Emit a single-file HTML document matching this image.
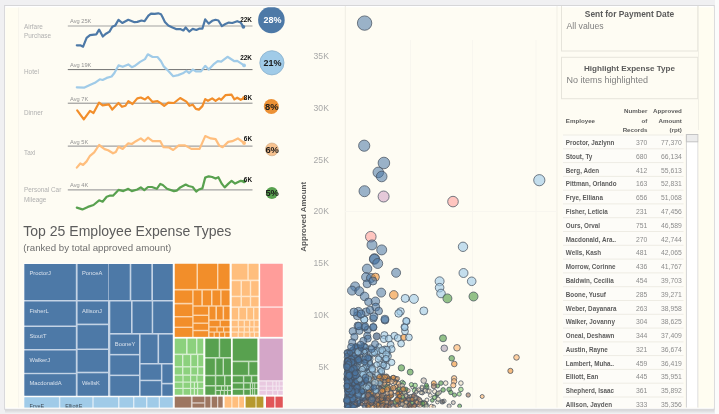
<!DOCTYPE html>
<html><head><meta charset="utf-8"><title>Expense Dashboard</title>
<style>
html,body{margin:0;padding:0;width:719px;height:414px;overflow:hidden;background:#f0f0f2;}
svg{display:block;position:absolute;left:0;top:0;font-family:"Liberation Sans", sans-serif;}
</style></head><body>
<svg width="719" height="414" viewBox="0 0 719 414">
<defs>
<filter id="bl" x="-10" y="-10" width="739" height="434" filterUnits="userSpaceOnUse"><feGaussianBlur stdDeviation="0.45"/></filter>
<linearGradient id="sh" x1="0" y1="0" x2="0" y2="1"><stop offset="0" stop-color="#cfcfd2"/><stop offset="1" stop-color="#f0f0f2"/></linearGradient>
<clipPath id="card"><rect x="5.2" y="6" width="708.6" height="401.6"/></clipPath>
</defs>
<g filter="url(#bl)">
<rect x="-10" y="-10" width="739" height="434" fill="#f0f0f2"/>
<rect x="5" y="409" width="709.5" height="4.5" fill="url(#sh)"/>
<rect x="715" y="-10" width="14" height="434" fill="#fcfcfc"/>
<rect x="4.6" y="5.5" width="709.7" height="403.8" fill="#ffffff" stroke="#d6d6d8" stroke-width="1"/>
<rect x="5.4" y="7.5" width="708.2" height="400.1" fill="#fffdf1"/>
<g clip-path="url(#card)">
<rect x="18.5" y="7.5" width="679" height="403" fill="#fefcf3"/>
<line x1="18.5" x2="18.5" y1="7.5" y2="409" stroke="#f7f5ec" stroke-width="1"/>
<!-- sparklines labels -->
<g font-size="6.4" fill="#b0b0b0">
<text x="24" y="29.0">Airfare</text><text x="24" y="37.7">Purchase</text>
<text x="24" y="74.3">Hotel</text>
<text x="24" y="114.8">Dinner</text>
<text x="24" y="155.3">Taxi</text>
<text x="24" y="192.3">Personal Car</text><text x="24" y="201.6">Mileage</text>
</g>
<line x1="67.8" x2="252.5" y1="26.0" y2="26.0" stroke="#a2a2a2" stroke-width="1.2"/>
<text x="70" y="23.4" font-size="5.7" fill="#929292">Avg 25K</text>
<polyline points="76.8,45.3 80.3,45.3 83.1,46.7 86.6,37.9 90,35.1 96.3,34.4 99.1,29.6 102.8,36.5 106,33.7 109.5,31.6 112.3,26.8 115.3,25.4 118.5,19.8 122.3,23 128.3,19.8 134.5,22.2 137.3,21.9 141.5,20.5 144.6,21.2 148.4,15.6 151,13.6 154.7,13.8 158.2,13.3 161,14.3 162.5,17 164.9,21.9 168.3,25.4 172.5,27.5 176,29.1 180.2,29.1 183.4,30.5 185.7,27.5 189.2,31.6 192.7,28.9 196.4,30 199.6,28.6 202.4,28.6 205.2,19.4 208.7,23.6 212.2,20.8 215.6,19.8 218.4,20.5 221.9,26.1 225.4,24 228.8,22.6 232.3,23 237.2,21.2 240.7,22.6 243.4,26.8" fill="none" stroke="#4e79a7" stroke-width="2.2" stroke-linejoin="round" stroke-linecap="round"/>
<circle cx="243.4" cy="26.8" r="1.9" fill="#4e79a7"/>
<text x="252" y="22.2" font-size="6.4" font-weight="700" fill="#111" text-anchor="end">22K</text>
<line x1="67.8" x2="252.5" y1="69.6" y2="69.6" stroke="#707070" stroke-width="1"/>
<text x="70" y="67.0" font-size="5.7" fill="#929292">Avg 19K</text>
<polyline points="76.8,87.4 84.5,87.6 89.3,85.3 94.9,82.8 99.8,79.3 102.6,80 106.7,77.9 111.6,76.5 114.4,73 118.5,65.4 122.7,66.8 128.3,64.4 131.8,67.2 134.5,66.1 140.1,61.9 145,59.1 147.8,54.3 152.6,57 157.5,57 161,61.2 163.5,66.1 167,69.6 173.2,76.2 178.1,75.1 182.9,73.3 186.4,70.9 189.2,73 192.7,69.6 196.2,71.4 201,71.4 205.2,65.8 208.7,69.6 213.5,64.4 217.7,61.2 221.2,61.6 227.5,56.8 234.4,61.2 237.2,60.8 244.1,65.4" fill="none" stroke="#a0cbe8" stroke-width="2.2" stroke-linejoin="round" stroke-linecap="round"/>
<circle cx="244.1" cy="65.4" r="1.9" fill="#a0cbe8"/>
<text x="252" y="60.4" font-size="6.4" font-weight="700" fill="#111" text-anchor="end">22K</text>
<line x1="67.8" x2="252.5" y1="103.2" y2="103.2" stroke="#8a8a8a" stroke-width="1"/>
<text x="70" y="100.6" font-size="5.7" fill="#929292">Avg 7K</text>
<polyline points="77.2,110.3 83.8,119.3 90,110.9 93.5,113 99.1,102.6 102.6,105.4 108.8,104.4 112.3,109.6 118.5,103 122,106.8 125.5,105.8 128.3,101.2 132.5,104 137.3,98.4 140.8,97.5 145,99.4 148,97 152.6,101.9 157.5,101.2 160,102.6 164.2,105.8 168.3,102.6 173.9,103 180.2,98 186.4,101.6 189.5,105.8 192.7,104.7 195.9,108.9 198.9,109.6 202.4,106.1 205.2,99.1 208,100.8 212.2,98.4 215.6,100.8 219.1,98.4 221.2,99.8 225.4,95.2 231.6,94.7 234.4,99.4 237.2,97.7 240.7,99.8 244.1,98" fill="none" stroke="#f28e2b" stroke-width="2.2" stroke-linejoin="round" stroke-linecap="round"/>
<circle cx="244.1" cy="98" r="1.9" fill="#f28e2b"/>
<text x="252" y="100.4" font-size="6.4" font-weight="700" fill="#111" text-anchor="end">8K</text>
<line x1="67.8" x2="252.5" y1="146.1" y2="146.1" stroke="#a2a2a2" stroke-width="1.2"/>
<text x="70" y="143.5" font-size="5.7" fill="#929292">Avg 5K</text>
<polyline points="76.8,167.6 80.3,163.5 83.1,164.9 86.6,161.4 90,155.8 94.2,152.3 99.1,145 104.6,149.1 108.1,150.3 113,153.3 115.8,151.9 118.5,146.8 122.7,148.9 128.3,143.3 131.8,144 135.9,141.2 140.8,138.4 144.3,141.2 148,137.7 152.6,141.2 160.3,141.2 163.5,147.2 169,147.5 173.2,150 178.8,145.4 185,145.4 191.3,148.9 199.6,148.9 205.2,136.1 210.8,138.4 215.6,139.1 219.1,145.4 222.6,147.2 228.2,141.9 232.3,141.2 237.9,138.4 244.1,143" fill="none" stroke="#ffbe7d" stroke-width="2.2" stroke-linejoin="round" stroke-linecap="round"/>
<circle cx="244.1" cy="143" r="1.9" fill="#ffbe7d"/>
<text x="252" y="141.2" font-size="6.4" font-weight="700" fill="#111" text-anchor="end">6K</text>
<line x1="67.8" x2="252.5" y1="189.9" y2="189.9" stroke="#a2a2a2" stroke-width="1.2"/>
<text x="70" y="187.3" font-size="5.7" fill="#929292">Avg 4K</text>
<polyline points="76.8,207.6 82.4,209.4 87.9,206.9 93.5,205 99.1,200.3 102.6,201.7 106.7,196.7 109.5,195.7 113,195.7 118.5,189.9 123.4,191.1 128.3,188.8 131.8,191.1 137.3,189.5 140.8,187.4 144.3,190.2 148,187 151.9,187 156.8,188.8 160.3,183.9 162.8,185 167,188.8 173.9,191.1 176.7,190.6 180.2,187.4 185.7,184.6 188.5,186 192.7,187 196.2,191.6 198.9,189.5 202.4,188.4 205.2,177.6 208.7,176.3 212.2,177 215.6,178.6 218.4,177.2 221.9,183.9 224.7,187.4 228.2,183.9 231.6,180.8 235.1,183.6 240.7,180.8 244.1,181.4" fill="none" stroke="#59a14f" stroke-width="2.2" stroke-linejoin="round" stroke-linecap="round"/>
<circle cx="244.1" cy="181.4" r="1.9" fill="#59a14f"/>
<text x="252" y="182.4" font-size="6.4" font-weight="700" fill="#111" text-anchor="end">6K</text>
<!-- pct circles -->
<clipPath id="c28"><rect x="250" y="7.3" width="50" height="40"/></clipPath><circle cx="271.4" cy="19.9" r="13.3" fill="#4e79a7" clip-path="url(#c28)"/>
<text x="272.6" y="23.0" font-size="9" font-weight="700" fill="#fff" text-anchor="middle">28%</text>
<circle cx="271.9" cy="62.8" r="12.1" fill="#a0cbe8" stroke="#86aecb" stroke-width="0.8"/>
<text x="272.6" y="66.0" font-size="9" font-weight="700" fill="#1a1a1a" text-anchor="middle">21%</text>
<circle cx="271.3" cy="106.5" r="7.5" fill="#ec9136"/>
<text x="271.8" y="110" font-size="9.4" font-weight="700" fill="#1a1a1a" text-anchor="middle">8%</text>
<circle cx="271.9" cy="149.4" r="6.4" fill="#f7c28f" stroke="#c9a47e" stroke-width="0.6"/>
<text x="272.2" y="152.9" font-size="9.4" font-weight="700" fill="#1a1a1a" text-anchor="middle">6%</text>
<circle cx="271.9" cy="192.9" r="6" fill="#59a14f"/>
<text x="272.2" y="196.3" font-size="9.4" font-weight="700" fill="#1a1a1a" text-anchor="middle">5%</text>
<!-- title -->
<text x="23.3" y="236" font-size="14.6" fill="#5c5c5c" textLength="208" lengthAdjust="spacingAndGlyphs">Top 25 Employee Expense Types</text>
<text x="23.3" y="250.6" font-size="9.6" fill="#6e6e6e" textLength="148" lengthAdjust="spacingAndGlyphs">(ranked by total approved amount)</text>
<!-- treemap -->
<rect x="23.6" y="263" width="260" height="147" fill="#fdfdfb"/>
<rect x="24.4" y="264" width="148.3" height="131.7" fill="#c3d3e5"/>
<rect x="24.4" y="397.3" width="148.3" height="13" fill="#dcebf6"/>
<rect x="174.8" y="263.8" width="54.7" height="73" fill="#fbd5ab"/>
<rect x="231.8" y="263.8" width="26.7" height="73" fill="#ffe6c9"/>
<rect x="260.2" y="263.8" width="22.5" height="73" fill="#ffdcdb"/>
<rect x="174.8" y="338.7" width="28.4" height="56" fill="#d6efd0"/>
<rect x="205.4" y="338.7" width="25.5" height="56" fill="#c2dfbe"/>
<rect x="232.8" y="338.7" width="24.5" height="56" fill="#c2dfbe"/>
<rect x="259.5" y="338.7" width="23.2" height="56" fill="#f3e6ef"/>
<rect x="174.8" y="396.7" width="47.8" height="13.3" fill="#dccfc7"/>
<rect x="224.7" y="396.7" width="19.3" height="13.3" fill="#ffe6c9"/>
<rect x="245.7" y="396.7" width="17.6" height="13.3" fill="#e4d9a8"/>
<rect x="266" y="396.7" width="16.7" height="13.3" fill="#f4c0c1"/>
<rect x="24.4" y="264.0" width="51.4" height="36.0" fill="#4e79a7"/>
<rect x="77.6" y="264.0" width="30.4" height="36.0" fill="#4e79a7"/>
<rect x="108.6" y="264.0" width="21.1" height="36.0" fill="#4e79a7"/>
<rect x="131.3" y="264.0" width="20.0" height="36.0" fill="#4e79a7"/>
<rect x="153.0" y="264.0" width="19.7" height="36.0" fill="#4e79a7"/>
<rect x="24.4" y="301.5" width="51.4" height="24.0" fill="#4e79a7"/>
<rect x="77.6" y="301.5" width="30.4" height="22.1" fill="#4e79a7"/>
<rect x="110.3" y="301.5" width="20.7" height="31.5" fill="#4e79a7"/>
<rect x="132.6" y="301.5" width="19.1" height="31.5" fill="#4e79a7"/>
<rect x="153.2" y="301.5" width="19.5" height="31.5" fill="#4e79a7"/>
<rect x="24.4" y="327.0" width="51.4" height="22.0" fill="#4e79a7"/>
<rect x="24.4" y="350.5" width="51.4" height="22.3" fill="#4e79a7"/>
<rect x="24.4" y="374.2" width="51.4" height="21.5" fill="#4e79a7"/>
<rect x="77.6" y="325.2" width="30.4" height="23.3" fill="#4e79a7"/>
<rect x="77.6" y="350.0" width="30.4" height="21.7" fill="#4e79a7"/>
<rect x="77.6" y="373.3" width="30.4" height="22.4" fill="#4e79a7"/>
<rect x="110.3" y="334.6" width="28.7" height="19.3" fill="#4e79a7"/>
<rect x="110.3" y="355.4" width="28.7" height="19.2" fill="#4e79a7"/>
<rect x="110.3" y="376.1" width="28.7" height="19.6" fill="#4e79a7"/>
<rect x="140.6" y="334.6" width="16.9" height="28.4" fill="#4e79a7"/>
<rect x="159.1" y="334.6" width="13.6" height="28.4" fill="#4e79a7"/>
<rect x="140.6" y="364.5" width="20.3" height="15.2" fill="#4e79a7"/>
<rect x="140.6" y="381.2" width="20.3" height="14.5" fill="#4e79a7"/>
<rect x="162.4" y="364.5" width="10.3" height="18.3" fill="#4e79a7"/>
<rect x="162.4" y="384.4" width="10.3" height="11.3" fill="#4e79a7"/>
<rect x="24.4" y="397.3" width="34.5" height="12.7" fill="#a0cbe8"/>
<rect x="60.3" y="397.3" width="32.0" height="12.7" fill="#a0cbe8"/>
<rect x="93.7" y="397.3" width="24.3" height="12.7" fill="#a0cbe8"/>
<rect x="119.5" y="397.3" width="13.5" height="12.7" fill="#a0cbe8"/>
<rect x="134.4" y="397.3" width="11.6" height="12.7" fill="#a0cbe8"/>
<rect x="147.4" y="397.3" width="11.3" height="12.7" fill="#a0cbe8"/>
<rect x="160.0" y="397.3" width="12.7" height="12.7" fill="#a0cbe8"/>
<rect x="174.8" y="263.8" width="21.7" height="25.1" fill="#f28e2b"/>
<rect x="198.0" y="263.8" width="19.0" height="25.1" fill="#f28e2b"/>
<rect x="218.4" y="263.8" width="11.1" height="25.1" fill="#f28e2b"/>
<rect x="174.8" y="290.5" width="17.4" height="12.3" fill="#f28e2b"/>
<rect x="174.8" y="304.4" width="17.4" height="11.6" fill="#f28e2b"/>
<rect x="174.8" y="317.4" width="17.4" height="9.2" fill="#f28e2b"/>
<rect x="174.8" y="328.0" width="17.4" height="8.8" fill="#f28e2b"/>
<rect x="193.6" y="290.5" width="7.7" height="14.8" fill="#f28e2b"/>
<rect x="202.9" y="290.5" width="8.1" height="14.8" fill="#f28e2b"/>
<rect x="212.5" y="290.5" width="7.7" height="14.8" fill="#f28e2b"/>
<rect x="221.6" y="290.5" width="7.9" height="14.8" fill="#f28e2b"/>
<rect x="193.6" y="306.7" width="14.4" height="7.9" fill="#f28e2b"/>
<rect x="193.6" y="316.0" width="14.4" height="6.5" fill="#f28e2b"/>
<rect x="193.6" y="323.9" width="14.4" height="5.9" fill="#f28e2b"/>
<rect x="193.6" y="331.2" width="14.4" height="5.6" fill="#f28e2b"/>
<rect x="209.6" y="306.7" width="5.8" height="12.7" fill="#f28e2b"/>
<rect x="217.0" y="306.7" width="5.6" height="12.7" fill="#f28e2b"/>
<rect x="224.1" y="306.7" width="5.4" height="12.7" fill="#f28e2b"/>
<rect x="209.6" y="320.8" width="10.0" height="5.5" fill="#f28e2b"/>
<rect x="220.8" y="320.8" width="8.7" height="5.5" fill="#f28e2b"/>
<rect x="209.6" y="327.5" width="6.8" height="4.0" fill="#f28e2b"/>
<rect x="217.6" y="327.5" width="5.4" height="4.0" fill="#f28e2b"/>
<rect x="224.2" y="327.5" width="5.3" height="4.0" fill="#f28e2b"/>
<rect x="209.6" y="332.7" width="4.0" height="4.1" fill="#f28e2b"/>
<rect x="214.8" y="332.7" width="4.0" height="4.1" fill="#f28e2b"/>
<rect x="220.1" y="332.7" width="4.0" height="4.1" fill="#f28e2b"/>
<rect x="225.3" y="332.7" width="4.2" height="4.1" fill="#f28e2b"/>
<rect x="231.8" y="263.8" width="15.5" height="15.8" fill="#ffbe7d"/>
<rect x="248.8" y="263.8" width="9.7" height="15.8" fill="#ffbe7d"/>
<rect x="231.8" y="281.2" width="8.7" height="14.5" fill="#ffbe7d"/>
<rect x="242.0" y="281.2" width="7.8" height="14.5" fill="#ffbe7d"/>
<rect x="251.2" y="281.2" width="7.3" height="14.5" fill="#ffbe7d"/>
<rect x="231.8" y="297.2" width="8.7" height="9.1" fill="#ffbe7d"/>
<rect x="242.0" y="297.2" width="7.8" height="9.1" fill="#ffbe7d"/>
<rect x="251.2" y="297.2" width="7.3" height="9.1" fill="#ffbe7d"/>
<rect x="231.8" y="307.9" width="6.2" height="11.5" fill="#ffbe7d"/>
<rect x="239.5" y="307.9" width="6.5" height="11.5" fill="#ffbe7d"/>
<rect x="247.4" y="307.9" width="5.6" height="11.5" fill="#ffbe7d"/>
<rect x="254.3" y="307.9" width="4.2" height="11.5" fill="#ffbe7d"/>
<rect x="231.8" y="320.8" width="5.9" height="5.5" fill="#ffbe7d"/>
<rect x="238.9" y="320.8" width="4.8" height="5.5" fill="#ffbe7d"/>
<rect x="244.9" y="320.8" width="4.2" height="5.5" fill="#ffbe7d"/>
<rect x="250.3" y="320.8" width="3.2" height="5.5" fill="#ffbe7d"/>
<rect x="254.7" y="320.8" width="3.8" height="5.5" fill="#ffbe7d"/>
<rect x="231.8" y="327.5" width="6.2" height="4.0" fill="#ffbe7d"/>
<rect x="239.2" y="327.5" width="4.5" height="4.0" fill="#ffbe7d"/>
<rect x="244.9" y="327.5" width="3.9" height="4.0" fill="#ffbe7d"/>
<rect x="250.0" y="327.5" width="3.3" height="4.0" fill="#ffbe7d"/>
<rect x="254.5" y="327.5" width="4.0" height="4.0" fill="#ffbe7d"/>
<rect x="231.8" y="332.7" width="5.8" height="4.1" fill="#ffbe7d"/>
<rect x="238.8" y="332.7" width="4.6" height="4.1" fill="#ffbe7d"/>
<rect x="244.6" y="332.7" width="4.6" height="4.1" fill="#ffbe7d"/>
<rect x="250.4" y="332.7" width="3.4" height="4.1" fill="#ffbe7d"/>
<rect x="255.0" y="332.7" width="3.5" height="4.1" fill="#ffbe7d"/>
<rect x="260.2" y="263.8" width="22.5" height="42.5" fill="#ff9d9a"/>
<rect x="260.2" y="307.9" width="22.5" height="28.9" fill="#ff9d9a"/>
<rect x="174.8" y="338.7" width="11.2" height="14.9" fill="#8cd17d"/>
<rect x="187.6" y="338.7" width="8.4" height="14.9" fill="#8cd17d"/>
<rect x="197.4" y="338.7" width="5.8" height="14.9" fill="#8cd17d"/>
<rect x="174.8" y="355.1" width="7.2" height="11.0" fill="#8cd17d"/>
<rect x="183.4" y="355.1" width="6.6" height="11.0" fill="#8cd17d"/>
<rect x="191.4" y="355.1" width="5.6" height="11.0" fill="#8cd17d"/>
<rect x="198.4" y="355.1" width="4.8" height="11.0" fill="#8cd17d"/>
<rect x="174.8" y="367.5" width="7.2" height="6.9" fill="#8cd17d"/>
<rect x="183.4" y="367.5" width="6.6" height="6.9" fill="#8cd17d"/>
<rect x="191.4" y="367.5" width="5.6" height="6.9" fill="#8cd17d"/>
<rect x="198.4" y="367.5" width="4.8" height="6.9" fill="#8cd17d"/>
<rect x="174.8" y="375.8" width="7.6" height="5.7" fill="#8cd17d"/>
<rect x="183.6" y="375.8" width="6.4" height="5.7" fill="#8cd17d"/>
<rect x="191.2" y="375.8" width="5.1" height="5.7" fill="#8cd17d"/>
<rect x="197.5" y="375.8" width="5.7" height="5.7" fill="#8cd17d"/>
<rect x="174.8" y="382.7" width="7.6" height="5.1" fill="#8cd17d"/>
<rect x="183.6" y="382.7" width="6.4" height="5.1" fill="#8cd17d"/>
<rect x="191.2" y="382.7" width="2.6" height="5.1" fill="#8cd17d"/>
<rect x="195.0" y="382.7" width="2.0" height="5.1" fill="#8cd17d"/>
<rect x="198.2" y="382.7" width="5.0" height="5.1" fill="#8cd17d"/>
<rect x="174.8" y="389.0" width="7.6" height="5.7" fill="#8cd17d"/>
<rect x="183.6" y="389.0" width="6.4" height="5.7" fill="#8cd17d"/>
<rect x="191.2" y="389.0" width="2.6" height="5.7" fill="#8cd17d"/>
<rect x="195.0" y="389.0" width="2.0" height="5.7" fill="#8cd17d"/>
<rect x="198.2" y="389.0" width="5.0" height="5.7" fill="#8cd17d"/>
<rect x="205.4" y="338.7" width="13.3" height="18.3" fill="#59a14f"/>
<rect x="220.2" y="338.7" width="10.7" height="18.3" fill="#59a14f"/>
<rect x="205.4" y="358.6" width="9.4" height="16.2" fill="#59a14f"/>
<rect x="216.3" y="358.6" width="6.3" height="16.2" fill="#59a14f"/>
<rect x="224.0" y="358.6" width="6.9" height="16.2" fill="#59a14f"/>
<rect x="205.4" y="376.3" width="9.4" height="8.7" fill="#59a14f"/>
<rect x="216.3" y="376.3" width="7.7" height="8.7" fill="#59a14f"/>
<rect x="225.4" y="376.3" width="5.5" height="8.7" fill="#59a14f"/>
<rect x="205.4" y="386.5" width="9.4" height="8.2" fill="#59a14f"/>
<rect x="216.3" y="386.5" width="4.6" height="3.4" fill="#59a14f"/>
<rect x="222.0" y="386.5" width="2.2" height="3.4" fill="#59a14f"/>
<rect x="225.2" y="386.5" width="1.7" height="3.4" fill="#59a14f"/>
<rect x="228.1" y="386.5" width="2.8" height="3.4" fill="#59a14f"/>
<rect x="216.3" y="391.0" width="3.6" height="3.7" fill="#59a14f"/>
<rect x="221.0" y="391.0" width="2.7" height="3.7" fill="#59a14f"/>
<rect x="224.8" y="391.0" width="2.2" height="3.7" fill="#59a14f"/>
<rect x="228.1" y="391.0" width="2.8" height="3.7" fill="#59a14f"/>
<rect x="232.8" y="338.7" width="24.5" height="21.9" fill="#59a14f"/>
<rect x="232.8" y="362.2" width="15.1" height="12.6" fill="#59a14f"/>
<rect x="249.4" y="362.2" width="7.9" height="12.6" fill="#59a14f"/>
<rect x="232.8" y="376.3" width="10.1" height="5.9" fill="#59a14f"/>
<rect x="244.3" y="376.3" width="6.5" height="5.9" fill="#59a14f"/>
<rect x="252.2" y="376.3" width="5.1" height="5.9" fill="#59a14f"/>
<rect x="232.8" y="383.6" width="10.1" height="4.9" fill="#59a14f"/>
<rect x="244.3" y="383.6" width="5.5" height="4.9" fill="#59a14f"/>
<rect x="251.0" y="383.6" width="1.1" height="4.5" fill="#59a14f"/>
<rect x="253.1" y="383.6" width="1.1" height="4.5" fill="#59a14f"/>
<rect x="255.2" y="383.6" width="2.1" height="4.5" fill="#59a14f"/>
<rect x="251.0" y="389.1" width="1.1" height="5.5" fill="#59a14f"/>
<rect x="253.1" y="389.1" width="1.1" height="5.5" fill="#59a14f"/>
<rect x="255.2" y="389.1" width="2.1" height="5.5" fill="#59a14f"/>
<rect x="232.8" y="389.9" width="10.1" height="4.8" fill="#59a14f"/>
<rect x="244.3" y="389.9" width="5.5" height="4.8" fill="#59a14f"/>
<rect x="259.5" y="338.7" width="23.2" height="41.5" fill="#d4a6c8"/>
<rect x="259.5" y="381.6" width="6.3" height="4.0" fill="#e9c9e0"/>
<rect x="266.9" y="381.6" width="5.3" height="4.0" fill="#e9c9e0"/>
<rect x="273.3" y="381.6" width="2.4" height="4.0" fill="#e9c9e0"/>
<rect x="276.8" y="381.6" width="1.9" height="4.0" fill="#e9c9e0"/>
<rect x="279.7" y="381.6" width="3.0" height="4.0" fill="#e9c9e0"/>
<rect x="259.5" y="386.7" width="6.3" height="3.1" fill="#e9c9e0"/>
<rect x="266.9" y="386.7" width="5.3" height="3.1" fill="#e9c9e0"/>
<rect x="273.3" y="386.7" width="2.4" height="3.1" fill="#e9c9e0"/>
<rect x="276.8" y="386.7" width="1.9" height="3.1" fill="#e9c9e0"/>
<rect x="279.7" y="386.7" width="3.0" height="3.1" fill="#e9c9e0"/>
<rect x="259.5" y="390.9" width="6.3" height="3.8" fill="#e9c9e0"/>
<rect x="266.9" y="390.9" width="5.3" height="3.8" fill="#e9c9e0"/>
<rect x="273.3" y="390.9" width="3.8" height="3.8" fill="#e9c9e0"/>
<rect x="278.3" y="390.9" width="4.4" height="3.8" fill="#e9c9e0"/>
<rect x="174.8" y="396.7" width="16.1" height="13.3" fill="#9d7660"/>
<rect x="192.6" y="396.7" width="11.6" height="5.6" fill="#9d7660"/>
<rect x="192.6" y="403.6" width="11.6" height="6.4" fill="#9d7660"/>
<rect x="205.4" y="396.7" width="4.8" height="13.3" fill="#9d7660"/>
<rect x="211.9" y="396.7" width="5.1" height="13.3" fill="#9d7660"/>
<rect x="218.3" y="396.7" width="4.3" height="13.3" fill="#9d7660"/>
<rect x="224.7" y="396.7" width="6.5" height="13.3" fill="#ffbe7d"/>
<rect x="232.5" y="396.7" width="5.5" height="13.3" fill="#ffbe7d"/>
<rect x="239.3" y="396.7" width="4.7" height="13.3" fill="#ffbe7d"/>
<rect x="245.7" y="396.7" width="9.6" height="13.3" fill="#b6992d"/>
<rect x="256.7" y="396.7" width="6.6" height="13.3" fill="#b6992d"/>
<rect x="266.0" y="396.7" width="8.0" height="13.3" fill="#e15759"/>
<rect x="275.7" y="396.7" width="7.0" height="13.3" fill="#e15759"/>
<text x="29.4" y="275.2" font-size="5.8" fill="#d6e0ec">ProctorJ</text>
<text x="82" y="275.2" font-size="5.8" fill="#d6e0ec">PonceA</text>
<text x="29.4" y="312.7" font-size="5.8" fill="#d6e0ec">FisherL</text>
<text x="82" y="312.7" font-size="5.8" fill="#d6e0ec">AllisonJ</text>
<text x="29.4" y="338.2" font-size="5.8" fill="#d6e0ec">StoutT</text>
<text x="114.8" y="345.7" font-size="5.8" fill="#d6e0ec">BooneY</text>
<text x="29.4" y="362.2" font-size="5.8" fill="#d6e0ec">WalkerJ</text>
<text x="29.4" y="385.2" font-size="5.8" fill="#d6e0ec">MacdonaldA</text>
<text x="82" y="384.7" font-size="5.8" fill="#d6e0ec">WellsK</text>
<text x="29.6" y="408.4" font-size="5.5" fill="#3b4650">FryeE</text>
<text x="65.2" y="408.4" font-size="5.5" fill="#3b4650">ElliottE</text>
<!-- scatter -->
<line x1="345.3" x2="345.3" y1="6" y2="409" stroke="#efede4" stroke-width="1"/>
<line x1="557" x2="557" y1="6" y2="409" stroke="#f1efe6" stroke-width="1"/>
<g stroke="#f8f6ef" stroke-width="1">
<line x1="410.6" x2="410.6" y1="40" y2="409"/><line x1="472.5" x2="472.5" y1="40" y2="409"/><line x1="536" x2="536" y1="40" y2="409"/>
<line x1="345" x2="557" y1="211.6" y2="211.6"/>
</g>
<text x="328.9" y="58.6" font-size="8.6" fill="#a8a8a8" text-anchor="end">35K</text>
<text x="328.9" y="110.6" font-size="8.6" fill="#a8a8a8" text-anchor="end">30K</text>
<text x="328.9" y="162.6" font-size="8.6" fill="#a8a8a8" text-anchor="end">25K</text>
<text x="328.9" y="214.2" font-size="8.6" fill="#a8a8a8" text-anchor="end">20K</text>
<text x="328.9" y="266.0" font-size="8.6" fill="#a8a8a8" text-anchor="end">15K</text>
<text x="328.9" y="317.8" font-size="8.6" fill="#a8a8a8" text-anchor="end">10K</text>
<text x="328.9" y="369.6" font-size="8.6" fill="#a8a8a8" text-anchor="end">5K</text>
<text transform="translate(306.3,216.8) rotate(-90)" font-size="8.05" font-weight="700" fill="#5a5a5a" text-anchor="middle">Approved Amount</text>
<circle cx="379.7" cy="393.8" r="2.5" fill="#e8923c" fill-opacity="0.5" stroke="#46505e" stroke-opacity="0.82" stroke-width="0.9"/>
<circle cx="382.0" cy="403.3" r="1.9" fill="#f7c28f" fill-opacity="0.55" stroke="#46505e" stroke-opacity="0.82" stroke-width="0.9"/>
<circle cx="352.8" cy="376.8" r="2.8" fill="#4e79a7" fill-opacity="0.57" stroke="#46505e" stroke-opacity="0.82" stroke-width="0.9"/>
<circle cx="368.6" cy="384.9" r="2.5" fill="#a0cbe8" fill-opacity="0.62" stroke="#46505e" stroke-opacity="0.82" stroke-width="0.9"/>
<circle cx="365.7" cy="376.2" r="2.5" fill="#a0cbe8" fill-opacity="0.62" stroke="#46505e" stroke-opacity="0.82" stroke-width="0.9"/>
<circle cx="358.5" cy="361.9" r="3.3" fill="#a0cbe8" fill-opacity="0.62" stroke="#46505e" stroke-opacity="0.82" stroke-width="0.9"/>
<circle cx="347.0" cy="388.2" r="2.9" fill="#4e79a7" fill-opacity="0.57" stroke="#46505e" stroke-opacity="0.82" stroke-width="0.9"/>
<circle cx="370.9" cy="347.6" r="2.8" fill="#a0cbe8" fill-opacity="0.62" stroke="#46505e" stroke-opacity="0.82" stroke-width="0.9"/>
<circle cx="349.0" cy="407.6" r="3.2" fill="#4e79a7" fill-opacity="0.57" stroke="#46505e" stroke-opacity="0.82" stroke-width="0.9"/>
<circle cx="388.7" cy="395.0" r="2.4" fill="#e8923c" fill-opacity="0.5" stroke="#46505e" stroke-opacity="0.82" stroke-width="0.9"/>
<circle cx="374.1" cy="385.9" r="2.7" fill="#a0cbe8" fill-opacity="0.62" stroke="#46505e" stroke-opacity="0.82" stroke-width="0.9"/>
<circle cx="351.2" cy="365.7" r="2.9" fill="#4e79a7" fill-opacity="0.57" stroke="#46505e" stroke-opacity="0.82" stroke-width="0.9"/>
<circle cx="365.3" cy="377.5" r="2.7" fill="#4e79a7" fill-opacity="0.57" stroke="#46505e" stroke-opacity="0.82" stroke-width="0.9"/>
<circle cx="349.3" cy="403.3" r="3.0" fill="#4e79a7" fill-opacity="0.57" stroke="#46505e" stroke-opacity="0.82" stroke-width="0.9"/>
<circle cx="353.2" cy="388.8" r="2.4" fill="#4e79a7" fill-opacity="0.57" stroke="#46505e" stroke-opacity="0.82" stroke-width="0.9"/>
<circle cx="359.3" cy="352.6" r="3.2" fill="#4e79a7" fill-opacity="0.57" stroke="#46505e" stroke-opacity="0.82" stroke-width="0.9"/>
<circle cx="350.9" cy="398.0" r="2.8" fill="#4e79a7" fill-opacity="0.57" stroke="#46505e" stroke-opacity="0.82" stroke-width="0.9"/>
<circle cx="374.1" cy="376.4" r="2.2" fill="#e8923c" fill-opacity="0.5" stroke="#46505e" stroke-opacity="0.82" stroke-width="0.9"/>
<circle cx="431.5" cy="406.7" r="2.5" fill="#f7c28f" fill-opacity="0.55" stroke="#46505e" stroke-opacity="0.82" stroke-width="0.9"/>
<circle cx="406.5" cy="406.0" r="2.5" fill="#9d7660" fill-opacity="0.62" stroke="#46505e" stroke-opacity="0.82" stroke-width="0.9"/>
<circle cx="369.0" cy="359.4" r="2.6" fill="#4e79a7" fill-opacity="0.57" stroke="#46505e" stroke-opacity="0.82" stroke-width="0.9"/>
<circle cx="351.7" cy="367.8" r="2.9" fill="#4e79a7" fill-opacity="0.57" stroke="#46505e" stroke-opacity="0.82" stroke-width="0.9"/>
<circle cx="388.2" cy="398.9" r="2.5" fill="#9d7660" fill-opacity="0.62" stroke="#46505e" stroke-opacity="0.82" stroke-width="0.9"/>
<circle cx="384.3" cy="382.6" r="2.3" fill="#e8923c" fill-opacity="0.5" stroke="#46505e" stroke-opacity="0.82" stroke-width="0.9"/>
<circle cx="348.4" cy="361.2" r="2.4" fill="#4e79a7" fill-opacity="0.57" stroke="#46505e" stroke-opacity="0.82" stroke-width="0.9"/>
<circle cx="347.3" cy="360.9" r="3.1" fill="#4e79a7" fill-opacity="0.57" stroke="#46505e" stroke-opacity="0.82" stroke-width="0.9"/>
<circle cx="350.6" cy="407.3" r="2.9" fill="#4e79a7" fill-opacity="0.57" stroke="#46505e" stroke-opacity="0.82" stroke-width="0.9"/>
<circle cx="366.5" cy="394.3" r="2.8" fill="#4e79a7" fill-opacity="0.57" stroke="#46505e" stroke-opacity="0.82" stroke-width="0.9"/>
<circle cx="349.4" cy="400.0" r="3.3" fill="#4e79a7" fill-opacity="0.57" stroke="#46505e" stroke-opacity="0.82" stroke-width="0.9"/>
<circle cx="393.1" cy="402.6" r="1.9" fill="#9d7660" fill-opacity="0.62" stroke="#46505e" stroke-opacity="0.82" stroke-width="0.9"/>
<circle cx="361.3" cy="400.8" r="1.9" fill="#9d7660" fill-opacity="0.62" stroke="#46505e" stroke-opacity="0.82" stroke-width="0.9"/>
<circle cx="405.0" cy="404.0" r="2.5" fill="#9d7660" fill-opacity="0.62" stroke="#46505e" stroke-opacity="0.82" stroke-width="0.9"/>
<circle cx="404.7" cy="394.0" r="2.7" fill="#e8923c" fill-opacity="0.5" stroke="#46505e" stroke-opacity="0.82" stroke-width="0.9"/>
<circle cx="354.3" cy="397.4" r="3.1" fill="#4e79a7" fill-opacity="0.57" stroke="#46505e" stroke-opacity="0.82" stroke-width="0.9"/>
<circle cx="422.6" cy="392.1" r="2.0" fill="#e9dcc0" fill-opacity="0.5" stroke="#46505e" stroke-opacity="0.82" stroke-width="0.9"/>
<circle cx="353.1" cy="403.8" r="3.2" fill="#4e79a7" fill-opacity="0.57" stroke="#46505e" stroke-opacity="0.82" stroke-width="0.9"/>
<circle cx="377.5" cy="404.9" r="2.8" fill="#e8923c" fill-opacity="0.5" stroke="#46505e" stroke-opacity="0.82" stroke-width="0.9"/>
<circle cx="349.4" cy="401.4" r="2.9" fill="#4e79a7" fill-opacity="0.57" stroke="#46505e" stroke-opacity="0.82" stroke-width="0.9"/>
<circle cx="391.9" cy="394.8" r="2.3" fill="#e8923c" fill-opacity="0.5" stroke="#46505e" stroke-opacity="0.82" stroke-width="0.9"/>
<circle cx="352.7" cy="396.2" r="3.2" fill="#4e79a7" fill-opacity="0.57" stroke="#46505e" stroke-opacity="0.82" stroke-width="0.9"/>
<circle cx="398.3" cy="400.7" r="1.8" fill="#9d7660" fill-opacity="0.62" stroke="#46505e" stroke-opacity="0.82" stroke-width="0.9"/>
<circle cx="382.1" cy="385.4" r="3.1" fill="#a0cbe8" fill-opacity="0.62" stroke="#46505e" stroke-opacity="0.82" stroke-width="0.9"/>
<circle cx="354.9" cy="347.9" r="2.9" fill="#4e79a7" fill-opacity="0.57" stroke="#46505e" stroke-opacity="0.82" stroke-width="0.9"/>
<circle cx="418.4" cy="400.7" r="2.3" fill="#9d7660" fill-opacity="0.62" stroke="#46505e" stroke-opacity="0.82" stroke-width="0.9"/>
<circle cx="351.0" cy="403.5" r="3.0" fill="#4e79a7" fill-opacity="0.57" stroke="#46505e" stroke-opacity="0.82" stroke-width="0.9"/>
<circle cx="346.9" cy="371.5" r="2.4" fill="#4e79a7" fill-opacity="0.57" stroke="#46505e" stroke-opacity="0.82" stroke-width="0.9"/>
<circle cx="426.9" cy="400.0" r="2.0" fill="#e9dcc0" fill-opacity="0.5" stroke="#46505e" stroke-opacity="0.82" stroke-width="0.9"/>
<circle cx="351.8" cy="403.5" r="3.2" fill="#4e79a7" fill-opacity="0.57" stroke="#46505e" stroke-opacity="0.82" stroke-width="0.9"/>
<circle cx="386.4" cy="376.2" r="2.3" fill="#e8923c" fill-opacity="0.5" stroke="#46505e" stroke-opacity="0.82" stroke-width="0.9"/>
<circle cx="370.1" cy="397.0" r="2.0" fill="#9d7660" fill-opacity="0.62" stroke="#46505e" stroke-opacity="0.82" stroke-width="0.9"/>
<circle cx="369.3" cy="399.6" r="2.0" fill="#e8923c" fill-opacity="0.5" stroke="#46505e" stroke-opacity="0.82" stroke-width="0.9"/>
<circle cx="358.1" cy="362.9" r="2.5" fill="#a0cbe8" fill-opacity="0.62" stroke="#46505e" stroke-opacity="0.82" stroke-width="0.9"/>
<circle cx="379.2" cy="384.4" r="2.8" fill="#e8923c" fill-opacity="0.5" stroke="#46505e" stroke-opacity="0.82" stroke-width="0.9"/>
<circle cx="371.3" cy="377.8" r="2.2" fill="#e8923c" fill-opacity="0.5" stroke="#46505e" stroke-opacity="0.82" stroke-width="0.9"/>
<circle cx="388.0" cy="379.7" r="2.4" fill="#e8923c" fill-opacity="0.5" stroke="#46505e" stroke-opacity="0.82" stroke-width="0.9"/>
<circle cx="373.0" cy="396.3" r="1.9" fill="#e8923c" fill-opacity="0.5" stroke="#46505e" stroke-opacity="0.82" stroke-width="0.9"/>
<circle cx="380.0" cy="363.8" r="3.1" fill="#a0cbe8" fill-opacity="0.62" stroke="#46505e" stroke-opacity="0.82" stroke-width="0.9"/>
<circle cx="374.2" cy="383.9" r="2.7" fill="#e8923c" fill-opacity="0.5" stroke="#46505e" stroke-opacity="0.82" stroke-width="0.9"/>
<circle cx="406.6" cy="402.1" r="2.2" fill="#9d7660" fill-opacity="0.62" stroke="#46505e" stroke-opacity="0.82" stroke-width="0.9"/>
<circle cx="357.9" cy="368.3" r="2.6" fill="#4e79a7" fill-opacity="0.57" stroke="#46505e" stroke-opacity="0.82" stroke-width="0.9"/>
<circle cx="372.4" cy="396.3" r="2.0" fill="#9d7660" fill-opacity="0.62" stroke="#46505e" stroke-opacity="0.82" stroke-width="0.9"/>
<circle cx="384.7" cy="403.1" r="2.4" fill="#f7c28f" fill-opacity="0.55" stroke="#46505e" stroke-opacity="0.82" stroke-width="0.9"/>
<circle cx="359.2" cy="379.0" r="3.3" fill="#a0cbe8" fill-opacity="0.62" stroke="#46505e" stroke-opacity="0.82" stroke-width="0.9"/>
<circle cx="385.5" cy="406.4" r="2.2" fill="#e8923c" fill-opacity="0.5" stroke="#46505e" stroke-opacity="0.82" stroke-width="0.9"/>
<circle cx="357.6" cy="359.1" r="3.3" fill="#4e79a7" fill-opacity="0.57" stroke="#46505e" stroke-opacity="0.82" stroke-width="0.9"/>
<circle cx="393.7" cy="407.3" r="2.1" fill="#9d7660" fill-opacity="0.62" stroke="#46505e" stroke-opacity="0.82" stroke-width="0.9"/>
<circle cx="399.7" cy="396.4" r="2.7" fill="#e8923c" fill-opacity="0.5" stroke="#46505e" stroke-opacity="0.82" stroke-width="0.9"/>
<circle cx="361.5" cy="389.1" r="2.6" fill="#a0cbe8" fill-opacity="0.62" stroke="#46505e" stroke-opacity="0.82" stroke-width="0.9"/>
<circle cx="355.1" cy="387.1" r="3.3" fill="#4e79a7" fill-opacity="0.57" stroke="#46505e" stroke-opacity="0.82" stroke-width="0.9"/>
<circle cx="400.2" cy="397.0" r="1.8" fill="#9d7660" fill-opacity="0.62" stroke="#46505e" stroke-opacity="0.82" stroke-width="0.9"/>
<circle cx="368.3" cy="397.2" r="2.2" fill="#8cd17d" fill-opacity="0.65" stroke="#46505e" stroke-opacity="0.82" stroke-width="0.9"/>
<circle cx="355.3" cy="397.5" r="2.8" fill="#4e79a7" fill-opacity="0.57" stroke="#46505e" stroke-opacity="0.82" stroke-width="0.9"/>
<circle cx="366.3" cy="367.0" r="2.6" fill="#4e79a7" fill-opacity="0.57" stroke="#46505e" stroke-opacity="0.82" stroke-width="0.9"/>
<circle cx="365.0" cy="354.3" r="2.7" fill="#a0cbe8" fill-opacity="0.62" stroke="#46505e" stroke-opacity="0.82" stroke-width="0.9"/>
<circle cx="397.0" cy="400.8" r="2.2" fill="#59a14f" fill-opacity="0.65" stroke="#46505e" stroke-opacity="0.82" stroke-width="0.9"/>
<circle cx="364.6" cy="358.5" r="2.7" fill="#4e79a7" fill-opacity="0.57" stroke="#46505e" stroke-opacity="0.82" stroke-width="0.9"/>
<circle cx="351.8" cy="390.5" r="3.3" fill="#4e79a7" fill-opacity="0.57" stroke="#46505e" stroke-opacity="0.82" stroke-width="0.9"/>
<circle cx="388.2" cy="400.4" r="2.1" fill="#e8923c" fill-opacity="0.5" stroke="#46505e" stroke-opacity="0.82" stroke-width="0.9"/>
<circle cx="416.5" cy="397.9" r="2.3" fill="#9d7660" fill-opacity="0.62" stroke="#46505e" stroke-opacity="0.82" stroke-width="0.9"/>
<circle cx="368.8" cy="374.4" r="3.5" fill="#4e79a7" fill-opacity="0.57" stroke="#46505e" stroke-opacity="0.82" stroke-width="0.9"/>
<circle cx="380.2" cy="401.7" r="2.3" fill="#e8923c" fill-opacity="0.5" stroke="#46505e" stroke-opacity="0.82" stroke-width="0.9"/>
<circle cx="398.8" cy="383.9" r="2.5" fill="#e8923c" fill-opacity="0.5" stroke="#46505e" stroke-opacity="0.82" stroke-width="0.9"/>
<circle cx="368.3" cy="378.0" r="3.1" fill="#a0cbe8" fill-opacity="0.62" stroke="#46505e" stroke-opacity="0.82" stroke-width="0.9"/>
<circle cx="355.2" cy="365.4" r="2.5" fill="#4e79a7" fill-opacity="0.57" stroke="#46505e" stroke-opacity="0.82" stroke-width="0.9"/>
<circle cx="372.0" cy="376.0" r="2.5" fill="#4e79a7" fill-opacity="0.57" stroke="#46505e" stroke-opacity="0.82" stroke-width="0.9"/>
<circle cx="430.3" cy="395.4" r="1.9" fill="#e9dcc0" fill-opacity="0.5" stroke="#46505e" stroke-opacity="0.82" stroke-width="0.9"/>
<circle cx="347.0" cy="377.0" r="2.8" fill="#4e79a7" fill-opacity="0.57" stroke="#46505e" stroke-opacity="0.82" stroke-width="0.9"/>
<circle cx="357.4" cy="404.1" r="2.4" fill="#9d7660" fill-opacity="0.62" stroke="#46505e" stroke-opacity="0.82" stroke-width="0.9"/>
<circle cx="376.9" cy="397.9" r="2.6" fill="#4e79a7" fill-opacity="0.57" stroke="#46505e" stroke-opacity="0.82" stroke-width="0.9"/>
<circle cx="346.9" cy="362.2" r="3.0" fill="#4e79a7" fill-opacity="0.57" stroke="#46505e" stroke-opacity="0.82" stroke-width="0.9"/>
<circle cx="389.2" cy="378.4" r="2.0" fill="#f7c28f" fill-opacity="0.55" stroke="#46505e" stroke-opacity="0.82" stroke-width="0.9"/>
<circle cx="347.0" cy="380.3" r="2.6" fill="#4e79a7" fill-opacity="0.57" stroke="#46505e" stroke-opacity="0.82" stroke-width="0.9"/>
<circle cx="378.7" cy="403.0" r="1.9" fill="#9d7660" fill-opacity="0.62" stroke="#46505e" stroke-opacity="0.82" stroke-width="0.9"/>
<circle cx="358.0" cy="366.6" r="2.7" fill="#a0cbe8" fill-opacity="0.62" stroke="#46505e" stroke-opacity="0.82" stroke-width="0.9"/>
<circle cx="348.0" cy="382.9" r="3.3" fill="#4e79a7" fill-opacity="0.57" stroke="#46505e" stroke-opacity="0.82" stroke-width="0.9"/>
<circle cx="352.3" cy="357.8" r="3.1" fill="#4e79a7" fill-opacity="0.57" stroke="#46505e" stroke-opacity="0.82" stroke-width="0.9"/>
<circle cx="418.0" cy="404.7" r="2.0" fill="#e9dcc0" fill-opacity="0.5" stroke="#46505e" stroke-opacity="0.82" stroke-width="0.9"/>
<circle cx="371.5" cy="382.4" r="2.6" fill="#e8923c" fill-opacity="0.5" stroke="#46505e" stroke-opacity="0.82" stroke-width="0.9"/>
<circle cx="363.9" cy="346.1" r="3.1" fill="#a0cbe8" fill-opacity="0.62" stroke="#46505e" stroke-opacity="0.82" stroke-width="0.9"/>
<circle cx="395.6" cy="402.1" r="1.9" fill="#f7c28f" fill-opacity="0.55" stroke="#46505e" stroke-opacity="0.82" stroke-width="0.9"/>
<circle cx="354.2" cy="395.8" r="2.3" fill="#9d7660" fill-opacity="0.62" stroke="#46505e" stroke-opacity="0.82" stroke-width="0.9"/>
<circle cx="385.9" cy="349.5" r="3.3" fill="#a0cbe8" fill-opacity="0.62" stroke="#46505e" stroke-opacity="0.82" stroke-width="0.9"/>
<circle cx="396.2" cy="379.6" r="2.3" fill="#f7c28f" fill-opacity="0.55" stroke="#46505e" stroke-opacity="0.82" stroke-width="0.9"/>
<circle cx="352.7" cy="407.0" r="3.3" fill="#4e79a7" fill-opacity="0.57" stroke="#46505e" stroke-opacity="0.82" stroke-width="0.9"/>
<circle cx="405.5" cy="401.4" r="2.3" fill="#e8923c" fill-opacity="0.5" stroke="#46505e" stroke-opacity="0.82" stroke-width="0.9"/>
<circle cx="347.8" cy="362.0" r="3.1" fill="#4e79a7" fill-opacity="0.57" stroke="#46505e" stroke-opacity="0.82" stroke-width="0.9"/>
<circle cx="381.1" cy="388.5" r="1.9" fill="#e8923c" fill-opacity="0.5" stroke="#46505e" stroke-opacity="0.82" stroke-width="0.9"/>
<circle cx="349.6" cy="382.7" r="2.5" fill="#4e79a7" fill-opacity="0.57" stroke="#46505e" stroke-opacity="0.82" stroke-width="0.9"/>
<circle cx="367.7" cy="394.1" r="2.9" fill="#a0cbe8" fill-opacity="0.62" stroke="#46505e" stroke-opacity="0.82" stroke-width="0.9"/>
<circle cx="347.4" cy="390.6" r="2.9" fill="#4e79a7" fill-opacity="0.57" stroke="#46505e" stroke-opacity="0.82" stroke-width="0.9"/>
<circle cx="356.8" cy="389.5" r="2.8" fill="#4e79a7" fill-opacity="0.57" stroke="#46505e" stroke-opacity="0.82" stroke-width="0.9"/>
<circle cx="397.3" cy="400.4" r="2.4" fill="#e8923c" fill-opacity="0.5" stroke="#46505e" stroke-opacity="0.82" stroke-width="0.9"/>
<circle cx="356.1" cy="404.2" r="2.3" fill="#4e79a7" fill-opacity="0.57" stroke="#46505e" stroke-opacity="0.82" stroke-width="0.9"/>
<circle cx="351.0" cy="383.3" r="2.8" fill="#4e79a7" fill-opacity="0.57" stroke="#46505e" stroke-opacity="0.82" stroke-width="0.9"/>
<circle cx="354.8" cy="397.8" r="3.5" fill="#4e79a7" fill-opacity="0.57" stroke="#46505e" stroke-opacity="0.82" stroke-width="0.9"/>
<circle cx="347.0" cy="368.4" r="2.6" fill="#4e79a7" fill-opacity="0.57" stroke="#46505e" stroke-opacity="0.82" stroke-width="0.9"/>
<circle cx="371.9" cy="387.1" r="3.3" fill="#4e79a7" fill-opacity="0.57" stroke="#46505e" stroke-opacity="0.82" stroke-width="0.9"/>
<circle cx="402.3" cy="382.2" r="2.1" fill="#8cd17d" fill-opacity="0.65" stroke="#46505e" stroke-opacity="0.82" stroke-width="0.9"/>
<circle cx="356.1" cy="402.2" r="2.8" fill="#4e79a7" fill-opacity="0.57" stroke="#46505e" stroke-opacity="0.82" stroke-width="0.9"/>
<circle cx="406.7" cy="403.8" r="2.1" fill="#e8923c" fill-opacity="0.5" stroke="#46505e" stroke-opacity="0.82" stroke-width="0.9"/>
<circle cx="364.5" cy="398.7" r="1.8" fill="#9d7660" fill-opacity="0.62" stroke="#46505e" stroke-opacity="0.82" stroke-width="0.9"/>
<circle cx="362.0" cy="347.8" r="3.0" fill="#a0cbe8" fill-opacity="0.62" stroke="#46505e" stroke-opacity="0.82" stroke-width="0.9"/>
<circle cx="346.8" cy="363.8" r="2.7" fill="#4e79a7" fill-opacity="0.57" stroke="#46505e" stroke-opacity="0.82" stroke-width="0.9"/>
<circle cx="356.2" cy="396.5" r="3.3" fill="#4e79a7" fill-opacity="0.57" stroke="#46505e" stroke-opacity="0.82" stroke-width="0.9"/>
<circle cx="353.8" cy="358.5" r="3.4" fill="#4e79a7" fill-opacity="0.57" stroke="#46505e" stroke-opacity="0.82" stroke-width="0.9"/>
<circle cx="380.2" cy="402.2" r="1.9" fill="#9d7660" fill-opacity="0.62" stroke="#46505e" stroke-opacity="0.82" stroke-width="0.9"/>
<circle cx="367.1" cy="372.2" r="3.2" fill="#a0cbe8" fill-opacity="0.62" stroke="#46505e" stroke-opacity="0.82" stroke-width="0.9"/>
<circle cx="375.1" cy="395.7" r="2.6" fill="#a0cbe8" fill-opacity="0.62" stroke="#46505e" stroke-opacity="0.82" stroke-width="0.9"/>
<circle cx="348.0" cy="368.7" r="3.0" fill="#4e79a7" fill-opacity="0.57" stroke="#46505e" stroke-opacity="0.82" stroke-width="0.9"/>
<circle cx="412.6" cy="387.3" r="1.8" fill="#e9dcc0" fill-opacity="0.5" stroke="#46505e" stroke-opacity="0.82" stroke-width="0.9"/>
<circle cx="370.9" cy="400.5" r="2.7" fill="#e8923c" fill-opacity="0.5" stroke="#46505e" stroke-opacity="0.82" stroke-width="0.9"/>
<circle cx="384.5" cy="348.6" r="2.6" fill="#a0cbe8" fill-opacity="0.62" stroke="#46505e" stroke-opacity="0.82" stroke-width="0.9"/>
<circle cx="346.9" cy="399.3" r="2.9" fill="#4e79a7" fill-opacity="0.57" stroke="#46505e" stroke-opacity="0.82" stroke-width="0.9"/>
<circle cx="412.5" cy="401.7" r="2.6" fill="#e8923c" fill-opacity="0.5" stroke="#46505e" stroke-opacity="0.82" stroke-width="0.9"/>
<circle cx="364.8" cy="407.1" r="2.0" fill="#9d7660" fill-opacity="0.62" stroke="#46505e" stroke-opacity="0.82" stroke-width="0.9"/>
<circle cx="426.8" cy="387.0" r="2.2" fill="#59a14f" fill-opacity="0.65" stroke="#46505e" stroke-opacity="0.82" stroke-width="0.9"/>
<circle cx="378.1" cy="397.9" r="2.8" fill="#4e79a7" fill-opacity="0.57" stroke="#46505e" stroke-opacity="0.82" stroke-width="0.9"/>
<circle cx="357.3" cy="387.3" r="2.9" fill="#a0cbe8" fill-opacity="0.62" stroke="#46505e" stroke-opacity="0.82" stroke-width="0.9"/>
<circle cx="367.2" cy="364.9" r="2.7" fill="#4e79a7" fill-opacity="0.57" stroke="#46505e" stroke-opacity="0.82" stroke-width="0.9"/>
<circle cx="347.9" cy="393.1" r="2.5" fill="#4e79a7" fill-opacity="0.57" stroke="#46505e" stroke-opacity="0.82" stroke-width="0.9"/>
<circle cx="351.1" cy="379.3" r="2.4" fill="#4e79a7" fill-opacity="0.57" stroke="#46505e" stroke-opacity="0.82" stroke-width="0.9"/>
<circle cx="386.9" cy="400.0" r="1.7" fill="#9d7660" fill-opacity="0.62" stroke="#46505e" stroke-opacity="0.82" stroke-width="0.9"/>
<circle cx="400.1" cy="390.0" r="2.3" fill="#8cd17d" fill-opacity="0.65" stroke="#46505e" stroke-opacity="0.82" stroke-width="0.9"/>
<circle cx="383.7" cy="366.1" r="2.6" fill="#a0cbe8" fill-opacity="0.62" stroke="#46505e" stroke-opacity="0.82" stroke-width="0.9"/>
<circle cx="375.2" cy="387.8" r="3.2" fill="#a0cbe8" fill-opacity="0.62" stroke="#46505e" stroke-opacity="0.82" stroke-width="0.9"/>
<circle cx="374.8" cy="402.5" r="1.8" fill="#9d7660" fill-opacity="0.62" stroke="#46505e" stroke-opacity="0.82" stroke-width="0.9"/>
<circle cx="381.7" cy="372.7" r="3.0" fill="#a0cbe8" fill-opacity="0.62" stroke="#46505e" stroke-opacity="0.82" stroke-width="0.9"/>
<circle cx="423.7" cy="405.3" r="2.1" fill="#59a14f" fill-opacity="0.65" stroke="#46505e" stroke-opacity="0.82" stroke-width="0.9"/>
<circle cx="350.2" cy="388.0" r="2.5" fill="#4e79a7" fill-opacity="0.57" stroke="#46505e" stroke-opacity="0.82" stroke-width="0.9"/>
<circle cx="351.8" cy="395.9" r="2.9" fill="#4e79a7" fill-opacity="0.57" stroke="#46505e" stroke-opacity="0.82" stroke-width="0.9"/>
<circle cx="359.1" cy="373.6" r="3.4" fill="#4e79a7" fill-opacity="0.57" stroke="#46505e" stroke-opacity="0.82" stroke-width="0.9"/>
<circle cx="348.7" cy="356.4" r="2.4" fill="#4e79a7" fill-opacity="0.57" stroke="#46505e" stroke-opacity="0.82" stroke-width="0.9"/>
<circle cx="346.9" cy="365.1" r="3.2" fill="#4e79a7" fill-opacity="0.57" stroke="#46505e" stroke-opacity="0.82" stroke-width="0.9"/>
<circle cx="376.9" cy="401.6" r="2.4" fill="#e8923c" fill-opacity="0.5" stroke="#46505e" stroke-opacity="0.82" stroke-width="0.9"/>
<circle cx="377.0" cy="397.6" r="2.1" fill="#e8923c" fill-opacity="0.5" stroke="#46505e" stroke-opacity="0.82" stroke-width="0.9"/>
<circle cx="347.5" cy="407.2" r="2.6" fill="#4e79a7" fill-opacity="0.57" stroke="#46505e" stroke-opacity="0.82" stroke-width="0.9"/>
<circle cx="383.8" cy="366.9" r="2.4" fill="#a0cbe8" fill-opacity="0.62" stroke="#46505e" stroke-opacity="0.82" stroke-width="0.9"/>
<circle cx="367.0" cy="367.6" r="2.5" fill="#4e79a7" fill-opacity="0.57" stroke="#46505e" stroke-opacity="0.82" stroke-width="0.9"/>
<circle cx="363.3" cy="370.7" r="2.9" fill="#4e79a7" fill-opacity="0.57" stroke="#46505e" stroke-opacity="0.82" stroke-width="0.9"/>
<circle cx="360.0" cy="379.8" r="2.5" fill="#a0cbe8" fill-opacity="0.62" stroke="#46505e" stroke-opacity="0.82" stroke-width="0.9"/>
<circle cx="364.7" cy="397.7" r="2.6" fill="#4e79a7" fill-opacity="0.57" stroke="#46505e" stroke-opacity="0.82" stroke-width="0.9"/>
<circle cx="359.5" cy="401.9" r="1.8" fill="#9d7660" fill-opacity="0.62" stroke="#46505e" stroke-opacity="0.82" stroke-width="0.9"/>
<circle cx="347.3" cy="357.2" r="3.1" fill="#4e79a7" fill-opacity="0.57" stroke="#46505e" stroke-opacity="0.82" stroke-width="0.9"/>
<circle cx="408.0" cy="398.4" r="2.3" fill="#e8923c" fill-opacity="0.5" stroke="#46505e" stroke-opacity="0.82" stroke-width="0.9"/>
<circle cx="349.5" cy="368.2" r="3.2" fill="#4e79a7" fill-opacity="0.57" stroke="#46505e" stroke-opacity="0.82" stroke-width="0.9"/>
<circle cx="347.2" cy="352.8" r="3.2" fill="#4e79a7" fill-opacity="0.57" stroke="#46505e" stroke-opacity="0.82" stroke-width="0.9"/>
<circle cx="373.4" cy="353.6" r="3.3" fill="#a0cbe8" fill-opacity="0.62" stroke="#46505e" stroke-opacity="0.82" stroke-width="0.9"/>
<circle cx="347.9" cy="394.5" r="2.6" fill="#4e79a7" fill-opacity="0.57" stroke="#46505e" stroke-opacity="0.82" stroke-width="0.9"/>
<circle cx="389.2" cy="403.8" r="2.4" fill="#9d7660" fill-opacity="0.62" stroke="#46505e" stroke-opacity="0.82" stroke-width="0.9"/>
<circle cx="355.1" cy="397.6" r="2.8" fill="#4e79a7" fill-opacity="0.57" stroke="#46505e" stroke-opacity="0.82" stroke-width="0.9"/>
<circle cx="361.2" cy="393.5" r="3.2" fill="#a0cbe8" fill-opacity="0.62" stroke="#46505e" stroke-opacity="0.82" stroke-width="0.9"/>
<circle cx="356.9" cy="403.8" r="3.4" fill="#4e79a7" fill-opacity="0.57" stroke="#46505e" stroke-opacity="0.82" stroke-width="0.9"/>
<circle cx="349.4" cy="361.6" r="2.7" fill="#4e79a7" fill-opacity="0.57" stroke="#46505e" stroke-opacity="0.82" stroke-width="0.9"/>
<circle cx="349.0" cy="351.3" r="2.5" fill="#4e79a7" fill-opacity="0.57" stroke="#46505e" stroke-opacity="0.82" stroke-width="0.9"/>
<circle cx="357.6" cy="393.1" r="2.5" fill="#a0cbe8" fill-opacity="0.62" stroke="#46505e" stroke-opacity="0.82" stroke-width="0.9"/>
<circle cx="378.1" cy="404.2" r="2.1" fill="#9d7660" fill-opacity="0.62" stroke="#46505e" stroke-opacity="0.82" stroke-width="0.9"/>
<circle cx="354.1" cy="401.4" r="3.2" fill="#4e79a7" fill-opacity="0.57" stroke="#46505e" stroke-opacity="0.82" stroke-width="0.9"/>
<circle cx="386.3" cy="402.8" r="2.1" fill="#9d7660" fill-opacity="0.62" stroke="#46505e" stroke-opacity="0.82" stroke-width="0.9"/>
<circle cx="377.3" cy="380.3" r="1.9" fill="#e8923c" fill-opacity="0.5" stroke="#46505e" stroke-opacity="0.82" stroke-width="0.9"/>
<circle cx="348.0" cy="403.0" r="2.6" fill="#4e79a7" fill-opacity="0.57" stroke="#46505e" stroke-opacity="0.82" stroke-width="0.9"/>
<circle cx="401.9" cy="395.8" r="2.3" fill="#e8923c" fill-opacity="0.5" stroke="#46505e" stroke-opacity="0.82" stroke-width="0.9"/>
<circle cx="359.8" cy="395.7" r="3.2" fill="#4e79a7" fill-opacity="0.57" stroke="#46505e" stroke-opacity="0.82" stroke-width="0.9"/>
<circle cx="358.4" cy="352.3" r="3.0" fill="#4e79a7" fill-opacity="0.57" stroke="#46505e" stroke-opacity="0.82" stroke-width="0.9"/>
<circle cx="397.2" cy="402.2" r="1.8" fill="#8cd17d" fill-opacity="0.65" stroke="#46505e" stroke-opacity="0.82" stroke-width="0.9"/>
<circle cx="373.1" cy="400.8" r="1.7" fill="#9d7660" fill-opacity="0.62" stroke="#46505e" stroke-opacity="0.82" stroke-width="0.9"/>
<circle cx="361.8" cy="388.2" r="3.0" fill="#4e79a7" fill-opacity="0.57" stroke="#46505e" stroke-opacity="0.82" stroke-width="0.9"/>
<circle cx="347.2" cy="352.9" r="2.8" fill="#4e79a7" fill-opacity="0.57" stroke="#46505e" stroke-opacity="0.82" stroke-width="0.9"/>
<circle cx="352.6" cy="378.4" r="3.0" fill="#4e79a7" fill-opacity="0.57" stroke="#46505e" stroke-opacity="0.82" stroke-width="0.9"/>
<circle cx="354.3" cy="399.6" r="2.9" fill="#4e79a7" fill-opacity="0.57" stroke="#46505e" stroke-opacity="0.82" stroke-width="0.9"/>
<circle cx="355.4" cy="384.4" r="2.6" fill="#4e79a7" fill-opacity="0.57" stroke="#46505e" stroke-opacity="0.82" stroke-width="0.9"/>
<circle cx="374.9" cy="384.3" r="2.1" fill="#e8923c" fill-opacity="0.5" stroke="#46505e" stroke-opacity="0.82" stroke-width="0.9"/>
<circle cx="354.2" cy="393.1" r="3.1" fill="#4e79a7" fill-opacity="0.57" stroke="#46505e" stroke-opacity="0.82" stroke-width="0.9"/>
<circle cx="380.0" cy="383.1" r="3.0" fill="#a0cbe8" fill-opacity="0.62" stroke="#46505e" stroke-opacity="0.82" stroke-width="0.9"/>
<circle cx="348.3" cy="403.0" r="3.1" fill="#4e79a7" fill-opacity="0.57" stroke="#46505e" stroke-opacity="0.82" stroke-width="0.9"/>
<circle cx="369.5" cy="362.7" r="3.1" fill="#4e79a7" fill-opacity="0.57" stroke="#46505e" stroke-opacity="0.82" stroke-width="0.9"/>
<circle cx="397.7" cy="389.5" r="2.0" fill="#59a14f" fill-opacity="0.65" stroke="#46505e" stroke-opacity="0.82" stroke-width="0.9"/>
<circle cx="348.7" cy="375.8" r="3.1" fill="#4e79a7" fill-opacity="0.57" stroke="#46505e" stroke-opacity="0.82" stroke-width="0.9"/>
<circle cx="386.1" cy="402.3" r="2.4" fill="#9d7660" fill-opacity="0.62" stroke="#46505e" stroke-opacity="0.82" stroke-width="0.9"/>
<circle cx="352.1" cy="388.3" r="3.2" fill="#4e79a7" fill-opacity="0.57" stroke="#46505e" stroke-opacity="0.82" stroke-width="0.9"/>
<circle cx="349.4" cy="365.1" r="3.0" fill="#4e79a7" fill-opacity="0.57" stroke="#46505e" stroke-opacity="0.82" stroke-width="0.9"/>
<circle cx="368.1" cy="398.7" r="2.2" fill="#9d7660" fill-opacity="0.62" stroke="#46505e" stroke-opacity="0.82" stroke-width="0.9"/>
<circle cx="348.1" cy="380.9" r="2.8" fill="#4e79a7" fill-opacity="0.57" stroke="#46505e" stroke-opacity="0.82" stroke-width="0.9"/>
<circle cx="347.8" cy="361.2" r="2.4" fill="#4e79a7" fill-opacity="0.57" stroke="#46505e" stroke-opacity="0.82" stroke-width="0.9"/>
<circle cx="347.7" cy="373.3" r="2.5" fill="#4e79a7" fill-opacity="0.57" stroke="#46505e" stroke-opacity="0.82" stroke-width="0.9"/>
<circle cx="368.7" cy="384.7" r="2.5" fill="#8cd17d" fill-opacity="0.65" stroke="#46505e" stroke-opacity="0.82" stroke-width="0.9"/>
<circle cx="353.8" cy="389.7" r="2.7" fill="#4e79a7" fill-opacity="0.57" stroke="#46505e" stroke-opacity="0.82" stroke-width="0.9"/>
<circle cx="373.1" cy="393.2" r="2.0" fill="#e8923c" fill-opacity="0.5" stroke="#46505e" stroke-opacity="0.82" stroke-width="0.9"/>
<circle cx="354.2" cy="402.2" r="3.0" fill="#4e79a7" fill-opacity="0.57" stroke="#46505e" stroke-opacity="0.82" stroke-width="0.9"/>
<circle cx="378.0" cy="401.8" r="2.7" fill="#e8923c" fill-opacity="0.5" stroke="#46505e" stroke-opacity="0.82" stroke-width="0.9"/>
<circle cx="369.9" cy="377.2" r="2.0" fill="#e8923c" fill-opacity="0.5" stroke="#46505e" stroke-opacity="0.82" stroke-width="0.9"/>
<circle cx="365.0" cy="379.5" r="2.4" fill="#a0cbe8" fill-opacity="0.62" stroke="#46505e" stroke-opacity="0.82" stroke-width="0.9"/>
<circle cx="436.8" cy="395.3" r="1.8" fill="#59a14f" fill-opacity="0.65" stroke="#46505e" stroke-opacity="0.82" stroke-width="0.9"/>
<circle cx="394.4" cy="401.7" r="2.0" fill="#9d7660" fill-opacity="0.62" stroke="#46505e" stroke-opacity="0.82" stroke-width="0.9"/>
<circle cx="405.5" cy="400.3" r="2.0" fill="#f7c28f" fill-opacity="0.55" stroke="#46505e" stroke-opacity="0.82" stroke-width="0.9"/>
<circle cx="347.7" cy="359.9" r="2.6" fill="#4e79a7" fill-opacity="0.57" stroke="#46505e" stroke-opacity="0.82" stroke-width="0.9"/>
<circle cx="360.5" cy="395.9" r="2.5" fill="#a0cbe8" fill-opacity="0.62" stroke="#46505e" stroke-opacity="0.82" stroke-width="0.9"/>
<circle cx="365.8" cy="397.2" r="1.8" fill="#9d7660" fill-opacity="0.62" stroke="#46505e" stroke-opacity="0.82" stroke-width="0.9"/>
<circle cx="402.3" cy="403.2" r="2.0" fill="#e9dcc0" fill-opacity="0.5" stroke="#46505e" stroke-opacity="0.82" stroke-width="0.9"/>
<circle cx="368.2" cy="405.2" r="2.3" fill="#9d7660" fill-opacity="0.62" stroke="#46505e" stroke-opacity="0.82" stroke-width="0.9"/>
<circle cx="348.3" cy="405.7" r="2.4" fill="#4e79a7" fill-opacity="0.57" stroke="#46505e" stroke-opacity="0.82" stroke-width="0.9"/>
<circle cx="358.5" cy="399.4" r="2.5" fill="#4e79a7" fill-opacity="0.57" stroke="#46505e" stroke-opacity="0.82" stroke-width="0.9"/>
<circle cx="380.8" cy="392.2" r="2.4" fill="#e8923c" fill-opacity="0.5" stroke="#46505e" stroke-opacity="0.82" stroke-width="0.9"/>
<circle cx="379.9" cy="407.5" r="2.1" fill="#9d7660" fill-opacity="0.62" stroke="#46505e" stroke-opacity="0.82" stroke-width="0.9"/>
<circle cx="387.6" cy="383.0" r="2.7" fill="#e8923c" fill-opacity="0.5" stroke="#46505e" stroke-opacity="0.82" stroke-width="0.9"/>
<circle cx="357.3" cy="398.0" r="3.0" fill="#4e79a7" fill-opacity="0.57" stroke="#46505e" stroke-opacity="0.82" stroke-width="0.9"/>
<circle cx="367.4" cy="404.4" r="2.0" fill="#9d7660" fill-opacity="0.62" stroke="#46505e" stroke-opacity="0.82" stroke-width="0.9"/>
<circle cx="354.0" cy="390.0" r="3.4" fill="#4e79a7" fill-opacity="0.57" stroke="#46505e" stroke-opacity="0.82" stroke-width="0.9"/>
<circle cx="365.1" cy="389.9" r="2.5" fill="#4e79a7" fill-opacity="0.57" stroke="#46505e" stroke-opacity="0.82" stroke-width="0.9"/>
<circle cx="363.7" cy="387.2" r="2.3" fill="#8cd17d" fill-opacity="0.65" stroke="#46505e" stroke-opacity="0.82" stroke-width="0.9"/>
<circle cx="423.3" cy="402.3" r="2.0" fill="#59a14f" fill-opacity="0.65" stroke="#46505e" stroke-opacity="0.82" stroke-width="0.9"/>
<circle cx="407.2" cy="396.5" r="2.2" fill="#e9dcc0" fill-opacity="0.5" stroke="#46505e" stroke-opacity="0.82" stroke-width="0.9"/>
<circle cx="347.0" cy="367.9" r="2.7" fill="#4e79a7" fill-opacity="0.57" stroke="#46505e" stroke-opacity="0.82" stroke-width="0.9"/>
<circle cx="381.0" cy="391.8" r="2.7" fill="#e8923c" fill-opacity="0.5" stroke="#46505e" stroke-opacity="0.82" stroke-width="0.9"/>
<circle cx="349.6" cy="393.7" r="3.3" fill="#4e79a7" fill-opacity="0.57" stroke="#46505e" stroke-opacity="0.82" stroke-width="0.9"/>
<circle cx="383.0" cy="403.4" r="2.5" fill="#9d7660" fill-opacity="0.62" stroke="#46505e" stroke-opacity="0.82" stroke-width="0.9"/>
<circle cx="358.8" cy="392.2" r="3.0" fill="#4e79a7" fill-opacity="0.57" stroke="#46505e" stroke-opacity="0.82" stroke-width="0.9"/>
<circle cx="359.3" cy="402.6" r="3.2" fill="#4e79a7" fill-opacity="0.57" stroke="#46505e" stroke-opacity="0.82" stroke-width="0.9"/>
<circle cx="348.3" cy="386.1" r="3.2" fill="#4e79a7" fill-opacity="0.57" stroke="#46505e" stroke-opacity="0.82" stroke-width="0.9"/>
<circle cx="361.0" cy="349.0" r="2.5" fill="#4e79a7" fill-opacity="0.57" stroke="#46505e" stroke-opacity="0.82" stroke-width="0.9"/>
<circle cx="365.2" cy="360.7" r="3.3" fill="#4e79a7" fill-opacity="0.57" stroke="#46505e" stroke-opacity="0.82" stroke-width="0.9"/>
<circle cx="396.2" cy="405.2" r="2.4" fill="#9d7660" fill-opacity="0.62" stroke="#46505e" stroke-opacity="0.82" stroke-width="0.9"/>
<circle cx="415.0" cy="385.5" r="2.4" fill="#8cd17d" fill-opacity="0.65" stroke="#46505e" stroke-opacity="0.82" stroke-width="0.9"/>
<circle cx="379.9" cy="369.3" r="2.9" fill="#a0cbe8" fill-opacity="0.62" stroke="#46505e" stroke-opacity="0.82" stroke-width="0.9"/>
<circle cx="368.6" cy="392.5" r="2.5" fill="#4e79a7" fill-opacity="0.57" stroke="#46505e" stroke-opacity="0.82" stroke-width="0.9"/>
<circle cx="370.1" cy="389.9" r="2.8" fill="#e8923c" fill-opacity="0.5" stroke="#46505e" stroke-opacity="0.82" stroke-width="0.9"/>
<circle cx="372.3" cy="406.4" r="2.4" fill="#f7c28f" fill-opacity="0.55" stroke="#46505e" stroke-opacity="0.82" stroke-width="0.9"/>
<circle cx="390.5" cy="379.7" r="2.0" fill="#f7c28f" fill-opacity="0.55" stroke="#46505e" stroke-opacity="0.82" stroke-width="0.9"/>
<circle cx="375.4" cy="404.2" r="2.6" fill="#f7c28f" fill-opacity="0.55" stroke="#46505e" stroke-opacity="0.82" stroke-width="0.9"/>
<circle cx="378.8" cy="381.1" r="2.0" fill="#f7c28f" fill-opacity="0.55" stroke="#46505e" stroke-opacity="0.82" stroke-width="0.9"/>
<circle cx="382.5" cy="376.6" r="2.0" fill="#e8923c" fill-opacity="0.5" stroke="#46505e" stroke-opacity="0.82" stroke-width="0.9"/>
<circle cx="381.0" cy="385.1" r="1.9" fill="#e8923c" fill-opacity="0.5" stroke="#46505e" stroke-opacity="0.82" stroke-width="0.9"/>
<circle cx="365.8" cy="346.8" r="2.6" fill="#a0cbe8" fill-opacity="0.62" stroke="#46505e" stroke-opacity="0.82" stroke-width="0.9"/>
<circle cx="348.5" cy="380.1" r="2.8" fill="#4e79a7" fill-opacity="0.57" stroke="#46505e" stroke-opacity="0.82" stroke-width="0.9"/>
<circle cx="415.0" cy="400.1" r="2.3" fill="#9d7660" fill-opacity="0.62" stroke="#46505e" stroke-opacity="0.82" stroke-width="0.9"/>
<circle cx="382.8" cy="382.1" r="1.9" fill="#f7c28f" fill-opacity="0.55" stroke="#46505e" stroke-opacity="0.82" stroke-width="0.9"/>
<circle cx="377.3" cy="381.1" r="2.5" fill="#a0cbe8" fill-opacity="0.62" stroke="#46505e" stroke-opacity="0.82" stroke-width="0.9"/>
<circle cx="372.6" cy="401.7" r="1.9" fill="#f7c28f" fill-opacity="0.55" stroke="#46505e" stroke-opacity="0.82" stroke-width="0.9"/>
<circle cx="349.5" cy="389.6" r="3.2" fill="#4e79a7" fill-opacity="0.57" stroke="#46505e" stroke-opacity="0.82" stroke-width="0.9"/>
<circle cx="355.1" cy="397.6" r="3.3" fill="#4e79a7" fill-opacity="0.57" stroke="#46505e" stroke-opacity="0.82" stroke-width="0.9"/>
<circle cx="368.8" cy="351.6" r="2.5" fill="#a0cbe8" fill-opacity="0.62" stroke="#46505e" stroke-opacity="0.82" stroke-width="0.9"/>
<circle cx="410.6" cy="406.3" r="2.4" fill="#e8923c" fill-opacity="0.5" stroke="#46505e" stroke-opacity="0.82" stroke-width="0.9"/>
<circle cx="384.1" cy="387.9" r="1.8" fill="#8cd17d" fill-opacity="0.65" stroke="#46505e" stroke-opacity="0.82" stroke-width="0.9"/>
<circle cx="355.5" cy="390.7" r="2.7" fill="#4e79a7" fill-opacity="0.57" stroke="#46505e" stroke-opacity="0.82" stroke-width="0.9"/>
<circle cx="403.2" cy="389.5" r="1.7" fill="#e9dcc0" fill-opacity="0.5" stroke="#46505e" stroke-opacity="0.82" stroke-width="0.9"/>
<circle cx="414.7" cy="390.5" r="2.4" fill="#8cd17d" fill-opacity="0.65" stroke="#46505e" stroke-opacity="0.82" stroke-width="0.9"/>
<circle cx="352.7" cy="388.5" r="2.4" fill="#4e79a7" fill-opacity="0.57" stroke="#46505e" stroke-opacity="0.82" stroke-width="0.9"/>
<circle cx="364.3" cy="399.4" r="2.0" fill="#9d7660" fill-opacity="0.62" stroke="#46505e" stroke-opacity="0.82" stroke-width="0.9"/>
<circle cx="380.6" cy="384.3" r="3.2" fill="#a0cbe8" fill-opacity="0.62" stroke="#46505e" stroke-opacity="0.82" stroke-width="0.9"/>
<circle cx="395.5" cy="379.8" r="2.2" fill="#e8923c" fill-opacity="0.5" stroke="#46505e" stroke-opacity="0.82" stroke-width="0.9"/>
<circle cx="366.9" cy="379.3" r="2.7" fill="#a0cbe8" fill-opacity="0.62" stroke="#46505e" stroke-opacity="0.82" stroke-width="0.9"/>
<circle cx="398.9" cy="389.1" r="1.8" fill="#f7c28f" fill-opacity="0.55" stroke="#46505e" stroke-opacity="0.82" stroke-width="0.9"/>
<circle cx="355.4" cy="399.6" r="3.1" fill="#4e79a7" fill-opacity="0.57" stroke="#46505e" stroke-opacity="0.82" stroke-width="0.9"/>
<circle cx="389.9" cy="396.0" r="2.2" fill="#e8923c" fill-opacity="0.5" stroke="#46505e" stroke-opacity="0.82" stroke-width="0.9"/>
<circle cx="349.2" cy="376.6" r="2.4" fill="#4e79a7" fill-opacity="0.57" stroke="#46505e" stroke-opacity="0.82" stroke-width="0.9"/>
<circle cx="354.8" cy="372.9" r="2.4" fill="#4e79a7" fill-opacity="0.57" stroke="#46505e" stroke-opacity="0.82" stroke-width="0.9"/>
<circle cx="424.4" cy="390.0" r="1.7" fill="#e9dcc0" fill-opacity="0.5" stroke="#46505e" stroke-opacity="0.82" stroke-width="0.9"/>
<circle cx="387.9" cy="399.2" r="2.4" fill="#f7c28f" fill-opacity="0.55" stroke="#46505e" stroke-opacity="0.82" stroke-width="0.9"/>
<circle cx="409.1" cy="396.7" r="1.7" fill="#9d7660" fill-opacity="0.62" stroke="#46505e" stroke-opacity="0.82" stroke-width="0.9"/>
<circle cx="366.1" cy="368.2" r="2.6" fill="#4e79a7" fill-opacity="0.57" stroke="#46505e" stroke-opacity="0.82" stroke-width="0.9"/>
<circle cx="381.3" cy="379.3" r="2.6" fill="#e8923c" fill-opacity="0.5" stroke="#46505e" stroke-opacity="0.82" stroke-width="0.9"/>
<circle cx="364.7" cy="405.7" r="2.7" fill="#4e79a7" fill-opacity="0.57" stroke="#46505e" stroke-opacity="0.82" stroke-width="0.9"/>
<circle cx="350.9" cy="398.7" r="3.2" fill="#4e79a7" fill-opacity="0.57" stroke="#46505e" stroke-opacity="0.82" stroke-width="0.9"/>
<circle cx="357.1" cy="347.2" r="2.7" fill="#a0cbe8" fill-opacity="0.62" stroke="#46505e" stroke-opacity="0.82" stroke-width="0.9"/>
<circle cx="389.6" cy="378.7" r="1.9" fill="#e8923c" fill-opacity="0.5" stroke="#46505e" stroke-opacity="0.82" stroke-width="0.9"/>
<circle cx="349.2" cy="391.2" r="3.3" fill="#4e79a7" fill-opacity="0.57" stroke="#46505e" stroke-opacity="0.82" stroke-width="0.9"/>
<circle cx="377.4" cy="397.7" r="2.4" fill="#e8923c" fill-opacity="0.5" stroke="#46505e" stroke-opacity="0.82" stroke-width="0.9"/>
<circle cx="369.8" cy="379.5" r="2.5" fill="#a0cbe8" fill-opacity="0.62" stroke="#46505e" stroke-opacity="0.82" stroke-width="0.9"/>
<circle cx="417.1" cy="390.7" r="1.9" fill="#e9dcc0" fill-opacity="0.5" stroke="#46505e" stroke-opacity="0.82" stroke-width="0.9"/>
<circle cx="411.4" cy="384.6" r="2.1" fill="#8cd17d" fill-opacity="0.65" stroke="#46505e" stroke-opacity="0.82" stroke-width="0.9"/>
<circle cx="375.3" cy="395.0" r="3.2" fill="#4e79a7" fill-opacity="0.57" stroke="#46505e" stroke-opacity="0.82" stroke-width="0.9"/>
<circle cx="355.8" cy="349.0" r="2.5" fill="#4e79a7" fill-opacity="0.57" stroke="#46505e" stroke-opacity="0.82" stroke-width="0.9"/>
<circle cx="357.8" cy="401.7" r="2.4" fill="#9d7660" fill-opacity="0.62" stroke="#46505e" stroke-opacity="0.82" stroke-width="0.9"/>
<circle cx="385.3" cy="359.9" r="2.9" fill="#a0cbe8" fill-opacity="0.62" stroke="#46505e" stroke-opacity="0.82" stroke-width="0.9"/>
<circle cx="349.7" cy="404.8" r="3.2" fill="#4e79a7" fill-opacity="0.57" stroke="#46505e" stroke-opacity="0.82" stroke-width="0.9"/>
<circle cx="374.9" cy="387.9" r="1.8" fill="#f7c28f" fill-opacity="0.55" stroke="#46505e" stroke-opacity="0.82" stroke-width="0.9"/>
<circle cx="373.7" cy="386.4" r="2.4" fill="#4e79a7" fill-opacity="0.57" stroke="#46505e" stroke-opacity="0.82" stroke-width="0.9"/>
<circle cx="359.1" cy="395.3" r="2.5" fill="#9d7660" fill-opacity="0.62" stroke="#46505e" stroke-opacity="0.82" stroke-width="0.9"/>
<circle cx="373.2" cy="392.5" r="2.6" fill="#4e79a7" fill-opacity="0.57" stroke="#46505e" stroke-opacity="0.82" stroke-width="0.9"/>
<circle cx="347.2" cy="372.1" r="2.6" fill="#4e79a7" fill-opacity="0.57" stroke="#46505e" stroke-opacity="0.82" stroke-width="0.9"/>
<circle cx="368.6" cy="358.1" r="3.0" fill="#4e79a7" fill-opacity="0.57" stroke="#46505e" stroke-opacity="0.82" stroke-width="0.9"/>
<circle cx="375.8" cy="397.7" r="2.4" fill="#9d7660" fill-opacity="0.62" stroke="#46505e" stroke-opacity="0.82" stroke-width="0.9"/>
<circle cx="402.8" cy="388.7" r="2.0" fill="#e8923c" fill-opacity="0.5" stroke="#46505e" stroke-opacity="0.82" stroke-width="0.9"/>
<circle cx="386.2" cy="396.9" r="2.2" fill="#9d7660" fill-opacity="0.62" stroke="#46505e" stroke-opacity="0.82" stroke-width="0.9"/>
<circle cx="351.2" cy="397.9" r="2.4" fill="#4e79a7" fill-opacity="0.57" stroke="#46505e" stroke-opacity="0.82" stroke-width="0.9"/>
<circle cx="377.9" cy="399.9" r="2.8" fill="#4e79a7" fill-opacity="0.57" stroke="#46505e" stroke-opacity="0.82" stroke-width="0.9"/>
<circle cx="347.8" cy="383.5" r="2.4" fill="#4e79a7" fill-opacity="0.57" stroke="#46505e" stroke-opacity="0.82" stroke-width="0.9"/>
<circle cx="396.7" cy="379.0" r="2.0" fill="#f7c28f" fill-opacity="0.55" stroke="#46505e" stroke-opacity="0.82" stroke-width="0.9"/>
<circle cx="356.3" cy="395.7" r="2.6" fill="#4e79a7" fill-opacity="0.57" stroke="#46505e" stroke-opacity="0.82" stroke-width="0.9"/>
<circle cx="404.1" cy="393.1" r="1.9" fill="#59a14f" fill-opacity="0.65" stroke="#46505e" stroke-opacity="0.82" stroke-width="0.9"/>
<circle cx="362.3" cy="397.2" r="3.3" fill="#a0cbe8" fill-opacity="0.62" stroke="#46505e" stroke-opacity="0.82" stroke-width="0.9"/>
<circle cx="348.1" cy="401.6" r="2.6" fill="#4e79a7" fill-opacity="0.57" stroke="#46505e" stroke-opacity="0.82" stroke-width="0.9"/>
<circle cx="373.2" cy="391.1" r="3.4" fill="#4e79a7" fill-opacity="0.57" stroke="#46505e" stroke-opacity="0.82" stroke-width="0.9"/>
<circle cx="378.2" cy="393.4" r="2.8" fill="#4e79a7" fill-opacity="0.57" stroke="#46505e" stroke-opacity="0.82" stroke-width="0.9"/>
<circle cx="387.0" cy="377.3" r="2.6" fill="#e8923c" fill-opacity="0.5" stroke="#46505e" stroke-opacity="0.82" stroke-width="0.9"/>
<circle cx="357.0" cy="368.0" r="2.4" fill="#4e79a7" fill-opacity="0.57" stroke="#46505e" stroke-opacity="0.82" stroke-width="0.9"/>
<circle cx="381.6" cy="379.2" r="2.0" fill="#e8923c" fill-opacity="0.5" stroke="#46505e" stroke-opacity="0.82" stroke-width="0.9"/>
<circle cx="383.3" cy="391.4" r="2.7" fill="#e8923c" fill-opacity="0.5" stroke="#46505e" stroke-opacity="0.82" stroke-width="0.9"/>
<circle cx="347.1" cy="402.1" r="2.4" fill="#4e79a7" fill-opacity="0.57" stroke="#46505e" stroke-opacity="0.82" stroke-width="0.9"/>
<circle cx="373.1" cy="402.2" r="2.0" fill="#9d7660" fill-opacity="0.62" stroke="#46505e" stroke-opacity="0.82" stroke-width="0.9"/>
<circle cx="370.7" cy="365.7" r="3.4" fill="#4e79a7" fill-opacity="0.57" stroke="#46505e" stroke-opacity="0.82" stroke-width="0.9"/>
<circle cx="361.8" cy="363.3" r="3.2" fill="#a0cbe8" fill-opacity="0.62" stroke="#46505e" stroke-opacity="0.82" stroke-width="0.9"/>
<circle cx="347.3" cy="355.7" r="2.7" fill="#4e79a7" fill-opacity="0.57" stroke="#46505e" stroke-opacity="0.82" stroke-width="0.9"/>
<circle cx="350.3" cy="374.6" r="2.9" fill="#4e79a7" fill-opacity="0.57" stroke="#46505e" stroke-opacity="0.82" stroke-width="0.9"/>
<circle cx="355.1" cy="403.3" r="2.0" fill="#9d7660" fill-opacity="0.62" stroke="#46505e" stroke-opacity="0.82" stroke-width="0.9"/>
<circle cx="352.2" cy="402.5" r="3.4" fill="#4e79a7" fill-opacity="0.57" stroke="#46505e" stroke-opacity="0.82" stroke-width="0.9"/>
<circle cx="434.2" cy="397.5" r="1.8" fill="#e9dcc0" fill-opacity="0.5" stroke="#46505e" stroke-opacity="0.82" stroke-width="0.9"/>
<circle cx="391.0" cy="389.4" r="2.0" fill="#8cd17d" fill-opacity="0.65" stroke="#46505e" stroke-opacity="0.82" stroke-width="0.9"/>
<circle cx="370.7" cy="381.1" r="2.6" fill="#4e79a7" fill-opacity="0.57" stroke="#46505e" stroke-opacity="0.82" stroke-width="0.9"/>
<circle cx="374.4" cy="352.1" r="3.0" fill="#a0cbe8" fill-opacity="0.62" stroke="#46505e" stroke-opacity="0.82" stroke-width="0.9"/>
<circle cx="363.3" cy="398.1" r="2.1" fill="#9d7660" fill-opacity="0.62" stroke="#46505e" stroke-opacity="0.82" stroke-width="0.9"/>
<circle cx="356.3" cy="395.0" r="2.6" fill="#4e79a7" fill-opacity="0.57" stroke="#46505e" stroke-opacity="0.82" stroke-width="0.9"/>
<circle cx="356.7" cy="372.3" r="3.3" fill="#4e79a7" fill-opacity="0.57" stroke="#46505e" stroke-opacity="0.82" stroke-width="0.9"/>
<circle cx="370.8" cy="398.6" r="2.7" fill="#e8923c" fill-opacity="0.5" stroke="#46505e" stroke-opacity="0.82" stroke-width="0.9"/>
<circle cx="365.6" cy="381.2" r="2.3" fill="#a0cbe8" fill-opacity="0.62" stroke="#46505e" stroke-opacity="0.82" stroke-width="0.9"/>
<circle cx="386.7" cy="406.8" r="2.0" fill="#9d7660" fill-opacity="0.62" stroke="#46505e" stroke-opacity="0.82" stroke-width="0.9"/>
<circle cx="365.0" cy="359.9" r="2.7" fill="#4e79a7" fill-opacity="0.57" stroke="#46505e" stroke-opacity="0.82" stroke-width="0.9"/>
<circle cx="378.2" cy="389.3" r="3.3" fill="#a0cbe8" fill-opacity="0.62" stroke="#46505e" stroke-opacity="0.82" stroke-width="0.9"/>
<circle cx="384.0" cy="363.3" r="2.7" fill="#a0cbe8" fill-opacity="0.62" stroke="#46505e" stroke-opacity="0.82" stroke-width="0.9"/>
<circle cx="367.5" cy="407.8" r="2.3" fill="#9d7660" fill-opacity="0.62" stroke="#46505e" stroke-opacity="0.82" stroke-width="0.9"/>
<circle cx="357.7" cy="358.3" r="3.4" fill="#4e79a7" fill-opacity="0.57" stroke="#46505e" stroke-opacity="0.82" stroke-width="0.9"/>
<circle cx="360.6" cy="396.3" r="2.1" fill="#9d7660" fill-opacity="0.62" stroke="#46505e" stroke-opacity="0.82" stroke-width="0.9"/>
<circle cx="361.6" cy="396.4" r="3.4" fill="#4e79a7" fill-opacity="0.57" stroke="#46505e" stroke-opacity="0.82" stroke-width="0.9"/>
<circle cx="439.8" cy="392.3" r="1.8" fill="#e9dcc0" fill-opacity="0.5" stroke="#46505e" stroke-opacity="0.82" stroke-width="0.9"/>
<circle cx="368.0" cy="380.7" r="1.8" fill="#e8923c" fill-opacity="0.5" stroke="#46505e" stroke-opacity="0.82" stroke-width="0.9"/>
<circle cx="348.2" cy="361.0" r="3.1" fill="#4e79a7" fill-opacity="0.57" stroke="#46505e" stroke-opacity="0.82" stroke-width="0.9"/>
<circle cx="355.4" cy="406.4" r="2.3" fill="#4e79a7" fill-opacity="0.57" stroke="#46505e" stroke-opacity="0.82" stroke-width="0.9"/>
<circle cx="406.8" cy="401.7" r="2.1" fill="#59a14f" fill-opacity="0.65" stroke="#46505e" stroke-opacity="0.82" stroke-width="0.9"/>
<circle cx="410.3" cy="405.5" r="2.4" fill="#9d7660" fill-opacity="0.62" stroke="#46505e" stroke-opacity="0.82" stroke-width="0.9"/>
<circle cx="367.2" cy="387.2" r="2.8" fill="#a0cbe8" fill-opacity="0.62" stroke="#46505e" stroke-opacity="0.82" stroke-width="0.9"/>
<circle cx="381.9" cy="376.7" r="2.4" fill="#a0cbe8" fill-opacity="0.62" stroke="#46505e" stroke-opacity="0.82" stroke-width="0.9"/>
<circle cx="364.4" cy="398.8" r="2.5" fill="#4e79a7" fill-opacity="0.57" stroke="#46505e" stroke-opacity="0.82" stroke-width="0.9"/>
<circle cx="388.7" cy="351.4" r="2.4" fill="#a0cbe8" fill-opacity="0.62" stroke="#46505e" stroke-opacity="0.82" stroke-width="0.9"/>
<circle cx="437.4" cy="402.1" r="1.8" fill="#e9dcc0" fill-opacity="0.5" stroke="#46505e" stroke-opacity="0.82" stroke-width="0.9"/>
<circle cx="359.1" cy="349.9" r="2.8" fill="#4e79a7" fill-opacity="0.57" stroke="#46505e" stroke-opacity="0.82" stroke-width="0.9"/>
<circle cx="348.9" cy="385.9" r="2.6" fill="#4e79a7" fill-opacity="0.57" stroke="#46505e" stroke-opacity="0.82" stroke-width="0.9"/>
<circle cx="406.1" cy="390.5" r="1.8" fill="#e9dcc0" fill-opacity="0.5" stroke="#46505e" stroke-opacity="0.82" stroke-width="0.9"/>
<circle cx="350.7" cy="387.1" r="3.0" fill="#4e79a7" fill-opacity="0.57" stroke="#46505e" stroke-opacity="0.82" stroke-width="0.9"/>
<circle cx="349.1" cy="393.5" r="3.4" fill="#4e79a7" fill-opacity="0.57" stroke="#46505e" stroke-opacity="0.82" stroke-width="0.9"/>
<circle cx="380.0" cy="392.4" r="2.0" fill="#f7c28f" fill-opacity="0.55" stroke="#46505e" stroke-opacity="0.82" stroke-width="0.9"/>
<circle cx="418.2" cy="399.1" r="2.4" fill="#9d7660" fill-opacity="0.62" stroke="#46505e" stroke-opacity="0.82" stroke-width="0.9"/>
<circle cx="399.0" cy="388.1" r="1.9" fill="#8cd17d" fill-opacity="0.65" stroke="#46505e" stroke-opacity="0.82" stroke-width="0.9"/>
<circle cx="358.3" cy="402.9" r="2.6" fill="#4e79a7" fill-opacity="0.57" stroke="#46505e" stroke-opacity="0.82" stroke-width="0.9"/>
<circle cx="353.7" cy="353.2" r="2.9" fill="#4e79a7" fill-opacity="0.57" stroke="#46505e" stroke-opacity="0.82" stroke-width="0.9"/>
<circle cx="356.2" cy="372.2" r="2.9" fill="#4e79a7" fill-opacity="0.57" stroke="#46505e" stroke-opacity="0.82" stroke-width="0.9"/>
<circle cx="395.1" cy="391.8" r="1.9" fill="#f7c28f" fill-opacity="0.55" stroke="#46505e" stroke-opacity="0.82" stroke-width="0.9"/>
<circle cx="357.6" cy="390.8" r="2.5" fill="#4e79a7" fill-opacity="0.57" stroke="#46505e" stroke-opacity="0.82" stroke-width="0.9"/>
<circle cx="389.5" cy="400.7" r="1.9" fill="#9d7660" fill-opacity="0.62" stroke="#46505e" stroke-opacity="0.82" stroke-width="0.9"/>
<circle cx="375.1" cy="387.9" r="2.9" fill="#a0cbe8" fill-opacity="0.62" stroke="#46505e" stroke-opacity="0.82" stroke-width="0.9"/>
<circle cx="377.9" cy="351.8" r="2.4" fill="#a0cbe8" fill-opacity="0.62" stroke="#46505e" stroke-opacity="0.82" stroke-width="0.9"/>
<circle cx="356.7" cy="357.8" r="2.6" fill="#4e79a7" fill-opacity="0.57" stroke="#46505e" stroke-opacity="0.82" stroke-width="0.9"/>
<circle cx="379.3" cy="357.4" r="2.8" fill="#a0cbe8" fill-opacity="0.62" stroke="#46505e" stroke-opacity="0.82" stroke-width="0.9"/>
<circle cx="380.2" cy="372.0" r="2.5" fill="#a0cbe8" fill-opacity="0.62" stroke="#46505e" stroke-opacity="0.82" stroke-width="0.9"/>
<circle cx="375.4" cy="406.5" r="1.8" fill="#9d7660" fill-opacity="0.62" stroke="#46505e" stroke-opacity="0.82" stroke-width="0.9"/>
<circle cx="384.6" cy="382.9" r="2.1" fill="#f7c28f" fill-opacity="0.55" stroke="#46505e" stroke-opacity="0.82" stroke-width="0.9"/>
<circle cx="347.6" cy="394.8" r="3.0" fill="#4e79a7" fill-opacity="0.57" stroke="#46505e" stroke-opacity="0.82" stroke-width="0.9"/>
<circle cx="350.5" cy="363.0" r="2.8" fill="#4e79a7" fill-opacity="0.57" stroke="#46505e" stroke-opacity="0.82" stroke-width="0.9"/>
<circle cx="383.7" cy="381.6" r="1.9" fill="#f7c28f" fill-opacity="0.55" stroke="#46505e" stroke-opacity="0.82" stroke-width="0.9"/>
<circle cx="372.8" cy="384.4" r="2.4" fill="#f7c28f" fill-opacity="0.55" stroke="#46505e" stroke-opacity="0.82" stroke-width="0.9"/>
<circle cx="348.1" cy="368.9" r="2.5" fill="#4e79a7" fill-opacity="0.57" stroke="#46505e" stroke-opacity="0.82" stroke-width="0.9"/>
<circle cx="368.0" cy="376.5" r="2.8" fill="#e8923c" fill-opacity="0.5" stroke="#46505e" stroke-opacity="0.82" stroke-width="0.9"/>
<circle cx="419.9" cy="402.0" r="2.1" fill="#9d7660" fill-opacity="0.62" stroke="#46505e" stroke-opacity="0.82" stroke-width="0.9"/>
<circle cx="399.6" cy="393.2" r="2.1" fill="#e8923c" fill-opacity="0.5" stroke="#46505e" stroke-opacity="0.82" stroke-width="0.9"/>
<circle cx="411.2" cy="404.8" r="1.9" fill="#e8923c" fill-opacity="0.5" stroke="#46505e" stroke-opacity="0.82" stroke-width="0.9"/>
<circle cx="354.6" cy="375.2" r="2.7" fill="#4e79a7" fill-opacity="0.57" stroke="#46505e" stroke-opacity="0.82" stroke-width="0.9"/>
<circle cx="422.4" cy="393.0" r="1.9" fill="#e9dcc0" fill-opacity="0.5" stroke="#46505e" stroke-opacity="0.82" stroke-width="0.9"/>
<circle cx="347.6" cy="406.6" r="3.1" fill="#4e79a7" fill-opacity="0.57" stroke="#46505e" stroke-opacity="0.82" stroke-width="0.9"/>
<circle cx="350.0" cy="380.3" r="2.6" fill="#4e79a7" fill-opacity="0.57" stroke="#46505e" stroke-opacity="0.82" stroke-width="0.9"/>
<circle cx="358.5" cy="394.5" r="2.6" fill="#4e79a7" fill-opacity="0.57" stroke="#46505e" stroke-opacity="0.82" stroke-width="0.9"/>
<circle cx="348.2" cy="376.3" r="2.4" fill="#4e79a7" fill-opacity="0.57" stroke="#46505e" stroke-opacity="0.82" stroke-width="0.9"/>
<circle cx="352.3" cy="394.2" r="2.4" fill="#4e79a7" fill-opacity="0.57" stroke="#46505e" stroke-opacity="0.82" stroke-width="0.9"/>
<circle cx="357.9" cy="397.7" r="2.9" fill="#a0cbe8" fill-opacity="0.62" stroke="#46505e" stroke-opacity="0.82" stroke-width="0.9"/>
<circle cx="381.9" cy="398.0" r="2.7" fill="#e8923c" fill-opacity="0.5" stroke="#46505e" stroke-opacity="0.82" stroke-width="0.9"/>
<circle cx="391.7" cy="388.8" r="1.8" fill="#f7c28f" fill-opacity="0.55" stroke="#46505e" stroke-opacity="0.82" stroke-width="0.9"/>
<circle cx="368.5" cy="378.2" r="2.4" fill="#4e79a7" fill-opacity="0.57" stroke="#46505e" stroke-opacity="0.82" stroke-width="0.9"/>
<circle cx="353.1" cy="389.2" r="2.5" fill="#4e79a7" fill-opacity="0.57" stroke="#46505e" stroke-opacity="0.82" stroke-width="0.9"/>
<circle cx="378.6" cy="400.2" r="1.8" fill="#8cd17d" fill-opacity="0.65" stroke="#46505e" stroke-opacity="0.82" stroke-width="0.9"/>
<circle cx="390.3" cy="386.7" r="2.4" fill="#f7c28f" fill-opacity="0.55" stroke="#46505e" stroke-opacity="0.82" stroke-width="0.9"/>
<circle cx="373.0" cy="385.8" r="2.4" fill="#e8923c" fill-opacity="0.5" stroke="#46505e" stroke-opacity="0.82" stroke-width="0.9"/>
<circle cx="347.5" cy="397.0" r="3.0" fill="#4e79a7" fill-opacity="0.57" stroke="#46505e" stroke-opacity="0.82" stroke-width="0.9"/>
<circle cx="406.3" cy="392.1" r="1.9" fill="#e9dcc0" fill-opacity="0.5" stroke="#46505e" stroke-opacity="0.82" stroke-width="0.9"/>
<circle cx="418.1" cy="404.9" r="2.3" fill="#f7c28f" fill-opacity="0.55" stroke="#46505e" stroke-opacity="0.82" stroke-width="0.9"/>
<circle cx="355.9" cy="387.8" r="2.7" fill="#4e79a7" fill-opacity="0.57" stroke="#46505e" stroke-opacity="0.82" stroke-width="0.9"/>
<circle cx="373.1" cy="393.6" r="2.6" fill="#e8923c" fill-opacity="0.5" stroke="#46505e" stroke-opacity="0.82" stroke-width="0.9"/>
<circle cx="401.1" cy="400.2" r="1.9" fill="#e9dcc0" fill-opacity="0.5" stroke="#46505e" stroke-opacity="0.82" stroke-width="0.9"/>
<circle cx="384.1" cy="388.0" r="2.7" fill="#e8923c" fill-opacity="0.5" stroke="#46505e" stroke-opacity="0.82" stroke-width="0.9"/>
<circle cx="360.5" cy="394.5" r="3.1" fill="#4e79a7" fill-opacity="0.57" stroke="#46505e" stroke-opacity="0.82" stroke-width="0.9"/>
<circle cx="384.2" cy="379.9" r="2.9" fill="#a0cbe8" fill-opacity="0.62" stroke="#46505e" stroke-opacity="0.82" stroke-width="0.9"/>
<circle cx="397.8" cy="405.6" r="2.2" fill="#e8923c" fill-opacity="0.5" stroke="#46505e" stroke-opacity="0.82" stroke-width="0.9"/>
<circle cx="396.0" cy="386.5" r="2.2" fill="#e8923c" fill-opacity="0.5" stroke="#46505e" stroke-opacity="0.82" stroke-width="0.9"/>
<circle cx="358.7" cy="360.0" r="3.1" fill="#4e79a7" fill-opacity="0.57" stroke="#46505e" stroke-opacity="0.82" stroke-width="0.9"/>
<circle cx="361.2" cy="397.4" r="2.2" fill="#9d7660" fill-opacity="0.62" stroke="#46505e" stroke-opacity="0.82" stroke-width="0.9"/>
<circle cx="353.7" cy="382.1" r="2.6" fill="#4e79a7" fill-opacity="0.57" stroke="#46505e" stroke-opacity="0.82" stroke-width="0.9"/>
<circle cx="378.7" cy="405.9" r="2.4" fill="#e8923c" fill-opacity="0.5" stroke="#46505e" stroke-opacity="0.82" stroke-width="0.9"/>
<circle cx="404.3" cy="392.2" r="2.3" fill="#e9dcc0" fill-opacity="0.5" stroke="#46505e" stroke-opacity="0.82" stroke-width="0.9"/>
<circle cx="374.4" cy="396.6" r="1.8" fill="#9d7660" fill-opacity="0.62" stroke="#46505e" stroke-opacity="0.82" stroke-width="0.9"/>
<circle cx="418.7" cy="389.7" r="1.9" fill="#e9dcc0" fill-opacity="0.5" stroke="#46505e" stroke-opacity="0.82" stroke-width="0.9"/>
<circle cx="361.0" cy="384.9" r="2.7" fill="#4e79a7" fill-opacity="0.57" stroke="#46505e" stroke-opacity="0.82" stroke-width="0.9"/>
<circle cx="406.6" cy="400.5" r="2.1" fill="#9d7660" fill-opacity="0.62" stroke="#46505e" stroke-opacity="0.82" stroke-width="0.9"/>
<circle cx="352.7" cy="388.8" r="3.0" fill="#4e79a7" fill-opacity="0.57" stroke="#46505e" stroke-opacity="0.82" stroke-width="0.9"/>
<circle cx="394.7" cy="381.9" r="2.4" fill="#e8923c" fill-opacity="0.5" stroke="#46505e" stroke-opacity="0.82" stroke-width="0.9"/>
<circle cx="373.2" cy="406.7" r="1.8" fill="#e8923c" fill-opacity="0.5" stroke="#46505e" stroke-opacity="0.82" stroke-width="0.9"/>
<circle cx="366.0" cy="360.5" r="3.1" fill="#4e79a7" fill-opacity="0.57" stroke="#46505e" stroke-opacity="0.82" stroke-width="0.9"/>
<circle cx="408.2" cy="390.6" r="2.0" fill="#f7c28f" fill-opacity="0.55" stroke="#46505e" stroke-opacity="0.82" stroke-width="0.9"/>
<circle cx="371.2" cy="378.2" r="3.0" fill="#a0cbe8" fill-opacity="0.62" stroke="#46505e" stroke-opacity="0.82" stroke-width="0.9"/>
<circle cx="349.4" cy="382.9" r="2.9" fill="#4e79a7" fill-opacity="0.57" stroke="#46505e" stroke-opacity="0.82" stroke-width="0.9"/>
<circle cx="353.6" cy="393.6" r="3.0" fill="#4e79a7" fill-opacity="0.57" stroke="#46505e" stroke-opacity="0.82" stroke-width="0.9"/>
<circle cx="376.3" cy="401.8" r="2.5" fill="#9d7660" fill-opacity="0.62" stroke="#46505e" stroke-opacity="0.82" stroke-width="0.9"/>
<circle cx="363.1" cy="358.6" r="2.6" fill="#a0cbe8" fill-opacity="0.62" stroke="#46505e" stroke-opacity="0.82" stroke-width="0.9"/>
<circle cx="388.9" cy="405.7" r="2.3" fill="#9d7660" fill-opacity="0.62" stroke="#46505e" stroke-opacity="0.82" stroke-width="0.9"/>
<circle cx="354.1" cy="370.4" r="2.6" fill="#4e79a7" fill-opacity="0.57" stroke="#46505e" stroke-opacity="0.82" stroke-width="0.9"/>
<circle cx="359.2" cy="378.4" r="2.9" fill="#4e79a7" fill-opacity="0.57" stroke="#46505e" stroke-opacity="0.82" stroke-width="0.9"/>
<circle cx="353.7" cy="370.2" r="2.9" fill="#4e79a7" fill-opacity="0.57" stroke="#46505e" stroke-opacity="0.82" stroke-width="0.9"/>
<circle cx="361.9" cy="404.1" r="1.7" fill="#9d7660" fill-opacity="0.62" stroke="#46505e" stroke-opacity="0.82" stroke-width="0.9"/>
<circle cx="358.4" cy="347.5" r="3.1" fill="#a0cbe8" fill-opacity="0.62" stroke="#46505e" stroke-opacity="0.82" stroke-width="0.9"/>
<circle cx="382.8" cy="377.1" r="2.4" fill="#e8923c" fill-opacity="0.5" stroke="#46505e" stroke-opacity="0.82" stroke-width="0.9"/>
<circle cx="354.6" cy="404.6" r="2.5" fill="#4e79a7" fill-opacity="0.57" stroke="#46505e" stroke-opacity="0.82" stroke-width="0.9"/>
<circle cx="351.9" cy="403.8" r="2.6" fill="#4e79a7" fill-opacity="0.57" stroke="#46505e" stroke-opacity="0.82" stroke-width="0.9"/>
<circle cx="411.1" cy="396.3" r="2.0" fill="#e9dcc0" fill-opacity="0.5" stroke="#46505e" stroke-opacity="0.82" stroke-width="0.9"/>
<circle cx="395.5" cy="378.4" r="2.2" fill="#f7c28f" fill-opacity="0.55" stroke="#46505e" stroke-opacity="0.82" stroke-width="0.9"/>
<circle cx="399.7" cy="394.2" r="2.7" fill="#e8923c" fill-opacity="0.5" stroke="#46505e" stroke-opacity="0.82" stroke-width="0.9"/>
<circle cx="346.8" cy="361.9" r="2.4" fill="#4e79a7" fill-opacity="0.57" stroke="#46505e" stroke-opacity="0.82" stroke-width="0.9"/>
<circle cx="349.0" cy="371.7" r="2.7" fill="#4e79a7" fill-opacity="0.57" stroke="#46505e" stroke-opacity="0.82" stroke-width="0.9"/>
<circle cx="347.2" cy="379.8" r="3.2" fill="#4e79a7" fill-opacity="0.57" stroke="#46505e" stroke-opacity="0.82" stroke-width="0.9"/>
<circle cx="368.9" cy="398.6" r="2.4" fill="#e8923c" fill-opacity="0.5" stroke="#46505e" stroke-opacity="0.82" stroke-width="0.9"/>
<circle cx="348.3" cy="403.9" r="3.3" fill="#4e79a7" fill-opacity="0.57" stroke="#46505e" stroke-opacity="0.82" stroke-width="0.9"/>
<circle cx="350.9" cy="376.2" r="2.6" fill="#4e79a7" fill-opacity="0.57" stroke="#46505e" stroke-opacity="0.82" stroke-width="0.9"/>
<circle cx="405.7" cy="395.6" r="2.0" fill="#e9dcc0" fill-opacity="0.5" stroke="#46505e" stroke-opacity="0.82" stroke-width="0.9"/>
<circle cx="349.1" cy="388.1" r="2.3" fill="#4e79a7" fill-opacity="0.57" stroke="#46505e" stroke-opacity="0.82" stroke-width="0.9"/>
<circle cx="362.1" cy="389.1" r="2.5" fill="#8cd17d" fill-opacity="0.65" stroke="#46505e" stroke-opacity="0.82" stroke-width="0.9"/>
<circle cx="408.3" cy="402.7" r="1.8" fill="#9d7660" fill-opacity="0.62" stroke="#46505e" stroke-opacity="0.82" stroke-width="0.9"/>
<circle cx="366.2" cy="403.8" r="2.1" fill="#9d7660" fill-opacity="0.62" stroke="#46505e" stroke-opacity="0.82" stroke-width="0.9"/>
<circle cx="359.6" cy="396.0" r="2.5" fill="#a0cbe8" fill-opacity="0.62" stroke="#46505e" stroke-opacity="0.82" stroke-width="0.9"/>
<circle cx="370.3" cy="359.3" r="2.8" fill="#a0cbe8" fill-opacity="0.62" stroke="#46505e" stroke-opacity="0.82" stroke-width="0.9"/>
<circle cx="356.6" cy="394.3" r="2.4" fill="#4e79a7" fill-opacity="0.57" stroke="#46505e" stroke-opacity="0.82" stroke-width="0.9"/>
<circle cx="384.8" cy="377.1" r="2.7" fill="#e8923c" fill-opacity="0.5" stroke="#46505e" stroke-opacity="0.82" stroke-width="0.9"/>
<circle cx="374.7" cy="384.9" r="2.3" fill="#f7c28f" fill-opacity="0.55" stroke="#46505e" stroke-opacity="0.82" stroke-width="0.9"/>
<circle cx="373.6" cy="376.9" r="2.5" fill="#a0cbe8" fill-opacity="0.62" stroke="#46505e" stroke-opacity="0.82" stroke-width="0.9"/>
<circle cx="355.0" cy="390.3" r="3.3" fill="#4e79a7" fill-opacity="0.57" stroke="#46505e" stroke-opacity="0.82" stroke-width="0.9"/>
<circle cx="348.5" cy="404.2" r="2.5" fill="#4e79a7" fill-opacity="0.57" stroke="#46505e" stroke-opacity="0.82" stroke-width="0.9"/>
<circle cx="422.0" cy="388.3" r="2.0" fill="#e9dcc0" fill-opacity="0.5" stroke="#46505e" stroke-opacity="0.82" stroke-width="0.9"/>
<circle cx="376.7" cy="364.6" r="2.8" fill="#a0cbe8" fill-opacity="0.62" stroke="#46505e" stroke-opacity="0.82" stroke-width="0.9"/>
<circle cx="371.9" cy="369.5" r="3.0" fill="#4e79a7" fill-opacity="0.57" stroke="#46505e" stroke-opacity="0.82" stroke-width="0.9"/>
<circle cx="370.6" cy="389.2" r="1.8" fill="#e8923c" fill-opacity="0.5" stroke="#46505e" stroke-opacity="0.82" stroke-width="0.9"/>
<circle cx="350.8" cy="387.4" r="2.3" fill="#4e79a7" fill-opacity="0.57" stroke="#46505e" stroke-opacity="0.82" stroke-width="0.9"/>
<circle cx="387.6" cy="396.6" r="2.5" fill="#9d7660" fill-opacity="0.62" stroke="#46505e" stroke-opacity="0.82" stroke-width="0.9"/>
<circle cx="360.5" cy="347.8" r="2.9" fill="#4e79a7" fill-opacity="0.57" stroke="#46505e" stroke-opacity="0.82" stroke-width="0.9"/>
<circle cx="382.2" cy="391.1" r="2.5" fill="#f7c28f" fill-opacity="0.55" stroke="#46505e" stroke-opacity="0.82" stroke-width="0.9"/>
<circle cx="391.1" cy="395.4" r="1.9" fill="#9d7660" fill-opacity="0.62" stroke="#46505e" stroke-opacity="0.82" stroke-width="0.9"/>
<circle cx="389.4" cy="380.4" r="2.4" fill="#e8923c" fill-opacity="0.5" stroke="#46505e" stroke-opacity="0.82" stroke-width="0.9"/>
<circle cx="382.4" cy="402.0" r="2.3" fill="#8cd17d" fill-opacity="0.65" stroke="#46505e" stroke-opacity="0.82" stroke-width="0.9"/>
<circle cx="347.2" cy="385.7" r="3.3" fill="#4e79a7" fill-opacity="0.57" stroke="#46505e" stroke-opacity="0.82" stroke-width="0.9"/>
<circle cx="368.1" cy="391.4" r="3.1" fill="#a0cbe8" fill-opacity="0.62" stroke="#46505e" stroke-opacity="0.82" stroke-width="0.9"/>
<circle cx="349.6" cy="367.3" r="2.7" fill="#4e79a7" fill-opacity="0.57" stroke="#46505e" stroke-opacity="0.82" stroke-width="0.9"/>
<circle cx="393.3" cy="388.0" r="2.7" fill="#e8923c" fill-opacity="0.5" stroke="#46505e" stroke-opacity="0.82" stroke-width="0.9"/>
<circle cx="372.2" cy="398.6" r="2.7" fill="#a0cbe8" fill-opacity="0.62" stroke="#46505e" stroke-opacity="0.82" stroke-width="0.9"/>
<circle cx="351.9" cy="366.9" r="3.2" fill="#4e79a7" fill-opacity="0.57" stroke="#46505e" stroke-opacity="0.82" stroke-width="0.9"/>
<circle cx="393.2" cy="379.6" r="2.1" fill="#f7c28f" fill-opacity="0.55" stroke="#46505e" stroke-opacity="0.82" stroke-width="0.9"/>
<circle cx="385.1" cy="382.1" r="2.3" fill="#e8923c" fill-opacity="0.5" stroke="#46505e" stroke-opacity="0.82" stroke-width="0.9"/>
<circle cx="350.3" cy="365.5" r="2.5" fill="#4e79a7" fill-opacity="0.57" stroke="#46505e" stroke-opacity="0.82" stroke-width="0.9"/>
<circle cx="366.7" cy="365.5" r="3.4" fill="#a0cbe8" fill-opacity="0.62" stroke="#46505e" stroke-opacity="0.82" stroke-width="0.9"/>
<circle cx="365.9" cy="359.6" r="3.1" fill="#a0cbe8" fill-opacity="0.62" stroke="#46505e" stroke-opacity="0.82" stroke-width="0.9"/>
<circle cx="349.7" cy="358.9" r="2.6" fill="#4e79a7" fill-opacity="0.57" stroke="#46505e" stroke-opacity="0.82" stroke-width="0.9"/>
<circle cx="414.6" cy="405.1" r="2.2" fill="#9d7660" fill-opacity="0.62" stroke="#46505e" stroke-opacity="0.82" stroke-width="0.9"/>
<circle cx="357.9" cy="381.9" r="2.7" fill="#4e79a7" fill-opacity="0.57" stroke="#46505e" stroke-opacity="0.82" stroke-width="0.9"/>
<circle cx="347.6" cy="401.7" r="3.3" fill="#4e79a7" fill-opacity="0.57" stroke="#46505e" stroke-opacity="0.82" stroke-width="0.9"/>
<circle cx="368.4" cy="391.1" r="2.2" fill="#e8923c" fill-opacity="0.5" stroke="#46505e" stroke-opacity="0.82" stroke-width="0.9"/>
<circle cx="444.1" cy="401.1" r="2.0" fill="#e9dcc0" fill-opacity="0.5" stroke="#46505e" stroke-opacity="0.82" stroke-width="0.9"/>
<circle cx="361.7" cy="383.1" r="2.9" fill="#4e79a7" fill-opacity="0.57" stroke="#46505e" stroke-opacity="0.82" stroke-width="0.9"/>
<circle cx="400.1" cy="385.9" r="2.1" fill="#f7c28f" fill-opacity="0.55" stroke="#46505e" stroke-opacity="0.82" stroke-width="0.9"/>
<circle cx="376.3" cy="379.6" r="3.1" fill="#a0cbe8" fill-opacity="0.62" stroke="#46505e" stroke-opacity="0.82" stroke-width="0.9"/>
<circle cx="368.7" cy="404.2" r="2.4" fill="#e8923c" fill-opacity="0.5" stroke="#46505e" stroke-opacity="0.82" stroke-width="0.9"/>
<circle cx="368.2" cy="385.7" r="2.6" fill="#a0cbe8" fill-opacity="0.62" stroke="#46505e" stroke-opacity="0.82" stroke-width="0.9"/>
<circle cx="376.3" cy="385.5" r="2.1" fill="#f7c28f" fill-opacity="0.55" stroke="#46505e" stroke-opacity="0.82" stroke-width="0.9"/>
<circle cx="365.5" cy="395.2" r="2.5" fill="#a0cbe8" fill-opacity="0.62" stroke="#46505e" stroke-opacity="0.82" stroke-width="0.9"/>
<circle cx="378.6" cy="397.2" r="2.6" fill="#e8923c" fill-opacity="0.5" stroke="#46505e" stroke-opacity="0.82" stroke-width="0.9"/>
<circle cx="361.1" cy="396.6" r="3.4" fill="#4e79a7" fill-opacity="0.57" stroke="#46505e" stroke-opacity="0.82" stroke-width="0.9"/>
<circle cx="371.7" cy="392.3" r="2.6" fill="#e8923c" fill-opacity="0.5" stroke="#46505e" stroke-opacity="0.82" stroke-width="0.9"/>
<circle cx="361.7" cy="384.2" r="3.1" fill="#4e79a7" fill-opacity="0.57" stroke="#46505e" stroke-opacity="0.82" stroke-width="0.9"/>
<circle cx="364.4" cy="353.0" r="3.0" fill="#a0cbe8" fill-opacity="0.62" stroke="#46505e" stroke-opacity="0.82" stroke-width="0.9"/>
<circle cx="350.9" cy="397.7" r="2.5" fill="#4e79a7" fill-opacity="0.57" stroke="#46505e" stroke-opacity="0.82" stroke-width="0.9"/>
<circle cx="398.1" cy="394.9" r="2.5" fill="#e8923c" fill-opacity="0.5" stroke="#46505e" stroke-opacity="0.82" stroke-width="0.9"/>
<circle cx="369.9" cy="364.7" r="2.7" fill="#4e79a7" fill-opacity="0.57" stroke="#46505e" stroke-opacity="0.82" stroke-width="0.9"/>
<circle cx="352.4" cy="350.6" r="3.0" fill="#4e79a7" fill-opacity="0.57" stroke="#46505e" stroke-opacity="0.82" stroke-width="0.9"/>
<circle cx="356.2" cy="347.0" r="3.1" fill="#4e79a7" fill-opacity="0.57" stroke="#46505e" stroke-opacity="0.82" stroke-width="0.9"/>
<circle cx="354.9" cy="355.3" r="2.7" fill="#4e79a7" fill-opacity="0.57" stroke="#46505e" stroke-opacity="0.82" stroke-width="0.9"/>
<circle cx="347.0" cy="378.9" r="3.1" fill="#4e79a7" fill-opacity="0.57" stroke="#46505e" stroke-opacity="0.82" stroke-width="0.9"/>
<circle cx="369.6" cy="397.2" r="2.8" fill="#e8923c" fill-opacity="0.5" stroke="#46505e" stroke-opacity="0.82" stroke-width="0.9"/>
<circle cx="376.2" cy="382.5" r="2.2" fill="#e8923c" fill-opacity="0.5" stroke="#46505e" stroke-opacity="0.82" stroke-width="0.9"/>
<circle cx="404.6" cy="406.9" r="2.4" fill="#9d7660" fill-opacity="0.62" stroke="#46505e" stroke-opacity="0.82" stroke-width="0.9"/>
<circle cx="388.4" cy="400.3" r="2.1" fill="#e8923c" fill-opacity="0.5" stroke="#46505e" stroke-opacity="0.82" stroke-width="0.9"/>
<circle cx="403.3" cy="399.1" r="1.8" fill="#8cd17d" fill-opacity="0.65" stroke="#46505e" stroke-opacity="0.82" stroke-width="0.9"/>
<circle cx="357.9" cy="353.7" r="2.4" fill="#a0cbe8" fill-opacity="0.62" stroke="#46505e" stroke-opacity="0.82" stroke-width="0.9"/>
<circle cx="355.8" cy="361.4" r="2.6" fill="#4e79a7" fill-opacity="0.57" stroke="#46505e" stroke-opacity="0.82" stroke-width="0.9"/>
<circle cx="368.2" cy="378.6" r="2.4" fill="#e8923c" fill-opacity="0.5" stroke="#46505e" stroke-opacity="0.82" stroke-width="0.9"/>
<circle cx="351.3" cy="359.2" r="3.2" fill="#4e79a7" fill-opacity="0.57" stroke="#46505e" stroke-opacity="0.82" stroke-width="0.9"/>
<circle cx="349.4" cy="375.3" r="2.4" fill="#4e79a7" fill-opacity="0.57" stroke="#46505e" stroke-opacity="0.82" stroke-width="0.9"/>
<circle cx="383.1" cy="385.7" r="1.9" fill="#f7c28f" fill-opacity="0.55" stroke="#46505e" stroke-opacity="0.82" stroke-width="0.9"/>
<circle cx="357.5" cy="348.3" r="3.3" fill="#4e79a7" fill-opacity="0.57" stroke="#46505e" stroke-opacity="0.82" stroke-width="0.9"/>
<circle cx="370.2" cy="381.9" r="2.0" fill="#e8923c" fill-opacity="0.5" stroke="#46505e" stroke-opacity="0.82" stroke-width="0.9"/>
<circle cx="380.9" cy="401.4" r="1.9" fill="#9d7660" fill-opacity="0.62" stroke="#46505e" stroke-opacity="0.82" stroke-width="0.9"/>
<circle cx="365.4" cy="357.0" r="2.9" fill="#a0cbe8" fill-opacity="0.62" stroke="#46505e" stroke-opacity="0.82" stroke-width="0.9"/>
<circle cx="389.9" cy="402.9" r="2.1" fill="#e8923c" fill-opacity="0.5" stroke="#46505e" stroke-opacity="0.82" stroke-width="0.9"/>
<circle cx="387.3" cy="354.5" r="3.0" fill="#a0cbe8" fill-opacity="0.62" stroke="#46505e" stroke-opacity="0.82" stroke-width="0.9"/>
<circle cx="360.0" cy="391.5" r="2.4" fill="#4e79a7" fill-opacity="0.57" stroke="#46505e" stroke-opacity="0.82" stroke-width="0.9"/>
<circle cx="354.5" cy="392.1" r="3.1" fill="#4e79a7" fill-opacity="0.57" stroke="#46505e" stroke-opacity="0.82" stroke-width="0.9"/>
<circle cx="368.1" cy="392.1" r="1.8" fill="#e8923c" fill-opacity="0.5" stroke="#46505e" stroke-opacity="0.82" stroke-width="0.9"/>
<circle cx="376.7" cy="349.5" r="2.7" fill="#a0cbe8" fill-opacity="0.62" stroke="#46505e" stroke-opacity="0.82" stroke-width="0.9"/>
<circle cx="378.6" cy="385.4" r="2.2" fill="#e8923c" fill-opacity="0.5" stroke="#46505e" stroke-opacity="0.82" stroke-width="0.9"/>
<circle cx="385.9" cy="407.5" r="2.0" fill="#9d7660" fill-opacity="0.62" stroke="#46505e" stroke-opacity="0.82" stroke-width="0.9"/>
<circle cx="374.4" cy="398.4" r="2.0" fill="#e8923c" fill-opacity="0.5" stroke="#46505e" stroke-opacity="0.82" stroke-width="0.9"/>
<circle cx="426.4" cy="385.2" r="2.0" fill="#59a14f" fill-opacity="0.65" stroke="#46505e" stroke-opacity="0.82" stroke-width="0.9"/>
<circle cx="347.3" cy="401.4" r="3.4" fill="#4e79a7" fill-opacity="0.57" stroke="#46505e" stroke-opacity="0.82" stroke-width="0.9"/>
<circle cx="358.1" cy="401.6" r="2.6" fill="#4e79a7" fill-opacity="0.57" stroke="#46505e" stroke-opacity="0.82" stroke-width="0.9"/>
<circle cx="381.1" cy="384.0" r="2.4" fill="#e8923c" fill-opacity="0.5" stroke="#46505e" stroke-opacity="0.82" stroke-width="0.9"/>
<circle cx="347.8" cy="375.5" r="3.2" fill="#4e79a7" fill-opacity="0.57" stroke="#46505e" stroke-opacity="0.82" stroke-width="0.9"/>
<circle cx="354.0" cy="368.8" r="2.7" fill="#4e79a7" fill-opacity="0.57" stroke="#46505e" stroke-opacity="0.82" stroke-width="0.9"/>
<circle cx="384.6" cy="388.1" r="1.9" fill="#8cd17d" fill-opacity="0.65" stroke="#46505e" stroke-opacity="0.82" stroke-width="0.9"/>
<circle cx="375.4" cy="389.6" r="2.5" fill="#4e79a7" fill-opacity="0.57" stroke="#46505e" stroke-opacity="0.82" stroke-width="0.9"/>
<circle cx="364.1" cy="367.5" r="2.4" fill="#a0cbe8" fill-opacity="0.62" stroke="#46505e" stroke-opacity="0.82" stroke-width="0.9"/>
<circle cx="352.3" cy="385.0" r="3.3" fill="#4e79a7" fill-opacity="0.57" stroke="#46505e" stroke-opacity="0.82" stroke-width="0.9"/>
<circle cx="413.2" cy="401.5" r="2.3" fill="#9d7660" fill-opacity="0.62" stroke="#46505e" stroke-opacity="0.82" stroke-width="0.9"/>
<circle cx="350.5" cy="396.0" r="3.1" fill="#4e79a7" fill-opacity="0.57" stroke="#46505e" stroke-opacity="0.82" stroke-width="0.9"/>
<circle cx="373.4" cy="389.0" r="3.2" fill="#a0cbe8" fill-opacity="0.62" stroke="#46505e" stroke-opacity="0.82" stroke-width="0.9"/>
<circle cx="377.5" cy="374.7" r="2.9" fill="#a0cbe8" fill-opacity="0.62" stroke="#46505e" stroke-opacity="0.82" stroke-width="0.9"/>
<circle cx="349.8" cy="397.9" r="3.4" fill="#4e79a7" fill-opacity="0.57" stroke="#46505e" stroke-opacity="0.82" stroke-width="0.9"/>
<circle cx="369.8" cy="386.7" r="2.7" fill="#e8923c" fill-opacity="0.5" stroke="#46505e" stroke-opacity="0.82" stroke-width="0.9"/>
<circle cx="401.9" cy="395.8" r="2.4" fill="#f7c28f" fill-opacity="0.55" stroke="#46505e" stroke-opacity="0.82" stroke-width="0.9"/>
<circle cx="352.7" cy="408.0" r="2.8" fill="#4e79a7" fill-opacity="0.57" stroke="#46505e" stroke-opacity="0.82" stroke-width="0.9"/>
<circle cx="352.1" cy="407.0" r="3.3" fill="#4e79a7" fill-opacity="0.57" stroke="#46505e" stroke-opacity="0.82" stroke-width="0.9"/>
<circle cx="358.7" cy="381.7" r="3.1" fill="#4e79a7" fill-opacity="0.57" stroke="#46505e" stroke-opacity="0.82" stroke-width="0.9"/>
<circle cx="411.5" cy="399.1" r="2.4" fill="#9d7660" fill-opacity="0.62" stroke="#46505e" stroke-opacity="0.82" stroke-width="0.9"/>
<circle cx="369.8" cy="390.5" r="2.3" fill="#e8923c" fill-opacity="0.5" stroke="#46505e" stroke-opacity="0.82" stroke-width="0.9"/>
<circle cx="398.9" cy="395.7" r="1.8" fill="#e8923c" fill-opacity="0.5" stroke="#46505e" stroke-opacity="0.82" stroke-width="0.9"/>
<circle cx="390.5" cy="393.4" r="2.6" fill="#e8923c" fill-opacity="0.5" stroke="#46505e" stroke-opacity="0.82" stroke-width="0.9"/>
<circle cx="348.4" cy="396.0" r="2.3" fill="#4e79a7" fill-opacity="0.57" stroke="#46505e" stroke-opacity="0.82" stroke-width="0.9"/>
<circle cx="367.2" cy="376.6" r="3.1" fill="#a0cbe8" fill-opacity="0.62" stroke="#46505e" stroke-opacity="0.82" stroke-width="0.9"/>
<circle cx="405.9" cy="389.2" r="2.1" fill="#59a14f" fill-opacity="0.65" stroke="#46505e" stroke-opacity="0.82" stroke-width="0.9"/>
<circle cx="348.4" cy="400.4" r="2.9" fill="#4e79a7" fill-opacity="0.57" stroke="#46505e" stroke-opacity="0.82" stroke-width="0.9"/>
<circle cx="361.5" cy="395.3" r="3.0" fill="#a0cbe8" fill-opacity="0.62" stroke="#46505e" stroke-opacity="0.82" stroke-width="0.9"/>
<circle cx="367.0" cy="381.1" r="3.2" fill="#4e79a7" fill-opacity="0.57" stroke="#46505e" stroke-opacity="0.82" stroke-width="0.9"/>
<circle cx="393.0" cy="377.9" r="2.5" fill="#e8923c" fill-opacity="0.5" stroke="#46505e" stroke-opacity="0.82" stroke-width="0.9"/>
<circle cx="365.8" cy="350.5" r="2.7" fill="#4e79a7" fill-opacity="0.57" stroke="#46505e" stroke-opacity="0.82" stroke-width="0.9"/>
<circle cx="353.9" cy="382.8" r="2.7" fill="#4e79a7" fill-opacity="0.57" stroke="#46505e" stroke-opacity="0.82" stroke-width="0.9"/>
<circle cx="381.6" cy="370.9" r="3.1" fill="#a0cbe8" fill-opacity="0.62" stroke="#46505e" stroke-opacity="0.82" stroke-width="0.9"/>
<circle cx="357.7" cy="352.9" r="3.0" fill="#4e79a7" fill-opacity="0.57" stroke="#46505e" stroke-opacity="0.82" stroke-width="0.9"/>
<circle cx="356.3" cy="391.8" r="3.3" fill="#4e79a7" fill-opacity="0.57" stroke="#46505e" stroke-opacity="0.82" stroke-width="0.9"/>
<circle cx="350.2" cy="375.1" r="2.6" fill="#4e79a7" fill-opacity="0.57" stroke="#46505e" stroke-opacity="0.82" stroke-width="0.9"/>
<circle cx="359.1" cy="361.6" r="2.9" fill="#4e79a7" fill-opacity="0.57" stroke="#46505e" stroke-opacity="0.82" stroke-width="0.9"/>
<circle cx="391.5" cy="381.5" r="2.5" fill="#f7c28f" fill-opacity="0.55" stroke="#46505e" stroke-opacity="0.82" stroke-width="0.9"/>
<circle cx="350.9" cy="368.5" r="3.3" fill="#4e79a7" fill-opacity="0.57" stroke="#46505e" stroke-opacity="0.82" stroke-width="0.9"/>
<circle cx="377.1" cy="387.6" r="2.8" fill="#e8923c" fill-opacity="0.5" stroke="#46505e" stroke-opacity="0.82" stroke-width="0.9"/>
<circle cx="393.4" cy="377.4" r="2.2" fill="#e8923c" fill-opacity="0.5" stroke="#46505e" stroke-opacity="0.82" stroke-width="0.9"/>
<circle cx="355.8" cy="400.7" r="2.0" fill="#9d7660" fill-opacity="0.62" stroke="#46505e" stroke-opacity="0.82" stroke-width="0.9"/>
<circle cx="387.3" cy="393.1" r="2.2" fill="#f7c28f" fill-opacity="0.55" stroke="#46505e" stroke-opacity="0.82" stroke-width="0.9"/>
<circle cx="355.4" cy="391.7" r="2.8" fill="#4e79a7" fill-opacity="0.57" stroke="#46505e" stroke-opacity="0.82" stroke-width="0.9"/>
<circle cx="382.3" cy="354.5" r="3.3" fill="#a0cbe8" fill-opacity="0.62" stroke="#46505e" stroke-opacity="0.82" stroke-width="0.9"/>
<circle cx="350.8" cy="377.9" r="3.1" fill="#4e79a7" fill-opacity="0.57" stroke="#46505e" stroke-opacity="0.82" stroke-width="0.9"/>
<circle cx="363.0" cy="395.6" r="2.5" fill="#a0cbe8" fill-opacity="0.62" stroke="#46505e" stroke-opacity="0.82" stroke-width="0.9"/>
<circle cx="352.0" cy="362.9" r="3.2" fill="#4e79a7" fill-opacity="0.57" stroke="#46505e" stroke-opacity="0.82" stroke-width="0.9"/>
<circle cx="355.5" cy="346.3" r="2.8" fill="#4e79a7" fill-opacity="0.57" stroke="#46505e" stroke-opacity="0.82" stroke-width="0.9"/>
<circle cx="353.0" cy="374.1" r="2.6" fill="#4e79a7" fill-opacity="0.57" stroke="#46505e" stroke-opacity="0.82" stroke-width="0.9"/>
<circle cx="380.1" cy="381.7" r="2.0" fill="#8cd17d" fill-opacity="0.65" stroke="#46505e" stroke-opacity="0.82" stroke-width="0.9"/>
<circle cx="368.9" cy="358.3" r="2.9" fill="#4e79a7" fill-opacity="0.57" stroke="#46505e" stroke-opacity="0.82" stroke-width="0.9"/>
<circle cx="378.1" cy="404.3" r="1.9" fill="#e8923c" fill-opacity="0.5" stroke="#46505e" stroke-opacity="0.82" stroke-width="0.9"/>
<circle cx="395.1" cy="401.8" r="2.4" fill="#8cd17d" fill-opacity="0.65" stroke="#46505e" stroke-opacity="0.82" stroke-width="0.9"/>
<circle cx="351.2" cy="373.3" r="2.8" fill="#4e79a7" fill-opacity="0.57" stroke="#46505e" stroke-opacity="0.82" stroke-width="0.9"/>
<circle cx="370.2" cy="379.1" r="2.4" fill="#a0cbe8" fill-opacity="0.62" stroke="#46505e" stroke-opacity="0.82" stroke-width="0.9"/>
<circle cx="347.4" cy="364.8" r="3.3" fill="#4e79a7" fill-opacity="0.57" stroke="#46505e" stroke-opacity="0.82" stroke-width="0.9"/>
<circle cx="380.9" cy="378.3" r="2.4" fill="#e8923c" fill-opacity="0.5" stroke="#46505e" stroke-opacity="0.82" stroke-width="0.9"/>
<circle cx="378.9" cy="346.6" r="2.9" fill="#a0cbe8" fill-opacity="0.62" stroke="#46505e" stroke-opacity="0.82" stroke-width="0.9"/>
<circle cx="371.4" cy="398.7" r="1.9" fill="#e8923c" fill-opacity="0.5" stroke="#46505e" stroke-opacity="0.82" stroke-width="0.9"/>
<circle cx="433.8" cy="406.8" r="1.8" fill="#e9dcc0" fill-opacity="0.5" stroke="#46505e" stroke-opacity="0.82" stroke-width="0.9"/>
<circle cx="384.7" cy="384.1" r="2.0" fill="#f7c28f" fill-opacity="0.55" stroke="#46505e" stroke-opacity="0.82" stroke-width="0.9"/>
<circle cx="382.4" cy="397.3" r="2.1" fill="#8cd17d" fill-opacity="0.65" stroke="#46505e" stroke-opacity="0.82" stroke-width="0.9"/>
<circle cx="350.7" cy="375.2" r="2.3" fill="#4e79a7" fill-opacity="0.57" stroke="#46505e" stroke-opacity="0.82" stroke-width="0.9"/>
<circle cx="368.3" cy="395.9" r="3.4" fill="#4e79a7" fill-opacity="0.57" stroke="#46505e" stroke-opacity="0.82" stroke-width="0.9"/>
<circle cx="350.1" cy="360.9" r="2.5" fill="#4e79a7" fill-opacity="0.57" stroke="#46505e" stroke-opacity="0.82" stroke-width="0.9"/>
<circle cx="363.9" cy="388.3" r="3.4" fill="#a0cbe8" fill-opacity="0.62" stroke="#46505e" stroke-opacity="0.82" stroke-width="0.9"/>
<circle cx="375.7" cy="387.5" r="2.3" fill="#a0cbe8" fill-opacity="0.62" stroke="#46505e" stroke-opacity="0.82" stroke-width="0.9"/>
<circle cx="426.1" cy="404.5" r="2.2" fill="#59a14f" fill-opacity="0.65" stroke="#46505e" stroke-opacity="0.82" stroke-width="0.9"/>
<circle cx="378.1" cy="351.1" r="3.3" fill="#a0cbe8" fill-opacity="0.62" stroke="#46505e" stroke-opacity="0.82" stroke-width="0.9"/>
<circle cx="368.4" cy="386.4" r="2.4" fill="#8cd17d" fill-opacity="0.65" stroke="#46505e" stroke-opacity="0.82" stroke-width="0.9"/>
<circle cx="386.9" cy="405.0" r="2.1" fill="#9d7660" fill-opacity="0.62" stroke="#46505e" stroke-opacity="0.82" stroke-width="0.9"/>
<circle cx="352.7" cy="398.7" r="2.9" fill="#4e79a7" fill-opacity="0.57" stroke="#46505e" stroke-opacity="0.82" stroke-width="0.9"/>
<circle cx="349.0" cy="375.0" r="2.6" fill="#4e79a7" fill-opacity="0.57" stroke="#46505e" stroke-opacity="0.82" stroke-width="0.9"/>
<circle cx="388.3" cy="356.0" r="3.1" fill="#a0cbe8" fill-opacity="0.62" stroke="#46505e" stroke-opacity="0.82" stroke-width="0.9"/>
<circle cx="359.3" cy="375.9" r="2.9" fill="#4e79a7" fill-opacity="0.57" stroke="#46505e" stroke-opacity="0.82" stroke-width="0.9"/>
<circle cx="352.3" cy="399.1" r="2.6" fill="#4e79a7" fill-opacity="0.57" stroke="#46505e" stroke-opacity="0.82" stroke-width="0.9"/>
<circle cx="361.2" cy="352.1" r="2.8" fill="#4e79a7" fill-opacity="0.57" stroke="#46505e" stroke-opacity="0.82" stroke-width="0.9"/>
<circle cx="403.9" cy="400.1" r="2.4" fill="#e8923c" fill-opacity="0.5" stroke="#46505e" stroke-opacity="0.82" stroke-width="0.9"/>
<circle cx="352.6" cy="389.1" r="3.1" fill="#4e79a7" fill-opacity="0.57" stroke="#46505e" stroke-opacity="0.82" stroke-width="0.9"/>
<circle cx="375.6" cy="394.0" r="2.5" fill="#f7c28f" fill-opacity="0.55" stroke="#46505e" stroke-opacity="0.82" stroke-width="0.9"/>
<circle cx="351.0" cy="389.2" r="3.3" fill="#4e79a7" fill-opacity="0.57" stroke="#46505e" stroke-opacity="0.82" stroke-width="0.9"/>
<circle cx="412.0" cy="403.0" r="1.9" fill="#8cd17d" fill-opacity="0.65" stroke="#46505e" stroke-opacity="0.82" stroke-width="0.9"/>
<circle cx="414.1" cy="395.6" r="2.4" fill="#9d7660" fill-opacity="0.62" stroke="#46505e" stroke-opacity="0.82" stroke-width="0.9"/>
<circle cx="349.2" cy="386.5" r="2.4" fill="#4e79a7" fill-opacity="0.57" stroke="#46505e" stroke-opacity="0.82" stroke-width="0.9"/>
<circle cx="352.7" cy="349.8" r="2.8" fill="#4e79a7" fill-opacity="0.57" stroke="#46505e" stroke-opacity="0.82" stroke-width="0.9"/>
<circle cx="357.1" cy="397.8" r="2.8" fill="#a0cbe8" fill-opacity="0.62" stroke="#46505e" stroke-opacity="0.82" stroke-width="0.9"/>
<circle cx="347.1" cy="401.3" r="2.9" fill="#4e79a7" fill-opacity="0.57" stroke="#46505e" stroke-opacity="0.82" stroke-width="0.9"/>
<circle cx="364.6" cy="373.7" r="3.0" fill="#a0cbe8" fill-opacity="0.62" stroke="#46505e" stroke-opacity="0.82" stroke-width="0.9"/>
<circle cx="356.0" cy="397.1" r="2.4" fill="#9d7660" fill-opacity="0.62" stroke="#46505e" stroke-opacity="0.82" stroke-width="0.9"/>
<circle cx="350.8" cy="405.9" r="2.6" fill="#4e79a7" fill-opacity="0.57" stroke="#46505e" stroke-opacity="0.82" stroke-width="0.9"/>
<circle cx="370.8" cy="380.4" r="2.6" fill="#e8923c" fill-opacity="0.5" stroke="#46505e" stroke-opacity="0.82" stroke-width="0.9"/>
<circle cx="404.7" cy="401.9" r="1.8" fill="#9d7660" fill-opacity="0.62" stroke="#46505e" stroke-opacity="0.82" stroke-width="0.9"/>
<circle cx="352.5" cy="405.4" r="2.7" fill="#4e79a7" fill-opacity="0.57" stroke="#46505e" stroke-opacity="0.82" stroke-width="0.9"/>
<circle cx="349.9" cy="372.7" r="2.9" fill="#4e79a7" fill-opacity="0.57" stroke="#46505e" stroke-opacity="0.82" stroke-width="0.9"/>
<circle cx="370.8" cy="376.1" r="2.2" fill="#e8923c" fill-opacity="0.5" stroke="#46505e" stroke-opacity="0.82" stroke-width="0.9"/>
<circle cx="358.1" cy="351.9" r="3.2" fill="#a0cbe8" fill-opacity="0.62" stroke="#46505e" stroke-opacity="0.82" stroke-width="0.9"/>
<circle cx="355.3" cy="395.1" r="2.2" fill="#9d7660" fill-opacity="0.62" stroke="#46505e" stroke-opacity="0.82" stroke-width="0.9"/>
<circle cx="437.6" cy="386.0" r="2.0" fill="#59a14f" fill-opacity="0.65" stroke="#46505e" stroke-opacity="0.82" stroke-width="0.9"/>
<circle cx="378.4" cy="377.7" r="1.8" fill="#e8923c" fill-opacity="0.5" stroke="#46505e" stroke-opacity="0.82" stroke-width="0.9"/>
<circle cx="348.8" cy="363.2" r="3.2" fill="#4e79a7" fill-opacity="0.57" stroke="#46505e" stroke-opacity="0.82" stroke-width="0.9"/>
<circle cx="388.8" cy="397.6" r="2.5" fill="#e8923c" fill-opacity="0.5" stroke="#46505e" stroke-opacity="0.82" stroke-width="0.9"/>
<circle cx="397.8" cy="393.2" r="2.0" fill="#e8923c" fill-opacity="0.5" stroke="#46505e" stroke-opacity="0.82" stroke-width="0.9"/>
<circle cx="371.8" cy="377.5" r="1.8" fill="#e8923c" fill-opacity="0.5" stroke="#46505e" stroke-opacity="0.82" stroke-width="0.9"/>
<circle cx="350.3" cy="369.1" r="2.8" fill="#4e79a7" fill-opacity="0.57" stroke="#46505e" stroke-opacity="0.82" stroke-width="0.9"/>
<circle cx="427.8" cy="391.1" r="2.0" fill="#e9dcc0" fill-opacity="0.5" stroke="#46505e" stroke-opacity="0.82" stroke-width="0.9"/>
<circle cx="350.0" cy="367.2" r="2.3" fill="#4e79a7" fill-opacity="0.57" stroke="#46505e" stroke-opacity="0.82" stroke-width="0.9"/>
<circle cx="386.6" cy="359.8" r="2.6" fill="#a0cbe8" fill-opacity="0.62" stroke="#46505e" stroke-opacity="0.82" stroke-width="0.9"/>
<circle cx="425.4" cy="403.2" r="1.9" fill="#e9dcc0" fill-opacity="0.5" stroke="#46505e" stroke-opacity="0.82" stroke-width="0.9"/>
<circle cx="403.6" cy="383.3" r="2.0" fill="#8cd17d" fill-opacity="0.65" stroke="#46505e" stroke-opacity="0.82" stroke-width="0.9"/>
<circle cx="420.0" cy="405.1" r="2.5" fill="#f7c28f" fill-opacity="0.55" stroke="#46505e" stroke-opacity="0.82" stroke-width="0.9"/>
<circle cx="376.6" cy="385.4" r="2.1" fill="#e8923c" fill-opacity="0.5" stroke="#46505e" stroke-opacity="0.82" stroke-width="0.9"/>
<circle cx="349.5" cy="396.2" r="2.8" fill="#4e79a7" fill-opacity="0.57" stroke="#46505e" stroke-opacity="0.82" stroke-width="0.9"/>
<circle cx="369.3" cy="388.3" r="2.8" fill="#e8923c" fill-opacity="0.5" stroke="#46505e" stroke-opacity="0.82" stroke-width="0.9"/>
<circle cx="376.9" cy="385.6" r="2.7" fill="#e8923c" fill-opacity="0.5" stroke="#46505e" stroke-opacity="0.82" stroke-width="0.9"/>
<circle cx="347.7" cy="384.3" r="2.6" fill="#4e79a7" fill-opacity="0.57" stroke="#46505e" stroke-opacity="0.82" stroke-width="0.9"/>
<circle cx="371.1" cy="388.2" r="1.9" fill="#e8923c" fill-opacity="0.5" stroke="#46505e" stroke-opacity="0.82" stroke-width="0.9"/>
<circle cx="382.7" cy="400.5" r="1.9" fill="#e8923c" fill-opacity="0.5" stroke="#46505e" stroke-opacity="0.82" stroke-width="0.9"/>
<circle cx="371.8" cy="403.2" r="2.1" fill="#9d7660" fill-opacity="0.62" stroke="#46505e" stroke-opacity="0.82" stroke-width="0.9"/>
<circle cx="379.3" cy="376.9" r="2.5" fill="#e8923c" fill-opacity="0.5" stroke="#46505e" stroke-opacity="0.82" stroke-width="0.9"/>
<circle cx="416.2" cy="392.1" r="1.8" fill="#e9dcc0" fill-opacity="0.5" stroke="#46505e" stroke-opacity="0.82" stroke-width="0.9"/>
<circle cx="371.1" cy="402.8" r="2.5" fill="#9d7660" fill-opacity="0.62" stroke="#46505e" stroke-opacity="0.82" stroke-width="0.9"/>
<circle cx="359.5" cy="393.8" r="2.9" fill="#4e79a7" fill-opacity="0.57" stroke="#46505e" stroke-opacity="0.82" stroke-width="0.9"/>
<circle cx="349.5" cy="366.4" r="2.8" fill="#4e79a7" fill-opacity="0.57" stroke="#46505e" stroke-opacity="0.82" stroke-width="0.9"/>
<circle cx="402.6" cy="397.1" r="2.0" fill="#8cd17d" fill-opacity="0.65" stroke="#46505e" stroke-opacity="0.82" stroke-width="0.9"/>
<circle cx="352.0" cy="392.6" r="2.8" fill="#4e79a7" fill-opacity="0.57" stroke="#46505e" stroke-opacity="0.82" stroke-width="0.9"/>
<circle cx="347.6" cy="391.3" r="2.4" fill="#4e79a7" fill-opacity="0.57" stroke="#46505e" stroke-opacity="0.82" stroke-width="0.9"/>
<circle cx="405.6" cy="402.4" r="2.5" fill="#e8923c" fill-opacity="0.5" stroke="#46505e" stroke-opacity="0.82" stroke-width="0.9"/>
<circle cx="349.7" cy="382.1" r="2.7" fill="#4e79a7" fill-opacity="0.57" stroke="#46505e" stroke-opacity="0.82" stroke-width="0.9"/>
<circle cx="350.4" cy="405.4" r="2.6" fill="#4e79a7" fill-opacity="0.57" stroke="#46505e" stroke-opacity="0.82" stroke-width="0.9"/>
<circle cx="409.6" cy="399.3" r="1.9" fill="#e9dcc0" fill-opacity="0.5" stroke="#46505e" stroke-opacity="0.82" stroke-width="0.9"/>
<circle cx="351.7" cy="362.2" r="3.2" fill="#4e79a7" fill-opacity="0.57" stroke="#46505e" stroke-opacity="0.82" stroke-width="0.9"/>
<circle cx="358.7" cy="380.5" r="2.8" fill="#4e79a7" fill-opacity="0.57" stroke="#46505e" stroke-opacity="0.82" stroke-width="0.9"/>
<circle cx="370.1" cy="362.9" r="2.3" fill="#a0cbe8" fill-opacity="0.62" stroke="#46505e" stroke-opacity="0.82" stroke-width="0.9"/>
<circle cx="375.7" cy="387.5" r="3.0" fill="#a0cbe8" fill-opacity="0.62" stroke="#46505e" stroke-opacity="0.82" stroke-width="0.9"/>
<circle cx="409.3" cy="405.2" r="2.2" fill="#9d7660" fill-opacity="0.62" stroke="#46505e" stroke-opacity="0.82" stroke-width="0.9"/>
<circle cx="361.3" cy="348.4" r="2.8" fill="#4e79a7" fill-opacity="0.57" stroke="#46505e" stroke-opacity="0.82" stroke-width="0.9"/>
<circle cx="368.0" cy="376.4" r="2.5" fill="#e8923c" fill-opacity="0.5" stroke="#46505e" stroke-opacity="0.82" stroke-width="0.9"/>
<circle cx="358.1" cy="393.9" r="2.9" fill="#a0cbe8" fill-opacity="0.62" stroke="#46505e" stroke-opacity="0.82" stroke-width="0.9"/>
<circle cx="372.6" cy="370.4" r="3.1" fill="#a0cbe8" fill-opacity="0.62" stroke="#46505e" stroke-opacity="0.82" stroke-width="0.9"/>
<circle cx="368.6" cy="406.5" r="1.9" fill="#e8923c" fill-opacity="0.5" stroke="#46505e" stroke-opacity="0.82" stroke-width="0.9"/>
<circle cx="402.0" cy="401.0" r="2.0" fill="#e8923c" fill-opacity="0.5" stroke="#46505e" stroke-opacity="0.82" stroke-width="0.9"/>
<circle cx="375.2" cy="390.8" r="2.6" fill="#a0cbe8" fill-opacity="0.62" stroke="#46505e" stroke-opacity="0.82" stroke-width="0.9"/>
<circle cx="409.2" cy="404.0" r="1.8" fill="#e8923c" fill-opacity="0.5" stroke="#46505e" stroke-opacity="0.82" stroke-width="0.9"/>
<circle cx="354.8" cy="404.1" r="3.2" fill="#4e79a7" fill-opacity="0.57" stroke="#46505e" stroke-opacity="0.82" stroke-width="0.9"/>
<circle cx="387.6" cy="399.7" r="2.0" fill="#9d7660" fill-opacity="0.62" stroke="#46505e" stroke-opacity="0.82" stroke-width="0.9"/>
<circle cx="359.9" cy="373.5" r="2.9" fill="#a0cbe8" fill-opacity="0.62" stroke="#46505e" stroke-opacity="0.82" stroke-width="0.9"/>
<circle cx="347.2" cy="406.5" r="3.0" fill="#4e79a7" fill-opacity="0.57" stroke="#46505e" stroke-opacity="0.82" stroke-width="0.9"/>
<circle cx="354.9" cy="397.5" r="2.4" fill="#4e79a7" fill-opacity="0.57" stroke="#46505e" stroke-opacity="0.82" stroke-width="0.9"/>
<circle cx="437.1" cy="393.8" r="1.9" fill="#59a14f" fill-opacity="0.65" stroke="#46505e" stroke-opacity="0.82" stroke-width="0.9"/>
<circle cx="355.2" cy="404.3" r="1.8" fill="#9d7660" fill-opacity="0.62" stroke="#46505e" stroke-opacity="0.82" stroke-width="0.9"/>
<circle cx="368.9" cy="401.3" r="2.1" fill="#e8923c" fill-opacity="0.5" stroke="#46505e" stroke-opacity="0.82" stroke-width="0.9"/>
<circle cx="362.2" cy="369.4" r="3.1" fill="#a0cbe8" fill-opacity="0.62" stroke="#46505e" stroke-opacity="0.82" stroke-width="0.9"/>
<circle cx="422.0" cy="387.0" r="1.9" fill="#e9dcc0" fill-opacity="0.5" stroke="#46505e" stroke-opacity="0.82" stroke-width="0.9"/>
<circle cx="346.9" cy="378.6" r="2.7" fill="#4e79a7" fill-opacity="0.57" stroke="#46505e" stroke-opacity="0.82" stroke-width="0.9"/>
<circle cx="387.2" cy="386.6" r="2.3" fill="#8cd17d" fill-opacity="0.65" stroke="#46505e" stroke-opacity="0.82" stroke-width="0.9"/>
<circle cx="365.9" cy="401.7" r="2.1" fill="#9d7660" fill-opacity="0.62" stroke="#46505e" stroke-opacity="0.82" stroke-width="0.9"/>
<circle cx="381.2" cy="399.0" r="2.7" fill="#e8923c" fill-opacity="0.5" stroke="#46505e" stroke-opacity="0.82" stroke-width="0.9"/>
<circle cx="371.4" cy="381.0" r="2.0" fill="#8cd17d" fill-opacity="0.65" stroke="#46505e" stroke-opacity="0.82" stroke-width="0.9"/>
<circle cx="384.6" cy="401.5" r="1.9" fill="#9d7660" fill-opacity="0.62" stroke="#46505e" stroke-opacity="0.82" stroke-width="0.9"/>
<circle cx="383.4" cy="403.0" r="2.7" fill="#e8923c" fill-opacity="0.5" stroke="#46505e" stroke-opacity="0.82" stroke-width="0.9"/>
<circle cx="413.8" cy="406.7" r="2.3" fill="#e8923c" fill-opacity="0.5" stroke="#46505e" stroke-opacity="0.82" stroke-width="0.9"/>
<circle cx="361.5" cy="391.2" r="3.4" fill="#4e79a7" fill-opacity="0.57" stroke="#46505e" stroke-opacity="0.82" stroke-width="0.9"/>
<circle cx="367.4" cy="396.7" r="2.0" fill="#9d7660" fill-opacity="0.62" stroke="#46505e" stroke-opacity="0.82" stroke-width="0.9"/>
<circle cx="407.4" cy="405.2" r="2.1" fill="#9d7660" fill-opacity="0.62" stroke="#46505e" stroke-opacity="0.82" stroke-width="0.9"/>
<circle cx="358.5" cy="394.9" r="3.3" fill="#4e79a7" fill-opacity="0.57" stroke="#46505e" stroke-opacity="0.82" stroke-width="0.9"/>
<circle cx="400.2" cy="404.7" r="2.1" fill="#9d7660" fill-opacity="0.62" stroke="#46505e" stroke-opacity="0.82" stroke-width="0.9"/>
<circle cx="352.3" cy="406.5" r="2.8" fill="#4e79a7" fill-opacity="0.57" stroke="#46505e" stroke-opacity="0.82" stroke-width="0.9"/>
<circle cx="350.2" cy="388.2" r="2.9" fill="#4e79a7" fill-opacity="0.57" stroke="#46505e" stroke-opacity="0.82" stroke-width="0.9"/>
<circle cx="386.8" cy="402.1" r="1.9" fill="#f7c28f" fill-opacity="0.55" stroke="#46505e" stroke-opacity="0.82" stroke-width="0.9"/>
<circle cx="375.5" cy="394.6" r="1.9" fill="#f7c28f" fill-opacity="0.55" stroke="#46505e" stroke-opacity="0.82" stroke-width="0.9"/>
<circle cx="366.1" cy="387.0" r="3.1" fill="#a0cbe8" fill-opacity="0.62" stroke="#46505e" stroke-opacity="0.82" stroke-width="0.9"/>
<circle cx="357.1" cy="387.6" r="3.1" fill="#4e79a7" fill-opacity="0.57" stroke="#46505e" stroke-opacity="0.82" stroke-width="0.9"/>
<circle cx="424.4" cy="403.3" r="2.2" fill="#f7c28f" fill-opacity="0.55" stroke="#46505e" stroke-opacity="0.82" stroke-width="0.9"/>
<circle cx="388.1" cy="380.5" r="2.2" fill="#e8923c" fill-opacity="0.5" stroke="#46505e" stroke-opacity="0.82" stroke-width="0.9"/>
<circle cx="386.7" cy="366.4" r="3.2" fill="#a0cbe8" fill-opacity="0.62" stroke="#46505e" stroke-opacity="0.82" stroke-width="0.9"/>
<circle cx="383.9" cy="390.5" r="2.0" fill="#e8923c" fill-opacity="0.5" stroke="#46505e" stroke-opacity="0.82" stroke-width="0.9"/>
<circle cx="383.2" cy="404.5" r="1.8" fill="#e8923c" fill-opacity="0.5" stroke="#46505e" stroke-opacity="0.82" stroke-width="0.9"/>
<circle cx="370.6" cy="386.9" r="3.0" fill="#4e79a7" fill-opacity="0.57" stroke="#46505e" stroke-opacity="0.82" stroke-width="0.9"/>
<circle cx="388.1" cy="387.7" r="2.4" fill="#e8923c" fill-opacity="0.5" stroke="#46505e" stroke-opacity="0.82" stroke-width="0.9"/>
<circle cx="348.2" cy="379.4" r="2.9" fill="#4e79a7" fill-opacity="0.57" stroke="#46505e" stroke-opacity="0.82" stroke-width="0.9"/>
<circle cx="391.4" cy="395.8" r="2.2" fill="#e8923c" fill-opacity="0.5" stroke="#46505e" stroke-opacity="0.82" stroke-width="0.9"/>
<circle cx="348.4" cy="369.8" r="3.3" fill="#4e79a7" fill-opacity="0.57" stroke="#46505e" stroke-opacity="0.82" stroke-width="0.9"/>
<circle cx="416.8" cy="401.4" r="2.1" fill="#e8923c" fill-opacity="0.5" stroke="#46505e" stroke-opacity="0.82" stroke-width="0.9"/>
<circle cx="372.2" cy="368.9" r="3.3" fill="#a0cbe8" fill-opacity="0.62" stroke="#46505e" stroke-opacity="0.82" stroke-width="0.9"/>
<circle cx="382.0" cy="405.7" r="2.3" fill="#9d7660" fill-opacity="0.62" stroke="#46505e" stroke-opacity="0.82" stroke-width="0.9"/>
<circle cx="380.8" cy="380.8" r="2.1" fill="#e8923c" fill-opacity="0.5" stroke="#46505e" stroke-opacity="0.82" stroke-width="0.9"/>
<circle cx="402.2" cy="385.5" r="2.2" fill="#e9dcc0" fill-opacity="0.5" stroke="#46505e" stroke-opacity="0.82" stroke-width="0.9"/>
<circle cx="348.1" cy="384.5" r="2.5" fill="#4e79a7" fill-opacity="0.57" stroke="#46505e" stroke-opacity="0.82" stroke-width="0.9"/>
<circle cx="364.2" cy="358.5" r="2.6" fill="#4e79a7" fill-opacity="0.57" stroke="#46505e" stroke-opacity="0.82" stroke-width="0.9"/>
<circle cx="385.7" cy="358.7" r="3.0" fill="#a0cbe8" fill-opacity="0.62" stroke="#46505e" stroke-opacity="0.82" stroke-width="0.9"/>
<circle cx="347.4" cy="361.0" r="3.1" fill="#4e79a7" fill-opacity="0.57" stroke="#46505e" stroke-opacity="0.82" stroke-width="0.9"/>
<circle cx="350.0" cy="352.7" r="2.6" fill="#4e79a7" fill-opacity="0.57" stroke="#46505e" stroke-opacity="0.82" stroke-width="0.9"/>
<circle cx="408.4" cy="399.6" r="1.9" fill="#9d7660" fill-opacity="0.62" stroke="#46505e" stroke-opacity="0.82" stroke-width="0.9"/>
<circle cx="349.3" cy="370.7" r="2.9" fill="#4e79a7" fill-opacity="0.57" stroke="#46505e" stroke-opacity="0.82" stroke-width="0.9"/>
<circle cx="369.5" cy="380.0" r="2.6" fill="#a0cbe8" fill-opacity="0.62" stroke="#46505e" stroke-opacity="0.82" stroke-width="0.9"/>
<circle cx="348.6" cy="371.8" r="3.3" fill="#4e79a7" fill-opacity="0.57" stroke="#46505e" stroke-opacity="0.82" stroke-width="0.9"/>
<circle cx="383.5" cy="365.1" r="2.9" fill="#a0cbe8" fill-opacity="0.62" stroke="#46505e" stroke-opacity="0.82" stroke-width="0.9"/>
<circle cx="372.1" cy="352.7" r="3.3" fill="#a0cbe8" fill-opacity="0.62" stroke="#46505e" stroke-opacity="0.82" stroke-width="0.9"/>
<circle cx="368.1" cy="395.1" r="2.4" fill="#9d7660" fill-opacity="0.62" stroke="#46505e" stroke-opacity="0.82" stroke-width="0.9"/>
<circle cx="387.0" cy="389.4" r="2.7" fill="#e8923c" fill-opacity="0.5" stroke="#46505e" stroke-opacity="0.82" stroke-width="0.9"/>
<circle cx="348.4" cy="379.6" r="3.4" fill="#4e79a7" fill-opacity="0.57" stroke="#46505e" stroke-opacity="0.82" stroke-width="0.9"/>
<circle cx="391.7" cy="402.4" r="1.9" fill="#9d7660" fill-opacity="0.62" stroke="#46505e" stroke-opacity="0.82" stroke-width="0.9"/>
<circle cx="354.2" cy="368.3" r="3.2" fill="#4e79a7" fill-opacity="0.57" stroke="#46505e" stroke-opacity="0.82" stroke-width="0.9"/>
<circle cx="356.3" cy="381.1" r="2.8" fill="#4e79a7" fill-opacity="0.57" stroke="#46505e" stroke-opacity="0.82" stroke-width="0.9"/>
<circle cx="352.6" cy="398.7" r="3.3" fill="#4e79a7" fill-opacity="0.57" stroke="#46505e" stroke-opacity="0.82" stroke-width="0.9"/>
<circle cx="361.6" cy="373.7" r="2.7" fill="#a0cbe8" fill-opacity="0.62" stroke="#46505e" stroke-opacity="0.82" stroke-width="0.9"/>
<circle cx="377.4" cy="396.3" r="2.6" fill="#e8923c" fill-opacity="0.5" stroke="#46505e" stroke-opacity="0.82" stroke-width="0.9"/>
<circle cx="373.2" cy="380.3" r="2.3" fill="#f7c28f" fill-opacity="0.55" stroke="#46505e" stroke-opacity="0.82" stroke-width="0.9"/>
<circle cx="356.6" cy="381.2" r="2.5" fill="#4e79a7" fill-opacity="0.57" stroke="#46505e" stroke-opacity="0.82" stroke-width="0.9"/>
<circle cx="347.8" cy="360.8" r="2.8" fill="#4e79a7" fill-opacity="0.57" stroke="#46505e" stroke-opacity="0.82" stroke-width="0.9"/>
<circle cx="369.4" cy="375.4" r="3.2" fill="#a0cbe8" fill-opacity="0.62" stroke="#46505e" stroke-opacity="0.82" stroke-width="0.9"/>
<circle cx="386.7" cy="406.6" r="2.5" fill="#9d7660" fill-opacity="0.62" stroke="#46505e" stroke-opacity="0.82" stroke-width="0.9"/>
<circle cx="349.9" cy="394.1" r="3.1" fill="#4e79a7" fill-opacity="0.57" stroke="#46505e" stroke-opacity="0.82" stroke-width="0.9"/>
<circle cx="349.3" cy="377.2" r="2.4" fill="#4e79a7" fill-opacity="0.57" stroke="#46505e" stroke-opacity="0.82" stroke-width="0.9"/>
<circle cx="405.2" cy="403.7" r="2.6" fill="#e8923c" fill-opacity="0.5" stroke="#46505e" stroke-opacity="0.82" stroke-width="0.9"/>
<circle cx="359.7" cy="379.3" r="2.8" fill="#a0cbe8" fill-opacity="0.62" stroke="#46505e" stroke-opacity="0.82" stroke-width="0.9"/>
<circle cx="348.8" cy="382.9" r="3.0" fill="#4e79a7" fill-opacity="0.57" stroke="#46505e" stroke-opacity="0.82" stroke-width="0.9"/>
<circle cx="347.2" cy="404.9" r="2.8" fill="#4e79a7" fill-opacity="0.57" stroke="#46505e" stroke-opacity="0.82" stroke-width="0.9"/>
<circle cx="363.2" cy="374.5" r="3.2" fill="#a0cbe8" fill-opacity="0.62" stroke="#46505e" stroke-opacity="0.82" stroke-width="0.9"/>
<circle cx="399.1" cy="402.4" r="1.8" fill="#9d7660" fill-opacity="0.62" stroke="#46505e" stroke-opacity="0.82" stroke-width="0.9"/>
<circle cx="368.4" cy="378.9" r="3.0" fill="#a0cbe8" fill-opacity="0.62" stroke="#46505e" stroke-opacity="0.82" stroke-width="0.9"/>
<circle cx="415.0" cy="397.8" r="2.2" fill="#e9dcc0" fill-opacity="0.5" stroke="#46505e" stroke-opacity="0.82" stroke-width="0.9"/>
<circle cx="356.8" cy="391.1" r="2.3" fill="#4e79a7" fill-opacity="0.57" stroke="#46505e" stroke-opacity="0.82" stroke-width="0.9"/>
<circle cx="350.9" cy="395.4" r="2.3" fill="#4e79a7" fill-opacity="0.57" stroke="#46505e" stroke-opacity="0.82" stroke-width="0.9"/>
<circle cx="413.2" cy="396.1" r="2.0" fill="#9d7660" fill-opacity="0.62" stroke="#46505e" stroke-opacity="0.82" stroke-width="0.9"/>
<circle cx="347.5" cy="391.9" r="2.9" fill="#4e79a7" fill-opacity="0.57" stroke="#46505e" stroke-opacity="0.82" stroke-width="0.9"/>
<circle cx="352.0" cy="391.8" r="3.3" fill="#4e79a7" fill-opacity="0.57" stroke="#46505e" stroke-opacity="0.82" stroke-width="0.9"/>
<circle cx="391.1" cy="392.9" r="2.2" fill="#f7c28f" fill-opacity="0.55" stroke="#46505e" stroke-opacity="0.82" stroke-width="0.9"/>
<circle cx="419.6" cy="399.9" r="2.3" fill="#f7c28f" fill-opacity="0.55" stroke="#46505e" stroke-opacity="0.82" stroke-width="0.9"/>
<circle cx="377.8" cy="380.8" r="2.5" fill="#f7c28f" fill-opacity="0.55" stroke="#46505e" stroke-opacity="0.82" stroke-width="0.9"/>
<circle cx="365.6" cy="377.6" r="3.4" fill="#4e79a7" fill-opacity="0.57" stroke="#46505e" stroke-opacity="0.82" stroke-width="0.9"/>
<circle cx="349.2" cy="362.4" r="2.6" fill="#4e79a7" fill-opacity="0.57" stroke="#46505e" stroke-opacity="0.82" stroke-width="0.9"/>
<circle cx="421.1" cy="392.8" r="1.9" fill="#e9dcc0" fill-opacity="0.5" stroke="#46505e" stroke-opacity="0.82" stroke-width="0.9"/>
<circle cx="399.8" cy="396.3" r="2.1" fill="#e8923c" fill-opacity="0.5" stroke="#46505e" stroke-opacity="0.82" stroke-width="0.9"/>
<circle cx="379.8" cy="383.3" r="2.5" fill="#a0cbe8" fill-opacity="0.62" stroke="#46505e" stroke-opacity="0.82" stroke-width="0.9"/>
<circle cx="382.3" cy="390.7" r="2.6" fill="#e8923c" fill-opacity="0.5" stroke="#46505e" stroke-opacity="0.82" stroke-width="0.9"/>
<circle cx="347.2" cy="374.1" r="3.3" fill="#4e79a7" fill-opacity="0.57" stroke="#46505e" stroke-opacity="0.82" stroke-width="0.9"/>
<circle cx="347.9" cy="389.4" r="2.5" fill="#4e79a7" fill-opacity="0.57" stroke="#46505e" stroke-opacity="0.82" stroke-width="0.9"/>
<circle cx="384.1" cy="350.8" r="2.5" fill="#a0cbe8" fill-opacity="0.62" stroke="#46505e" stroke-opacity="0.82" stroke-width="0.9"/>
<circle cx="381.6" cy="398.8" r="2.1" fill="#9d7660" fill-opacity="0.62" stroke="#46505e" stroke-opacity="0.82" stroke-width="0.9"/>
<circle cx="373.7" cy="383.3" r="2.0" fill="#f7c28f" fill-opacity="0.55" stroke="#46505e" stroke-opacity="0.82" stroke-width="0.9"/>
<circle cx="403.2" cy="389.2" r="2.6" fill="#e8923c" fill-opacity="0.5" stroke="#46505e" stroke-opacity="0.82" stroke-width="0.9"/>
<circle cx="347.0" cy="400.2" r="3.4" fill="#4e79a7" fill-opacity="0.57" stroke="#46505e" stroke-opacity="0.82" stroke-width="0.9"/>
<circle cx="349.0" cy="372.6" r="2.4" fill="#4e79a7" fill-opacity="0.57" stroke="#46505e" stroke-opacity="0.82" stroke-width="0.9"/>
<circle cx="350.5" cy="381.0" r="2.3" fill="#4e79a7" fill-opacity="0.57" stroke="#46505e" stroke-opacity="0.82" stroke-width="0.9"/>
<circle cx="367.9" cy="357.9" r="3.2" fill="#4e79a7" fill-opacity="0.57" stroke="#46505e" stroke-opacity="0.82" stroke-width="0.9"/>
<circle cx="364.6" cy="362.2" r="2.7" fill="#4e79a7" fill-opacity="0.57" stroke="#46505e" stroke-opacity="0.82" stroke-width="0.9"/>
<circle cx="364.7" cy="351.6" r="2.3" fill="#a0cbe8" fill-opacity="0.62" stroke="#46505e" stroke-opacity="0.82" stroke-width="0.9"/>
<circle cx="412.2" cy="399.3" r="2.0" fill="#e8923c" fill-opacity="0.5" stroke="#46505e" stroke-opacity="0.82" stroke-width="0.9"/>
<circle cx="349.8" cy="374.8" r="3.4" fill="#4e79a7" fill-opacity="0.57" stroke="#46505e" stroke-opacity="0.82" stroke-width="0.9"/>
<circle cx="369.0" cy="385.3" r="2.5" fill="#a0cbe8" fill-opacity="0.62" stroke="#46505e" stroke-opacity="0.82" stroke-width="0.9"/>
<circle cx="355.8" cy="375.2" r="3.5" fill="#4e79a7" fill-opacity="0.57" stroke="#46505e" stroke-opacity="0.82" stroke-width="0.9"/>
<circle cx="355.2" cy="372.8" r="2.9" fill="#4e79a7" fill-opacity="0.57" stroke="#46505e" stroke-opacity="0.82" stroke-width="0.9"/>
<circle cx="367.5" cy="387.5" r="2.6" fill="#a0cbe8" fill-opacity="0.62" stroke="#46505e" stroke-opacity="0.82" stroke-width="0.9"/>
<circle cx="376.2" cy="395.9" r="2.1" fill="#9d7660" fill-opacity="0.62" stroke="#46505e" stroke-opacity="0.82" stroke-width="0.9"/>
<circle cx="348.4" cy="364.8" r="3.3" fill="#4e79a7" fill-opacity="0.57" stroke="#46505e" stroke-opacity="0.82" stroke-width="0.9"/>
<circle cx="375.0" cy="382.7" r="3.4" fill="#a0cbe8" fill-opacity="0.62" stroke="#46505e" stroke-opacity="0.82" stroke-width="0.9"/>
<circle cx="371.8" cy="399.8" r="3.3" fill="#4e79a7" fill-opacity="0.57" stroke="#46505e" stroke-opacity="0.82" stroke-width="0.9"/>
<circle cx="417.2" cy="402.4" r="2.2" fill="#f7c28f" fill-opacity="0.55" stroke="#46505e" stroke-opacity="0.82" stroke-width="0.9"/>
<circle cx="405.1" cy="406.0" r="2.3" fill="#e9dcc0" fill-opacity="0.5" stroke="#46505e" stroke-opacity="0.82" stroke-width="0.9"/>
<circle cx="358.4" cy="359.7" r="3.0" fill="#4e79a7" fill-opacity="0.57" stroke="#46505e" stroke-opacity="0.82" stroke-width="0.9"/>
<circle cx="396.7" cy="399.2" r="2.0" fill="#9d7660" fill-opacity="0.62" stroke="#46505e" stroke-opacity="0.82" stroke-width="0.9"/>
<circle cx="351.5" cy="369.4" r="2.7" fill="#4e79a7" fill-opacity="0.57" stroke="#46505e" stroke-opacity="0.82" stroke-width="0.9"/>
<circle cx="348.1" cy="407.2" r="2.8" fill="#4e79a7" fill-opacity="0.57" stroke="#46505e" stroke-opacity="0.82" stroke-width="0.9"/>
<circle cx="377.5" cy="399.9" r="2.1" fill="#9d7660" fill-opacity="0.62" stroke="#46505e" stroke-opacity="0.82" stroke-width="0.9"/>
<circle cx="397.3" cy="400.0" r="2.7" fill="#e8923c" fill-opacity="0.5" stroke="#46505e" stroke-opacity="0.82" stroke-width="0.9"/>
<circle cx="414.7" cy="405.7" r="2.0" fill="#9d7660" fill-opacity="0.62" stroke="#46505e" stroke-opacity="0.82" stroke-width="0.9"/>
<circle cx="348.9" cy="388.6" r="3.4" fill="#4e79a7" fill-opacity="0.57" stroke="#46505e" stroke-opacity="0.82" stroke-width="0.9"/>
<circle cx="376.0" cy="390.8" r="2.8" fill="#a0cbe8" fill-opacity="0.62" stroke="#46505e" stroke-opacity="0.82" stroke-width="0.9"/>
<circle cx="364.6" cy="346.5" r="2.9" fill="#4e79a7" fill-opacity="0.57" stroke="#46505e" stroke-opacity="0.82" stroke-width="0.9"/>
<circle cx="353.8" cy="407.5" r="3.0" fill="#4e79a7" fill-opacity="0.57" stroke="#46505e" stroke-opacity="0.82" stroke-width="0.9"/>
<circle cx="382.0" cy="351.2" r="2.5" fill="#a0cbe8" fill-opacity="0.62" stroke="#46505e" stroke-opacity="0.82" stroke-width="0.9"/>
<circle cx="432.3" cy="400.4" r="1.9" fill="#59a14f" fill-opacity="0.65" stroke="#46505e" stroke-opacity="0.82" stroke-width="0.9"/>
<circle cx="347.2" cy="382.6" r="3.0" fill="#4e79a7" fill-opacity="0.57" stroke="#46505e" stroke-opacity="0.82" stroke-width="0.9"/>
<circle cx="346.9" cy="367.0" r="3.3" fill="#4e79a7" fill-opacity="0.57" stroke="#46505e" stroke-opacity="0.82" stroke-width="0.9"/>
<circle cx="402.2" cy="404.1" r="2.1" fill="#e9dcc0" fill-opacity="0.5" stroke="#46505e" stroke-opacity="0.82" stroke-width="0.9"/>
<circle cx="347.0" cy="386.9" r="2.9" fill="#4e79a7" fill-opacity="0.57" stroke="#46505e" stroke-opacity="0.82" stroke-width="0.9"/>
<circle cx="349.0" cy="375.7" r="3.3" fill="#4e79a7" fill-opacity="0.57" stroke="#46505e" stroke-opacity="0.82" stroke-width="0.9"/>
<circle cx="362.2" cy="391.3" r="2.5" fill="#4e79a7" fill-opacity="0.57" stroke="#46505e" stroke-opacity="0.82" stroke-width="0.9"/>
<circle cx="420.2" cy="400.7" r="1.8" fill="#e9dcc0" fill-opacity="0.5" stroke="#46505e" stroke-opacity="0.82" stroke-width="0.9"/>
<circle cx="374.0" cy="387.5" r="2.8" fill="#4e79a7" fill-opacity="0.57" stroke="#46505e" stroke-opacity="0.82" stroke-width="0.9"/>
<circle cx="419.7" cy="403.1" r="2.0" fill="#9d7660" fill-opacity="0.62" stroke="#46505e" stroke-opacity="0.82" stroke-width="0.9"/>
<circle cx="389.5" cy="407.0" r="1.9" fill="#9d7660" fill-opacity="0.62" stroke="#46505e" stroke-opacity="0.82" stroke-width="0.9"/>
<circle cx="406.3" cy="402.2" r="1.9" fill="#e9dcc0" fill-opacity="0.5" stroke="#46505e" stroke-opacity="0.82" stroke-width="0.9"/>
<circle cx="377.7" cy="394.9" r="1.9" fill="#f7c28f" fill-opacity="0.55" stroke="#46505e" stroke-opacity="0.82" stroke-width="0.9"/>
<circle cx="397.6" cy="378.6" r="2.0" fill="#f7c28f" fill-opacity="0.55" stroke="#46505e" stroke-opacity="0.82" stroke-width="0.9"/>
<circle cx="366.3" cy="380.1" r="2.6" fill="#4e79a7" fill-opacity="0.57" stroke="#46505e" stroke-opacity="0.82" stroke-width="0.9"/>
<circle cx="382.0" cy="395.7" r="2.5" fill="#9d7660" fill-opacity="0.62" stroke="#46505e" stroke-opacity="0.82" stroke-width="0.9"/>
<circle cx="347.0" cy="385.9" r="2.9" fill="#4e79a7" fill-opacity="0.57" stroke="#46505e" stroke-opacity="0.82" stroke-width="0.9"/>
<circle cx="357.8" cy="325.8" r="3.8" fill="#4e79a7" fill-opacity="0.57" stroke="#46505e" stroke-opacity="0.82" stroke-width="0.9"/>
<circle cx="364.4" cy="327.4" r="3.7" fill="#4e79a7" fill-opacity="0.57" stroke="#46505e" stroke-opacity="0.82" stroke-width="0.9"/>
<circle cx="367.8" cy="329.7" r="3.7" fill="#4e79a7" fill-opacity="0.57" stroke="#46505e" stroke-opacity="0.82" stroke-width="0.9"/>
<circle cx="373.3" cy="327.4" r="3.6" fill="#4e79a7" fill-opacity="0.57" stroke="#46505e" stroke-opacity="0.82" stroke-width="0.9"/>
<circle cx="352.8" cy="331.3" r="3.7" fill="#4e79a7" fill-opacity="0.57" stroke="#46505e" stroke-opacity="0.82" stroke-width="0.9"/>
<circle cx="359.4" cy="330.8" r="3.6" fill="#4e79a7" fill-opacity="0.57" stroke="#46505e" stroke-opacity="0.82" stroke-width="0.9"/>
<circle cx="354.4" cy="336.9" r="3.6" fill="#4e79a7" fill-opacity="0.57" stroke="#46505e" stroke-opacity="0.82" stroke-width="0.9"/>
<circle cx="367.2" cy="335.8" r="3.6" fill="#4e79a7" fill-opacity="0.57" stroke="#46505e" stroke-opacity="0.82" stroke-width="0.9"/>
<circle cx="367.8" cy="338.6" r="3.5" fill="#4e79a7" fill-opacity="0.57" stroke="#46505e" stroke-opacity="0.82" stroke-width="0.9"/>
<circle cx="352.2" cy="342.4" r="3.6" fill="#4e79a7" fill-opacity="0.57" stroke="#46505e" stroke-opacity="0.82" stroke-width="0.9"/>
<circle cx="363.3" cy="340.8" r="3.5" fill="#4e79a7" fill-opacity="0.57" stroke="#46505e" stroke-opacity="0.82" stroke-width="0.9"/>
<circle cx="360.6" cy="344.7" r="3.5" fill="#4e79a7" fill-opacity="0.57" stroke="#46505e" stroke-opacity="0.82" stroke-width="0.9"/>
<circle cx="351.1" cy="346.9" r="3.5" fill="#4e79a7" fill-opacity="0.57" stroke="#46505e" stroke-opacity="0.82" stroke-width="0.9"/>
<circle cx="376.7" cy="336.3" r="3.5" fill="#5f7896" fill-opacity="0.8" stroke="#46505e" stroke-opacity="0.82" stroke-width="0.9"/>
<circle cx="384.4" cy="335.2" r="3.6" fill="#a0cbe8" fill-opacity="0.62" stroke="#46505e" stroke-opacity="0.82" stroke-width="0.9"/>
<circle cx="383.9" cy="339.1" r="3.5" fill="#a0cbe8" fill-opacity="0.62" stroke="#46505e" stroke-opacity="0.82" stroke-width="0.9"/>
<circle cx="388.9" cy="338.6" r="3.5" fill="#a0cbe8" fill-opacity="0.62" stroke="#46505e" stroke-opacity="0.82" stroke-width="0.9"/>
<circle cx="394.4" cy="335.8" r="3.5" fill="#a0cbe8" fill-opacity="0.62" stroke="#46505e" stroke-opacity="0.82" stroke-width="0.9"/>
<circle cx="397.8" cy="338.0" r="3.5" fill="#a0cbe8" fill-opacity="0.62" stroke="#46505e" stroke-opacity="0.82" stroke-width="0.9"/>
<circle cx="403.9" cy="337.4" r="3.1" fill="#f28e2b" fill-opacity="0.58" stroke="#46505e" stroke-opacity="0.82" stroke-width="0.9"/>
<circle cx="408.9" cy="337.4" r="3.4" fill="#a0cbe8" fill-opacity="0.62" stroke="#46505e" stroke-opacity="0.82" stroke-width="0.9"/>
<circle cx="401.1" cy="343.6" r="3.4" fill="#a0cbe8" fill-opacity="0.62" stroke="#46505e" stroke-opacity="0.82" stroke-width="0.9"/>
<circle cx="405.0" cy="331.3" r="3.4" fill="#a0cbe8" fill-opacity="0.62" stroke="#46505e" stroke-opacity="0.82" stroke-width="0.9"/>
<circle cx="404.4" cy="326.9" r="3.4" fill="#a0cbe8" fill-opacity="0.62" stroke="#46505e" stroke-opacity="0.82" stroke-width="0.9"/>
<circle cx="406.7" cy="321.3" r="3.4" fill="#a0cbe8" fill-opacity="0.62" stroke="#46505e" stroke-opacity="0.82" stroke-width="0.9"/>
<circle cx="385.0" cy="320.2" r="3.8" fill="#4e79a7" fill-opacity="0.57" stroke="#46505e" stroke-opacity="0.82" stroke-width="0.9"/>
<circle cx="373.3" cy="318.6" r="3.6" fill="#4e79a7" fill-opacity="0.57" stroke="#46505e" stroke-opacity="0.82" stroke-width="0.9"/>
<circle cx="364.4" cy="319.7" r="3.5" fill="#a0cbe8" fill-opacity="0.62" stroke="#46505e" stroke-opacity="0.82" stroke-width="0.9"/>
<circle cx="390.6" cy="344.7" r="3.4" fill="#a0cbe8" fill-opacity="0.62" stroke="#46505e" stroke-opacity="0.82" stroke-width="0.9"/>
<circle cx="391.7" cy="349.1" r="3.4" fill="#a0cbe8" fill-opacity="0.62" stroke="#46505e" stroke-opacity="0.82" stroke-width="0.9"/>
<circle cx="386.7" cy="349.7" r="3.4" fill="#a0cbe8" fill-opacity="0.62" stroke="#46505e" stroke-opacity="0.82" stroke-width="0.9"/>
<circle cx="382.2" cy="350.2" r="3.4" fill="#a0cbe8" fill-opacity="0.62" stroke="#46505e" stroke-opacity="0.82" stroke-width="0.9"/>
<circle cx="375.0" cy="344.1" r="3.5" fill="#4e79a7" fill-opacity="0.57" stroke="#46505e" stroke-opacity="0.82" stroke-width="0.9"/>
<circle cx="386.1" cy="354.1" r="3.3" fill="#a0cbe8" fill-opacity="0.62" stroke="#46505e" stroke-opacity="0.82" stroke-width="0.9"/>
<circle cx="378.3" cy="359.1" r="3.2" fill="#a0cbe8" fill-opacity="0.62" stroke="#46505e" stroke-opacity="0.82" stroke-width="0.9"/>
<circle cx="386.1" cy="358.6" r="3.2" fill="#a0cbe8" fill-opacity="0.62" stroke="#46505e" stroke-opacity="0.82" stroke-width="0.9"/>
<circle cx="374.4" cy="352.4" r="3.3" fill="#a0cbe8" fill-opacity="0.62" stroke="#46505e" stroke-opacity="0.82" stroke-width="0.9"/>
<circle cx="371.7" cy="349.1" r="3.4" fill="#4e79a7" fill-opacity="0.57" stroke="#46505e" stroke-opacity="0.82" stroke-width="0.9"/>
<circle cx="391.7" cy="362.4" r="3.2" fill="#a0cbe8" fill-opacity="0.62" stroke="#46505e" stroke-opacity="0.82" stroke-width="0.9"/>
<circle cx="401.4" cy="367.9" r="3.2" fill="#59a14f" fill-opacity="0.65" stroke="#46505e" stroke-opacity="0.82" stroke-width="0.9"/>
<circle cx="410.2" cy="372.1" r="3.0" fill="#59a14f" fill-opacity="0.65" stroke="#46505e" stroke-opacity="0.82" stroke-width="0.9"/>
<circle cx="454.1" cy="378.3" r="2.7" fill="#ffbe7d" fill-opacity="0.7" stroke="#46505e" stroke-opacity="0.82" stroke-width="0.9"/>
<circle cx="454.1" cy="381.3" r="2.7" fill="#ffbe7d" fill-opacity="0.7" stroke="#46505e" stroke-opacity="0.82" stroke-width="0.9"/>
<circle cx="453.3" cy="385.3" r="2.6" fill="#ffbe7d" fill-opacity="0.7" stroke="#46505e" stroke-opacity="0.82" stroke-width="0.9"/>
<circle cx="423.7" cy="380.6" r="2.8" fill="#bab0ac" fill-opacity="0.6" stroke="#46505e" stroke-opacity="0.82" stroke-width="0.9"/>
<circle cx="433.8" cy="383.2" r="2.5" fill="#f28e2b" fill-opacity="0.58" stroke="#46505e" stroke-opacity="0.82" stroke-width="0.9"/>
<circle cx="433.8" cy="386.2" r="2.5" fill="#9d7660" fill-opacity="0.62" stroke="#46505e" stroke-opacity="0.82" stroke-width="0.9"/>
<circle cx="440.9" cy="383.1" r="2.3" fill="#59a14f" fill-opacity="0.65" stroke="#46505e" stroke-opacity="0.82" stroke-width="0.9"/>
<circle cx="445.7" cy="383.1" r="2.3" fill="#e9dcc0" fill-opacity="0.5" stroke="#46505e" stroke-opacity="0.82" stroke-width="0.9"/>
<circle cx="460.9" cy="383.1" r="2.3" fill="#e9dcc0" fill-opacity="0.5" stroke="#46505e" stroke-opacity="0.82" stroke-width="0.9"/>
<circle cx="460.9" cy="389.4" r="2.3" fill="#8cd17d" fill-opacity="0.65" stroke="#46505e" stroke-opacity="0.82" stroke-width="0.9"/>
<circle cx="449.1" cy="389.4" r="2.3" fill="#59a14f" fill-opacity="0.65" stroke="#46505e" stroke-opacity="0.82" stroke-width="0.9"/>
<circle cx="443.1" cy="389.9" r="2.3" fill="#59a14f" fill-opacity="0.65" stroke="#46505e" stroke-opacity="0.82" stroke-width="0.9"/>
<circle cx="450.8" cy="392.5" r="2.2" fill="#59a14f" fill-opacity="0.65" stroke="#46505e" stroke-opacity="0.82" stroke-width="0.9"/>
<circle cx="454.5" cy="395.0" r="2.1" fill="#59a14f" fill-opacity="0.65" stroke="#46505e" stroke-opacity="0.82" stroke-width="0.9"/>
<circle cx="459.2" cy="394.1" r="2.1" fill="#8cd17d" fill-opacity="0.65" stroke="#46505e" stroke-opacity="0.82" stroke-width="0.9"/>
<circle cx="468.2" cy="395.0" r="2.2" fill="#9d7660" fill-opacity="0.62" stroke="#46505e" stroke-opacity="0.82" stroke-width="0.9"/>
<circle cx="425.4" cy="390.8" r="2.2" fill="#e9dcc0" fill-opacity="0.5" stroke="#46505e" stroke-opacity="0.82" stroke-width="0.9"/>
<circle cx="429.1" cy="391.1" r="2.2" fill="#e9dcc0" fill-opacity="0.5" stroke="#46505e" stroke-opacity="0.82" stroke-width="0.9"/>
<circle cx="434.7" cy="391.6" r="2.2" fill="#e9dcc0" fill-opacity="0.5" stroke="#46505e" stroke-opacity="0.82" stroke-width="0.9"/>
<circle cx="438.1" cy="393.3" r="2.2" fill="#e9dcc0" fill-opacity="0.5" stroke="#46505e" stroke-opacity="0.82" stroke-width="0.9"/>
<circle cx="434.7" cy="397.5" r="2.2" fill="#8cd17d" fill-opacity="0.65" stroke="#46505e" stroke-opacity="0.82" stroke-width="0.9"/>
<circle cx="438.1" cy="399.2" r="2.2" fill="#e9dcc0" fill-opacity="0.5" stroke="#46505e" stroke-opacity="0.82" stroke-width="0.9"/>
<circle cx="442.3" cy="401.8" r="2.3" fill="#555" fill-opacity="0.7" stroke="#46505e" stroke-opacity="0.82" stroke-width="0.9"/>
<circle cx="422.8" cy="403.5" r="2.1" fill="#59a14f" fill-opacity="0.65" stroke="#46505e" stroke-opacity="0.82" stroke-width="0.9"/>
<circle cx="426.2" cy="406.0" r="2.1" fill="#e9dcc0" fill-opacity="0.5" stroke="#46505e" stroke-opacity="0.82" stroke-width="0.9"/>
<circle cx="449.1" cy="406.0" r="2.1" fill="#bab0ac" fill-opacity="0.6" stroke="#46505e" stroke-opacity="0.82" stroke-width="0.9"/>
<circle cx="453.3" cy="402.6" r="2.0" fill="#bab0ac" fill-opacity="0.6" stroke="#46505e" stroke-opacity="0.82" stroke-width="0.9"/>
<circle cx="459.6" cy="406.0" r="2.0" fill="#59a14f" fill-opacity="0.65" stroke="#46505e" stroke-opacity="0.82" stroke-width="0.9"/>
<circle cx="364.6" cy="23.1" r="7.2" fill="#4e79a7" fill-opacity="0.57" stroke="#46505e" stroke-opacity="0.82" stroke-width="0.9"/>
<circle cx="364.2" cy="145.7" r="5.6" fill="#4e79a7" fill-opacity="0.57" stroke="#46505e" stroke-opacity="0.82" stroke-width="0.9"/>
<circle cx="383.9" cy="163.0" r="5.8" fill="#4e79a7" fill-opacity="0.57" stroke="#46505e" stroke-opacity="0.82" stroke-width="0.9"/>
<circle cx="378.3" cy="172.4" r="5.3" fill="#4e79a7" fill-opacity="0.57" stroke="#46505e" stroke-opacity="0.82" stroke-width="0.9"/>
<circle cx="381.7" cy="176.5" r="5.3" fill="#4e79a7" fill-opacity="0.57" stroke="#46505e" stroke-opacity="0.82" stroke-width="0.9"/>
<circle cx="364.5" cy="191.2" r="5.5" fill="#4e79a7" fill-opacity="0.57" stroke="#46505e" stroke-opacity="0.82" stroke-width="0.9"/>
<circle cx="383.6" cy="196.5" r="5.5" fill="#d4a6c8" fill-opacity="0.6" stroke="#46505e" stroke-opacity="0.82" stroke-width="0.9"/>
<circle cx="453.0" cy="201.6" r="5.3" fill="#ff9d9a" fill-opacity="0.58" stroke="#46505e" stroke-opacity="0.82" stroke-width="0.9"/>
<circle cx="539.3" cy="180.2" r="5.6" fill="#a0cbe8" fill-opacity="0.62" stroke="#46505e" stroke-opacity="0.82" stroke-width="0.9"/>
<circle cx="370.8" cy="236.7" r="5.3" fill="#ff9d9a" fill-opacity="0.58" stroke="#46505e" stroke-opacity="0.82" stroke-width="0.9"/>
<circle cx="372.0" cy="244.9" r="5.0" fill="#4e79a7" fill-opacity="0.57" stroke="#46505e" stroke-opacity="0.82" stroke-width="0.9"/>
<circle cx="381.7" cy="249.9" r="5.0" fill="#4e79a7" fill-opacity="0.57" stroke="#46505e" stroke-opacity="0.82" stroke-width="0.9"/>
<circle cx="463.0" cy="246.8" r="4.7" fill="#a0cbe8" fill-opacity="0.62" stroke="#46505e" stroke-opacity="0.82" stroke-width="0.9"/>
<circle cx="374.5" cy="258.7" r="5.0" fill="#4e79a7" fill-opacity="0.57" stroke="#46505e" stroke-opacity="0.82" stroke-width="0.9"/>
<circle cx="374.4" cy="259.3" r="5.0" fill="#4e79a7" fill-opacity="0.57" stroke="#46505e" stroke-opacity="0.82" stroke-width="0.9"/>
<circle cx="377.7" cy="263.5" r="5.0" fill="#4e79a7" fill-opacity="0.57" stroke="#46505e" stroke-opacity="0.82" stroke-width="0.9"/>
<circle cx="367.1" cy="268.8" r="4.7" fill="#4e79a7" fill-opacity="0.57" stroke="#46505e" stroke-opacity="0.82" stroke-width="0.9"/>
<circle cx="396.1" cy="272.8" r="4.5" fill="#4e79a7" fill-opacity="0.57" stroke="#46505e" stroke-opacity="0.82" stroke-width="0.9"/>
<circle cx="366.1" cy="277.1" r="4.5" fill="#4e79a7" fill-opacity="0.57" stroke="#46505e" stroke-opacity="0.82" stroke-width="0.9"/>
<circle cx="371.0" cy="278.0" r="4.5" fill="#4e79a7" fill-opacity="0.57" stroke="#46505e" stroke-opacity="0.82" stroke-width="0.9"/>
<circle cx="375.4" cy="277.1" r="4.0" fill="#f28e2b" fill-opacity="0.58" stroke="#46505e" stroke-opacity="0.82" stroke-width="0.9"/>
<circle cx="367.1" cy="283.8" r="4.0" fill="#4e79a7" fill-opacity="0.57" stroke="#46505e" stroke-opacity="0.82" stroke-width="0.9"/>
<circle cx="372.9" cy="281.0" r="4.0" fill="#4e79a7" fill-opacity="0.57" stroke="#46505e" stroke-opacity="0.82" stroke-width="0.9"/>
<circle cx="355.1" cy="286.4" r="4.5" fill="#4e79a7" fill-opacity="0.57" stroke="#46505e" stroke-opacity="0.82" stroke-width="0.9"/>
<circle cx="352.0" cy="290.6" r="4.5" fill="#4e79a7" fill-opacity="0.57" stroke="#46505e" stroke-opacity="0.82" stroke-width="0.9"/>
<circle cx="359.3" cy="291.2" r="4.5" fill="#4e79a7" fill-opacity="0.57" stroke="#46505e" stroke-opacity="0.82" stroke-width="0.9"/>
<circle cx="364.6" cy="296.4" r="4.3" fill="#4e79a7" fill-opacity="0.57" stroke="#46505e" stroke-opacity="0.82" stroke-width="0.9"/>
<circle cx="381.2" cy="292.6" r="4.5" fill="#4e79a7" fill-opacity="0.57" stroke="#46505e" stroke-opacity="0.82" stroke-width="0.9"/>
<circle cx="393.8" cy="294.9" r="4.3" fill="#f28e2b" fill-opacity="0.58" stroke="#46505e" stroke-opacity="0.82" stroke-width="0.9"/>
<circle cx="405.2" cy="298.4" r="4.0" fill="#a0cbe8" fill-opacity="0.62" stroke="#46505e" stroke-opacity="0.82" stroke-width="0.9"/>
<circle cx="413.9" cy="298.9" r="4.5" fill="#a0cbe8" fill-opacity="0.62" stroke="#46505e" stroke-opacity="0.82" stroke-width="0.9"/>
<circle cx="439.6" cy="281.3" r="4.5" fill="#a0cbe8" fill-opacity="0.62" stroke="#46505e" stroke-opacity="0.82" stroke-width="0.9"/>
<circle cx="439.6" cy="287.7" r="4.3" fill="#a0cbe8" fill-opacity="0.62" stroke="#46505e" stroke-opacity="0.82" stroke-width="0.9"/>
<circle cx="441.0" cy="293.5" r="4.3" fill="#a0cbe8" fill-opacity="0.62" stroke="#46505e" stroke-opacity="0.82" stroke-width="0.9"/>
<circle cx="447.4" cy="298.4" r="4.5" fill="#59a14f" fill-opacity="0.65" stroke="#46505e" stroke-opacity="0.82" stroke-width="0.9"/>
<circle cx="375.4" cy="301.3" r="4.3" fill="#4e79a7" fill-opacity="0.57" stroke="#46505e" stroke-opacity="0.82" stroke-width="0.9"/>
<circle cx="368.4" cy="301.8" r="3.8" fill="#4e79a7" fill-opacity="0.57" stroke="#46505e" stroke-opacity="0.82" stroke-width="0.9"/>
<circle cx="375.8" cy="307.1" r="4.0" fill="#4e79a7" fill-opacity="0.57" stroke="#46505e" stroke-opacity="0.82" stroke-width="0.9"/>
<circle cx="378.7" cy="311.0" r="3.8" fill="#4e79a7" fill-opacity="0.57" stroke="#46505e" stroke-opacity="0.82" stroke-width="0.9"/>
<circle cx="358.4" cy="311.9" r="4.5" fill="#4e79a7" fill-opacity="0.57" stroke="#46505e" stroke-opacity="0.82" stroke-width="0.9"/>
<circle cx="366.1" cy="311.9" r="4.0" fill="#4e79a7" fill-opacity="0.57" stroke="#46505e" stroke-opacity="0.82" stroke-width="0.9"/>
<circle cx="357.4" cy="315.8" r="4.0" fill="#4e79a7" fill-opacity="0.57" stroke="#46505e" stroke-opacity="0.82" stroke-width="0.9"/>
<circle cx="373.8" cy="316.7" r="4.0" fill="#4e79a7" fill-opacity="0.57" stroke="#46505e" stroke-opacity="0.82" stroke-width="0.9"/>
<circle cx="364.2" cy="319.6" r="3.6" fill="#a0cbe8" fill-opacity="0.62" stroke="#46505e" stroke-opacity="0.82" stroke-width="0.9"/>
<circle cx="384.9" cy="319.2" r="4.0" fill="#4e79a7" fill-opacity="0.57" stroke="#46505e" stroke-opacity="0.82" stroke-width="0.9"/>
<circle cx="400.5" cy="311.5" r="3.8" fill="#a0cbe8" fill-opacity="0.62" stroke="#46505e" stroke-opacity="0.82" stroke-width="0.9"/>
<circle cx="398.6" cy="313.4" r="3.8" fill="#a0cbe8" fill-opacity="0.62" stroke="#46505e" stroke-opacity="0.82" stroke-width="0.9"/>
<circle cx="423.8" cy="310.9" r="4.0" fill="#a0cbe8" fill-opacity="0.62" stroke="#46505e" stroke-opacity="0.82" stroke-width="0.9"/>
<circle cx="406.2" cy="321.0" r="3.5" fill="#a0cbe8" fill-opacity="0.62" stroke="#46505e" stroke-opacity="0.82" stroke-width="0.9"/>
<circle cx="404.8" cy="327.4" r="3.4" fill="#a0cbe8" fill-opacity="0.62" stroke="#46505e" stroke-opacity="0.82" stroke-width="0.9"/>
<circle cx="358.8" cy="326.0" r="3.8" fill="#4e79a7" fill-opacity="0.57" stroke="#46505e" stroke-opacity="0.82" stroke-width="0.9"/>
<circle cx="365.1" cy="326.4" r="3.6" fill="#4e79a7" fill-opacity="0.57" stroke="#46505e" stroke-opacity="0.82" stroke-width="0.9"/>
<circle cx="373.3" cy="327.0" r="3.6" fill="#4e79a7" fill-opacity="0.57" stroke="#46505e" stroke-opacity="0.82" stroke-width="0.9"/>
<circle cx="354.0" cy="312.0" r="4.0" fill="#4e79a7" fill-opacity="0.57" stroke="#46505e" stroke-opacity="0.82" stroke-width="0.9"/>
<circle cx="361.0" cy="314.0" r="4.0" fill="#4e79a7" fill-opacity="0.57" stroke="#46505e" stroke-opacity="0.82" stroke-width="0.9"/>
<circle cx="370.0" cy="310.0" r="3.8" fill="#4e79a7" fill-opacity="0.57" stroke="#46505e" stroke-opacity="0.82" stroke-width="0.9"/>
<circle cx="463.5" cy="273.0" r="4.5" fill="#a0cbe8" fill-opacity="0.62" stroke="#46505e" stroke-opacity="0.82" stroke-width="0.9"/>
<circle cx="471.7" cy="281.3" r="4.3" fill="#a0cbe8" fill-opacity="0.62" stroke="#46505e" stroke-opacity="0.82" stroke-width="0.9"/>
<circle cx="473.5" cy="296.5" r="4.5" fill="#59a14f" fill-opacity="0.65" stroke="#46505e" stroke-opacity="0.82" stroke-width="0.9"/>
<circle cx="443.0" cy="338.3" r="3.5" fill="#59a14f" fill-opacity="0.65" stroke="#46505e" stroke-opacity="0.82" stroke-width="0.9"/>
<circle cx="444.3" cy="348.3" r="3.3" fill="#beb3c1" fill-opacity="0.75" stroke="#46505e" stroke-opacity="0.82" stroke-width="0.9"/>
<circle cx="457.0" cy="347.8" r="3.3" fill="#ffbe7d" fill-opacity="0.7" stroke="#46505e" stroke-opacity="0.82" stroke-width="0.9"/>
<circle cx="451.7" cy="358.3" r="2.8" fill="#59a14f" fill-opacity="0.65" stroke="#46505e" stroke-opacity="0.82" stroke-width="0.9"/>
<circle cx="454.3" cy="364.0" r="2.8" fill="#f28e2b" fill-opacity="0.58" stroke="#46505e" stroke-opacity="0.82" stroke-width="0.9"/>
<circle cx="516.5" cy="357.4" r="2.8" fill="#ffbe7d" fill-opacity="0.7" stroke="#46505e" stroke-opacity="0.82" stroke-width="0.9"/>
<circle cx="510.4" cy="370.9" r="2.6" fill="#f28e2b" fill-opacity="0.58" stroke="#46505e" stroke-opacity="0.82" stroke-width="0.9"/>
<circle cx="482.2" cy="396.5" r="2.0" fill="#ffbe7d" fill-opacity="0.7" stroke="#46505e" stroke-opacity="0.82" stroke-width="0.9"/>
<!-- right panel -->
<rect x="561.5" y="-5" width="136.3" height="56" fill="none" stroke="#e6e4db" stroke-width="1"/>
<text x="629.5" y="16.8" font-size="8.4" font-weight="700" fill="#5a5a5a" text-anchor="middle">Sent for Payment Date</text>
<text x="566.5" y="29.2" font-size="8.7" fill="#808080">All values</text>
<rect x="561.5" y="57.3" width="136.3" height="41.4" fill="none" stroke="#e6e4db" stroke-width="1"/>
<text x="629.5" y="70.6" font-size="8.1" font-weight="700" fill="#5a5a5a" text-anchor="middle">Highlight Expense Type</text>
<text x="566.5" y="83.2" font-size="9" fill="#808080">No items highlighted</text>
<rect x="562.5" y="135" width="121" height="275" fill="#fdfcf8"/>
<line x1="563" x2="683.5" y1="135.0" y2="135.0" stroke="#eeece4" stroke-width="1"/>
<text x="565.8" y="145.0" font-size="6.3" font-weight="700" fill="#5c5c5c">Proctor, Jazlynn</text>
<text x="647.4" y="145.0" font-size="6.8" fill="#8c8c8c" text-anchor="end">370</text>
<text x="681.9" y="145.0" font-size="6.8" fill="#8c8c8c" text-anchor="end">77,370</text>
<line x1="563" x2="683.5" y1="148.8" y2="148.8" stroke="#eeece4" stroke-width="1"/>
<text x="565.8" y="158.8" font-size="6.3" font-weight="700" fill="#5c5c5c">Stout, Ty</text>
<text x="647.4" y="158.8" font-size="6.8" fill="#8c8c8c" text-anchor="end">680</text>
<text x="681.9" y="158.8" font-size="6.8" fill="#8c8c8c" text-anchor="end">66,134</text>
<line x1="563" x2="683.5" y1="162.6" y2="162.6" stroke="#eeece4" stroke-width="1"/>
<text x="565.8" y="172.6" font-size="6.3" font-weight="700" fill="#5c5c5c">Berg, Aden</text>
<text x="647.4" y="172.6" font-size="6.8" fill="#8c8c8c" text-anchor="end">412</text>
<text x="681.9" y="172.6" font-size="6.8" fill="#8c8c8c" text-anchor="end">55,613</text>
<line x1="563" x2="683.5" y1="176.4" y2="176.4" stroke="#eeece4" stroke-width="1"/>
<text x="565.8" y="186.4" font-size="6.3" font-weight="700" fill="#5c5c5c">Pittman, Orlando</text>
<text x="647.4" y="186.4" font-size="6.8" fill="#8c8c8c" text-anchor="end">163</text>
<text x="681.9" y="186.4" font-size="6.8" fill="#8c8c8c" text-anchor="end">52,831</text>
<line x1="563" x2="683.5" y1="190.2" y2="190.2" stroke="#eeece4" stroke-width="1"/>
<text x="565.8" y="200.2" font-size="6.3" font-weight="700" fill="#5c5c5c">Frye, Elliana</text>
<text x="647.4" y="200.2" font-size="6.8" fill="#8c8c8c" text-anchor="end">656</text>
<text x="681.9" y="200.2" font-size="6.8" fill="#8c8c8c" text-anchor="end">51,068</text>
<line x1="563" x2="683.5" y1="203.9" y2="203.9" stroke="#eeece4" stroke-width="1"/>
<text x="565.8" y="213.9" font-size="6.3" font-weight="700" fill="#5c5c5c">Fisher, Leticia</text>
<text x="647.4" y="213.9" font-size="6.8" fill="#8c8c8c" text-anchor="end">231</text>
<text x="681.9" y="213.9" font-size="6.8" fill="#8c8c8c" text-anchor="end">47,456</text>
<line x1="563" x2="683.5" y1="217.7" y2="217.7" stroke="#eeece4" stroke-width="1"/>
<text x="565.8" y="227.7" font-size="6.3" font-weight="700" fill="#5c5c5c">Ours, Orval</text>
<text x="647.4" y="227.7" font-size="6.8" fill="#8c8c8c" text-anchor="end">751</text>
<text x="681.9" y="227.7" font-size="6.8" fill="#8c8c8c" text-anchor="end">46,589</text>
<line x1="563" x2="683.5" y1="231.5" y2="231.5" stroke="#eeece4" stroke-width="1"/>
<text x="565.8" y="241.5" font-size="6.3" font-weight="700" fill="#5c5c5c">Macdonald, Ara..</text>
<text x="647.4" y="241.5" font-size="6.8" fill="#8c8c8c" text-anchor="end">270</text>
<text x="681.9" y="241.5" font-size="6.8" fill="#8c8c8c" text-anchor="end">42,744</text>
<line x1="563" x2="683.5" y1="245.3" y2="245.3" stroke="#eeece4" stroke-width="1"/>
<text x="565.8" y="255.3" font-size="6.3" font-weight="700" fill="#5c5c5c">Wells, Kash</text>
<text x="647.4" y="255.3" font-size="6.8" fill="#8c8c8c" text-anchor="end">481</text>
<text x="681.9" y="255.3" font-size="6.8" fill="#8c8c8c" text-anchor="end">42,065</text>
<line x1="563" x2="683.5" y1="259.1" y2="259.1" stroke="#eeece4" stroke-width="1"/>
<text x="565.8" y="269.1" font-size="6.3" font-weight="700" fill="#5c5c5c">Morrow, Corinne</text>
<text x="647.4" y="269.1" font-size="6.8" fill="#8c8c8c" text-anchor="end">436</text>
<text x="681.9" y="269.1" font-size="6.8" fill="#8c8c8c" text-anchor="end">41,767</text>
<line x1="563" x2="683.5" y1="272.9" y2="272.9" stroke="#eeece4" stroke-width="1"/>
<text x="565.8" y="282.9" font-size="6.3" font-weight="700" fill="#5c5c5c">Baldwin, Cecilia</text>
<text x="647.4" y="282.9" font-size="6.8" fill="#8c8c8c" text-anchor="end">454</text>
<text x="681.9" y="282.9" font-size="6.8" fill="#8c8c8c" text-anchor="end">39,703</text>
<line x1="563" x2="683.5" y1="286.7" y2="286.7" stroke="#eeece4" stroke-width="1"/>
<text x="565.8" y="296.7" font-size="6.3" font-weight="700" fill="#5c5c5c">Boone, Yusuf</text>
<text x="647.4" y="296.7" font-size="6.8" fill="#8c8c8c" text-anchor="end">285</text>
<text x="681.9" y="296.7" font-size="6.8" fill="#8c8c8c" text-anchor="end">39,271</text>
<line x1="563" x2="683.5" y1="300.5" y2="300.5" stroke="#eeece4" stroke-width="1"/>
<text x="565.8" y="310.5" font-size="6.3" font-weight="700" fill="#5c5c5c">Weber, Dayanara</text>
<text x="647.4" y="310.5" font-size="6.8" fill="#8c8c8c" text-anchor="end">263</text>
<text x="681.9" y="310.5" font-size="6.8" fill="#8c8c8c" text-anchor="end">38,958</text>
<line x1="563" x2="683.5" y1="314.3" y2="314.3" stroke="#eeece4" stroke-width="1"/>
<text x="565.8" y="324.3" font-size="6.3" font-weight="700" fill="#5c5c5c">Walker, Jovanny</text>
<text x="647.4" y="324.3" font-size="6.8" fill="#8c8c8c" text-anchor="end">304</text>
<text x="681.9" y="324.3" font-size="6.8" fill="#8c8c8c" text-anchor="end">38,625</text>
<line x1="563" x2="683.5" y1="328.1" y2="328.1" stroke="#eeece4" stroke-width="1"/>
<text x="565.8" y="338.1" font-size="6.3" font-weight="700" fill="#5c5c5c">Oneal, Deshawn</text>
<text x="647.4" y="338.1" font-size="6.8" fill="#8c8c8c" text-anchor="end">344</text>
<text x="681.9" y="338.1" font-size="6.8" fill="#8c8c8c" text-anchor="end">37,409</text>
<line x1="563" x2="683.5" y1="341.9" y2="341.9" stroke="#eeece4" stroke-width="1"/>
<text x="565.8" y="351.9" font-size="6.3" font-weight="700" fill="#5c5c5c">Austin, Rayne</text>
<text x="647.4" y="351.9" font-size="6.8" fill="#8c8c8c" text-anchor="end">321</text>
<text x="681.9" y="351.9" font-size="6.8" fill="#8c8c8c" text-anchor="end">36,674</text>
<line x1="563" x2="683.5" y1="355.6" y2="355.6" stroke="#eeece4" stroke-width="1"/>
<text x="565.8" y="365.6" font-size="6.3" font-weight="700" fill="#5c5c5c">Lambert, Muha..</text>
<text x="647.4" y="365.6" font-size="6.8" fill="#8c8c8c" text-anchor="end">459</text>
<text x="681.9" y="365.6" font-size="6.8" fill="#8c8c8c" text-anchor="end">36,419</text>
<line x1="563" x2="683.5" y1="369.4" y2="369.4" stroke="#eeece4" stroke-width="1"/>
<text x="565.8" y="379.4" font-size="6.3" font-weight="700" fill="#5c5c5c">Elliott, Ean</text>
<text x="647.4" y="379.4" font-size="6.8" fill="#8c8c8c" text-anchor="end">445</text>
<text x="681.9" y="379.4" font-size="6.8" fill="#8c8c8c" text-anchor="end">35,951</text>
<line x1="563" x2="683.5" y1="383.2" y2="383.2" stroke="#eeece4" stroke-width="1"/>
<text x="565.8" y="393.2" font-size="6.3" font-weight="700" fill="#5c5c5c">Shepherd, Isaac</text>
<text x="647.4" y="393.2" font-size="6.8" fill="#8c8c8c" text-anchor="end">361</text>
<text x="681.9" y="393.2" font-size="6.8" fill="#8c8c8c" text-anchor="end">35,892</text>
<line x1="563" x2="683.5" y1="397.0" y2="397.0" stroke="#eeece4" stroke-width="1"/>
<text x="565.8" y="407.0" font-size="6.3" font-weight="700" fill="#5c5c5c">Allison, Jayden</text>
<text x="647.4" y="407.0" font-size="6.8" fill="#8c8c8c" text-anchor="end">333</text>
<text x="681.9" y="407.0" font-size="6.8" fill="#8c8c8c" text-anchor="end">35,356</text>
<text x="565.8" y="122.9" font-size="6.2" font-weight="700" fill="#5c5c5c" text-anchor="start">Employee</text>
<text x="647.4" y="113.3" font-size="6.2" font-weight="700" fill="#5c5c5c" text-anchor="end">Number</text>
<text x="647.4" y="122.9" font-size="6.2" font-weight="700" fill="#5c5c5c" text-anchor="end">of</text>
<text x="647.4" y="131.7" font-size="6.2" font-weight="700" fill="#5c5c5c" text-anchor="end">Records</text>
<text x="681.9" y="113.3" font-size="6.2" font-weight="700" fill="#5c5c5c" text-anchor="end">Approved</text>
<text x="681.9" y="122.9" font-size="6.2" font-weight="700" fill="#5c5c5c" text-anchor="end">Amount</text>
<text x="681.9" y="131.7" font-size="6.2" font-weight="700" fill="#5c5c5c" text-anchor="end">(rpt)</text>
<rect x="686.4" y="134.5" width="11.6" height="276" fill="#fff" stroke="#d2d2d2" stroke-width="1"/>
<rect x="686.4" y="134.5" width="11.6" height="7.3" fill="#ececec" stroke="#c4c4c4" stroke-width="1"/>
<rect x="698.5" y="7.5" width="16" height="403" fill="#fffdf1"/>
<line x1="698.5" x2="698.5" y1="6" y2="130" stroke="#f1efe6" stroke-width="1"/>
</g>
</g>
</svg>
</body></html>
